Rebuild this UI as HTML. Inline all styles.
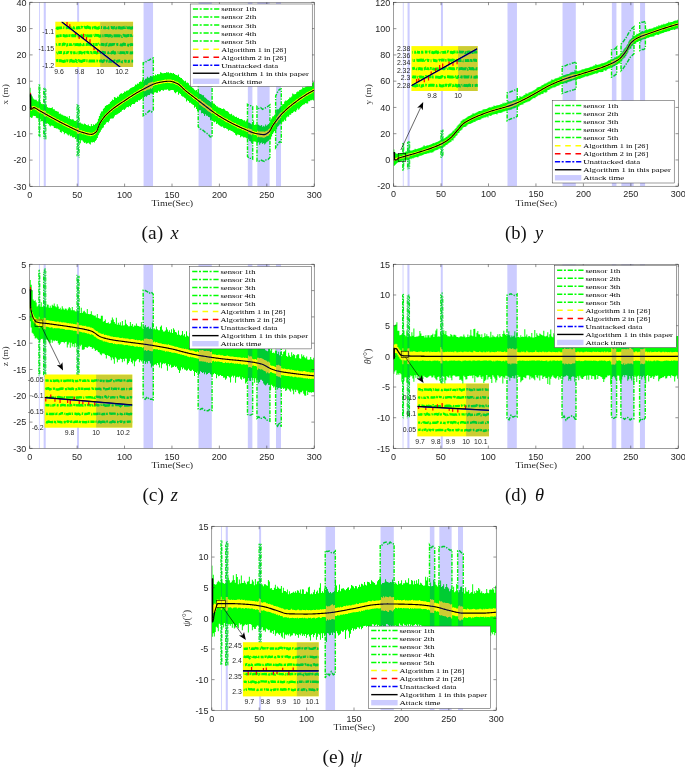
<!DOCTYPE html>
<html lang="en"><head><meta charset="utf-8"><title>Sensor attack estimation figure</title>
<style>
html,body{margin:0;padding:0;background:#fff;}
body{width:685px;height:767px;overflow:hidden;position:relative;}
svg{position:absolute;left:0;top:0;display:block;}
</style></head><body>
<svg width="685" height="767" viewBox="0 0 685 767">
<rect width="685" height="767" fill="#fff"/>
<clipPath id="cla"><rect x="29.8" y="2.3" width="284.4" height="184.1"/></clipPath>
<g clip-path="url(#cla)">
<polygon fill="#00ff00" points="29.8,93.59 30.8,93.59 30.8,95.13 31.8,95.13 31.8,96.39 32.8,96.39 32.8,98.53 33.81,98.53 33.81,99.52 34.81,99.52 34.81,99.72 35.81,99.72 35.81,99.73 36.81,99.73 36.81,101.37 37.81,101.37 37.81,101.37 38.81,101.37 38.81,98.95 39.81,98.95 39.81,101.71 40.82,101.71 40.82,103.65 41.82,103.65 41.82,103.67 42.82,103.67 42.82,104.76 43.82,104.76 43.82,105.12 44.82,105.12 44.82,105.62 45.82,105.62 45.82,104.87 46.82,104.87 46.82,107.03 47.83,107.03 47.83,107.64 48.83,107.64 48.83,107.69 49.83,107.69 49.83,108.06 50.83,108.06 50.83,108 51.83,108 51.83,107.35 52.83,107.35 52.83,109.28 53.83,109.28 53.83,109.26 54.84,109.26 54.84,110.85 55.84,110.85 55.84,110.89 56.84,110.89 56.84,111.58 57.84,111.58 57.84,111.83 58.84,111.83 58.84,113.74 59.84,113.74 59.84,113.45 60.84,113.45 60.84,114.6 61.85,114.6 61.85,114.64 62.85,114.64 62.85,115.49 63.85,115.49 63.85,115.68 64.85,115.68 64.85,116 65.85,116 65.85,116.84 66.85,116.84 66.85,116.86 67.85,116.86 67.85,118.13 68.85,118.13 68.85,115.94 69.86,115.94 69.86,118.99 70.86,118.99 70.86,119.58 71.86,119.58 71.86,119.27 72.86,119.27 72.86,119.59 73.86,119.59 73.86,120.67 74.86,120.67 74.86,120.97 75.86,120.97 75.86,120.58 76.87,120.58 76.87,122.54 77.87,122.54 77.87,122.58 78.87,122.58 78.87,122.77 79.87,122.77 79.87,122.52 80.87,122.52 80.87,123.38 81.87,123.38 81.87,123.87 82.87,123.87 82.87,124.38 83.88,124.38 83.88,123.38 84.88,123.38 84.88,124.1 85.88,124.1 85.88,125.07 86.88,125.07 86.88,125.33 87.88,125.33 87.88,124.44 88.88,124.44 88.88,125.96 89.88,125.96 89.88,126.16 90.89,126.16 90.89,123.93 91.89,123.93 91.89,125.9 92.89,125.9 92.89,124.35 93.89,124.35 93.89,125.07 94.89,125.07 94.89,123.86 95.89,123.86 95.89,123.26 96.89,123.26 96.89,121.81 97.9,121.81 97.9,118.74 98.9,118.74 98.9,116.05 99.9,116.05 99.9,113.59 100.9,113.59 100.9,111.45 101.9,111.45 101.9,111.33 102.9,111.33 102.9,108.79 103.9,108.79 103.9,107.69 104.91,107.69 104.91,106.05 105.91,106.05 105.91,105.22 106.91,105.22 106.91,104.88 107.91,104.88 107.91,104.33 108.91,104.33 108.91,103.77 109.91,103.77 109.91,102.03 110.91,102.03 110.91,100.95 111.92,100.95 111.92,99.52 112.92,99.52 112.92,100.01 113.92,100.01 113.92,97.09 114.92,97.09 114.92,97.54 115.92,97.54 115.92,98.05 116.92,98.05 116.92,96.39 117.92,96.39 117.92,96.71 118.93,96.71 118.93,94.82 119.93,94.82 119.93,93.67 120.93,93.67 120.93,93.23 121.93,93.23 121.93,93.69 122.93,93.69 122.93,92.9 123.93,92.9 123.93,91.39 124.93,91.39 124.93,91.8 125.94,91.8 125.94,90.82 126.94,90.82 126.94,90.57 127.94,90.57 127.94,90.17 128.94,90.17 128.94,89.34 129.94,89.34 129.94,88.18 130.94,88.18 130.94,87.87 131.94,87.87 131.94,87.3 132.95,87.3 132.95,86.88 133.95,86.88 133.95,86.14 134.95,86.14 134.95,84.52 135.95,84.52 135.95,84.68 136.95,84.68 136.95,83.41 137.95,83.41 137.95,83.79 138.95,83.79 138.95,82.04 139.95,82.04 139.95,81.58 140.96,81.58 140.96,81.8 141.96,81.8 141.96,79.77 142.96,79.77 142.96,81.19 143.96,81.19 143.96,80.3 144.96,80.3 144.96,78.84 145.96,78.84 145.96,78.42 146.96,78.42 146.96,76.71 147.97,76.71 147.97,77.84 148.97,77.84 148.97,77.49 149.97,77.49 149.97,75.95 150.97,75.95 150.97,76.34 151.97,76.34 151.97,76.41 152.97,76.41 152.97,75.91 153.97,75.91 153.97,75.67 154.98,75.67 154.98,74.47 155.98,74.47 155.98,75.18 156.98,75.18 156.98,74.08 157.98,74.08 157.98,74.35 158.98,74.35 158.98,74.23 159.98,74.23 159.98,72.31 160.98,72.31 160.98,72.77 161.99,72.77 161.99,73.21 162.99,73.21 162.99,73.24 163.99,73.24 163.99,73.11 164.99,73.11 164.99,73.02 165.99,73.02 165.99,72.18 166.99,72.18 166.99,72.59 167.99,72.59 167.99,72.35 169,72.35 169,73.21 170,73.21 170,72.74 171,72.74 171,72.89 172,72.89 172,73.38 173,73.38 173,73.09 174,73.09 174,74 175,74 175,74.82 176.01,74.82 176.01,75.08 177.01,75.08 177.01,75.46 178.01,75.46 178.01,74.58 179.01,74.58 179.01,77.08 180.01,77.08 180.01,77.78 181.01,77.78 181.01,77.89 182.01,77.89 182.01,79.34 183.02,79.34 183.02,80.25 184.02,80.25 184.02,81.13 185.02,81.13 185.02,80.81 186.02,80.81 186.02,82.83 187.02,82.83 187.02,82.61 188.02,82.61 188.02,83.13 189.02,83.13 189.02,85.16 190.03,85.16 190.03,85.2 191.03,85.2 191.03,87.08 192.03,87.08 192.03,87.76 193.03,87.76 193.03,88.56 194.03,88.56 194.03,89.65 195.03,89.65 195.03,90.45 196.03,90.45 196.03,89.96 197.04,89.96 197.04,91.99 198.04,91.99 198.04,92.2 199.04,92.2 199.04,93.55 200.04,93.55 200.04,93.98 201.04,93.98 201.04,94.6 202.04,94.6 202.04,95.18 203.04,95.18 203.04,95.22 204.05,95.22 204.05,97.21 205.05,97.21 205.05,97.67 206.05,97.67 206.05,98.64 207.05,98.64 207.05,99.68 208.05,99.68 208.05,100.14 209.05,100.14 209.05,101.01 210.05,101.01 210.05,102.12 211.05,102.12 211.05,102.34 212.06,102.34 212.06,102.37 213.06,102.37 213.06,103.52 214.06,103.52 214.06,103.81 215.06,103.81 215.06,105.08 216.06,105.08 216.06,106.27 217.06,106.27 217.06,106.59 218.06,106.59 218.06,107.49 219.07,107.49 219.07,107.85 220.07,107.85 220.07,107.99 221.07,107.99 221.07,108.8 222.07,108.8 222.07,108.96 223.07,108.96 223.07,108.61 224.07,108.61 224.07,109.32 225.07,109.32 225.07,110.45 226.08,110.45 226.08,111.03 227.08,111.03 227.08,111.36 228.08,111.36 228.08,112.16 229.08,112.16 229.08,113.69 230.08,113.69 230.08,114.16 231.08,114.16 231.08,113.83 232.08,113.83 232.08,115.43 233.09,115.43 233.09,115.28 234.09,115.28 234.09,116.28 235.09,116.28 235.09,116.97 236.09,116.97 236.09,116.8 237.09,116.8 237.09,118.02 238.09,118.02 238.09,117.77 239.09,117.77 239.09,118.98 240.1,118.98 240.1,118.96 241.1,118.96 241.1,119.11 242.1,119.11 242.1,119.69 243.1,119.69 243.1,120.39 244.1,120.39 244.1,120.27 245.1,120.27 245.1,121.4 246.1,121.4 246.1,120.59 247.11,120.59 247.11,121.72 248.11,121.72 248.11,122.58 249.11,122.58 249.11,122.83 250.11,122.83 250.11,123.47 251.11,123.47 251.11,124.17 252.11,124.17 252.11,124.57 253.11,124.57 253.11,120.53 254.12,120.53 254.12,125.11 255.12,125.11 255.12,124.58 256.12,124.58 256.12,125.12 257.12,125.12 257.12,124.57 258.12,124.57 258.12,124.7 259.12,124.7 259.12,125.4 260.12,125.4 260.12,125.66 261.13,125.66 261.13,124.99 262.13,124.99 262.13,126.63 263.13,126.63 263.13,125.66 264.13,125.66 264.13,126.38 265.13,126.38 265.13,124.5 266.13,124.5 266.13,125.65 267.13,125.65 267.13,124.7 268.14,124.7 268.14,123.97 269.14,123.97 269.14,123.02 270.14,123.02 270.14,120.15 271.14,120.15 271.14,118.43 272.14,118.43 272.14,116.59 273.14,116.59 273.14,116.2 274.14,116.2 274.14,114.79 275.15,114.79 275.15,113.26 276.15,113.26 276.15,109.69 277.15,109.69 277.15,109.31 278.15,109.31 278.15,109.3 279.15,109.3 279.15,107.84 280.15,107.84 280.15,106.48 281.15,106.48 281.15,105.63 282.15,105.63 282.15,104.27 283.16,104.27 283.16,103.89 284.16,103.89 284.16,101.41 285.16,101.41 285.16,100.41 286.16,100.41 286.16,100.64 287.16,100.64 287.16,99.92 288.16,99.92 288.16,99.05 289.16,99.05 289.16,97.58 290.17,97.58 290.17,97.59 291.17,97.59 291.17,96.59 292.17,96.59 292.17,93.43 293.17,93.43 293.17,94.36 294.17,94.36 294.17,94.3 295.17,94.3 295.17,94.01 296.17,94.01 296.17,92.15 297.18,92.15 297.18,91.4 298.18,91.4 298.18,91.5 299.18,91.5 299.18,90.01 300.18,90.01 300.18,89.84 301.18,89.84 301.18,89.31 302.18,89.31 302.18,87.24 303.18,87.24 303.18,87.73 304.19,87.73 304.19,87.47 305.19,87.47 305.19,86.48 306.19,86.48 306.19,86.3 307.19,86.3 307.19,85.8 308.19,85.8 308.19,83.38 309.19,83.38 309.19,83.58 310.19,83.58 310.19,82.98 311.2,82.98 311.2,83.41 312.2,83.41 312.2,82.74 313.2,82.74 313.2,81.99 314.2,81.99 314.2,100.41 313.2,100.41 313.2,99.82 312.2,99.82 312.2,100.31 311.2,100.31 311.2,100.17 310.19,100.17 310.19,101.25 309.19,101.25 309.19,101.31 308.19,101.31 308.19,103.56 307.19,103.56 307.19,103.48 306.19,103.48 306.19,103 305.19,103 305.19,104.3 304.19,104.3 304.19,104.61 303.18,104.61 303.18,104.94 302.18,104.94 302.18,106.09 301.18,106.09 301.18,107.06 300.18,107.06 300.18,108.59 299.18,108.59 299.18,109.69 298.18,109.69 298.18,108.5 297.18,108.5 297.18,110.17 296.17,110.17 296.17,111.98 295.17,111.98 295.17,111.18 294.17,111.18 294.17,111.73 293.17,111.73 293.17,113.03 292.17,113.03 292.17,113.18 291.17,113.18 291.17,114.63 290.17,114.63 290.17,114.73 289.16,114.73 289.16,116.78 288.16,116.78 288.16,116.52 287.16,116.52 287.16,117.45 286.16,117.45 286.16,120.9 285.16,120.9 285.16,119.64 284.16,119.64 284.16,121.59 283.16,121.59 283.16,121.71 282.15,121.71 282.15,123.68 281.15,123.68 281.15,123.56 280.15,123.56 280.15,124.5 279.15,124.5 279.15,125.64 278.15,125.64 278.15,126.73 277.15,126.73 277.15,129.32 276.15,129.32 276.15,129.54 275.15,129.54 275.15,130.97 274.14,130.97 274.14,132.5 273.14,132.5 273.14,133.98 272.14,133.98 272.14,136.59 271.14,136.59 271.14,139.33 270.14,139.33 270.14,139.6 269.14,139.6 269.14,140.84 268.14,140.84 268.14,141.58 267.13,141.58 267.13,142.24 266.13,142.24 266.13,143.47 265.13,143.47 265.13,144.59 264.13,144.59 264.13,142.99 263.13,142.99 263.13,144.1 262.13,144.1 262.13,142.56 261.13,142.56 261.13,143.18 260.12,143.18 260.12,144.83 259.12,144.83 259.12,142.19 258.12,142.19 258.12,142.94 257.12,142.94 257.12,142.29 256.12,142.29 256.12,141.87 255.12,141.87 255.12,141.43 254.12,141.43 254.12,141.38 253.11,141.38 253.11,140.75 252.11,140.75 252.11,143.35 251.11,143.35 251.11,141.42 250.11,141.42 250.11,140.97 249.11,140.97 249.11,139.27 248.11,139.27 248.11,138.42 247.11,138.42 247.11,138.17 246.1,138.17 246.1,137.62 245.1,137.62 245.1,137.24 244.1,137.24 244.1,137.52 243.1,137.52 243.1,136.47 242.1,136.47 242.1,136.24 241.1,136.24 241.1,137.34 240.1,137.34 240.1,135 239.09,135 239.09,134.8 238.09,134.8 238.09,134.61 237.09,134.61 237.09,135.43 236.09,135.43 236.09,134.87 235.09,134.87 235.09,133.06 234.09,133.06 234.09,132.19 233.09,132.19 233.09,131.52 232.08,131.52 232.08,131.06 231.08,131.06 231.08,130.47 230.08,130.47 230.08,130.11 229.08,130.11 229.08,130.74 228.08,130.74 228.08,129.32 227.08,129.32 227.08,128.83 226.08,128.83 226.08,127.93 225.07,127.93 225.07,128.25 224.07,128.25 224.07,127.66 223.07,127.66 223.07,126.39 222.07,126.39 222.07,126.83 221.07,126.83 221.07,126.27 220.07,126.27 220.07,125.5 219.07,125.5 219.07,124.67 218.06,124.67 218.06,123.41 217.06,123.41 217.06,123.95 216.06,123.95 216.06,121.61 215.06,121.61 215.06,122.21 214.06,122.21 214.06,121.49 213.06,121.49 213.06,120.7 212.06,120.7 212.06,119.64 211.05,119.64 211.05,120.18 210.05,120.18 210.05,117.28 209.05,117.28 209.05,117.1 208.05,117.1 208.05,115.75 207.05,115.75 207.05,115.66 206.05,115.66 206.05,114.37 205.05,114.37 205.05,115.93 204.05,115.93 204.05,113.79 203.04,113.79 203.04,112.94 202.04,112.94 202.04,113.16 201.04,113.16 201.04,110.26 200.04,110.26 200.04,110.23 199.04,110.23 199.04,110.88 198.04,110.88 198.04,111.03 197.04,111.03 197.04,108.94 196.03,108.94 196.03,106.84 195.03,106.84 195.03,107.63 194.03,107.63 194.03,105 193.03,105 193.03,104.61 192.03,104.61 192.03,103.79 191.03,103.79 191.03,102.84 190.03,102.84 190.03,102.66 189.02,102.66 189.02,101.04 188.02,101.04 188.02,100.37 187.02,100.37 187.02,101.48 186.02,101.48 186.02,98.56 185.02,98.56 185.02,97.66 184.02,97.66 184.02,96.78 183.02,96.78 183.02,96.49 182.01,96.49 182.01,95.82 181.01,95.82 181.01,93.93 180.01,93.93 180.01,93.27 179.01,93.27 179.01,94.75 178.01,94.75 178.01,91.87 177.01,91.87 177.01,92.34 176.01,92.34 176.01,93.23 175,93.23 175,92.2 174,92.2 174,90.33 173,90.33 173,90.03 172,90.03 172,90.07 171,90.07 171,90.14 170,90.14 170,90.84 169,90.84 169,90.4 167.99,90.4 167.99,89.32 166.99,89.32 166.99,89.69 165.99,89.69 165.99,89.69 164.99,89.69 164.99,89.63 163.99,89.63 163.99,90.86 162.99,90.86 162.99,90.24 161.99,90.24 161.99,90.03 160.98,90.03 160.98,91.18 159.98,91.18 159.98,91.86 158.98,91.86 158.98,90.65 157.98,90.65 157.98,92.77 156.98,92.77 156.98,92.78 155.98,92.78 155.98,92.2 154.98,92.2 154.98,92.52 153.97,92.52 153.97,92.03 152.97,92.03 152.97,93.88 151.97,93.88 151.97,93.48 150.97,93.48 150.97,93.61 149.97,93.61 149.97,95.1 148.97,95.1 148.97,95.1 147.97,95.1 147.97,95.41 146.96,95.41 146.96,96.76 145.96,96.76 145.96,96.13 144.96,96.13 144.96,97.03 143.96,97.03 143.96,97.91 142.96,97.91 142.96,97.71 141.96,97.71 141.96,98.95 140.96,98.95 140.96,99.87 139.95,99.87 139.95,100.56 138.95,100.56 138.95,100.14 137.95,100.14 137.95,101.99 136.95,101.99 136.95,101.63 135.95,101.63 135.95,102.48 134.95,102.48 134.95,103.99 133.95,103.99 133.95,103.93 132.95,103.93 132.95,104.07 131.94,104.07 131.94,105.16 130.94,105.16 130.94,107 129.94,107 129.94,106.05 128.94,106.05 128.94,107.32 127.94,107.32 127.94,107.08 126.94,107.08 126.94,107.4 125.94,107.4 125.94,108.83 124.93,108.83 124.93,110 123.93,110 123.93,109.51 122.93,109.51 122.93,110.11 121.93,110.11 121.93,111.56 120.93,111.56 120.93,112.08 119.93,112.08 119.93,112.97 118.93,112.97 118.93,113.54 117.92,113.54 117.92,114.16 116.92,114.16 116.92,114.7 115.92,114.7 115.92,115.02 114.92,115.02 114.92,116.38 113.92,116.38 113.92,118.32 112.92,118.32 112.92,118.49 111.92,118.49 111.92,118.53 110.91,118.53 110.91,118.84 109.91,118.84 109.91,120.68 108.91,120.68 108.91,122.6 107.91,122.6 107.91,122.1 106.91,122.1 106.91,122.54 105.91,122.54 105.91,124.29 104.91,124.29 104.91,125.03 103.9,125.03 103.9,127.4 102.9,127.4 102.9,128.13 101.9,128.13 101.9,129.72 100.9,129.72 100.9,131.66 99.9,131.66 99.9,133.31 98.9,133.31 98.9,135.34 97.9,135.34 97.9,138.02 96.89,138.02 96.89,139.7 95.89,139.7 95.89,140.93 94.89,140.93 94.89,142.46 93.89,142.46 93.89,141.88 92.89,141.88 92.89,142.53 91.89,142.53 91.89,142.31 90.89,142.31 90.89,144.49 89.88,144.49 89.88,143.84 88.88,143.84 88.88,142.7 87.88,142.7 87.88,143.18 86.88,143.18 86.88,143.79 85.88,143.79 85.88,142.39 84.88,142.39 84.88,142.88 83.88,142.88 83.88,141.72 82.87,141.72 82.87,140.49 81.87,140.49 81.87,140.33 80.87,140.33 80.87,143.21 79.87,143.21 79.87,140.13 78.87,140.13 78.87,140.2 77.87,140.2 77.87,140.54 76.87,140.54 76.87,138.56 75.86,138.56 75.86,138.88 74.86,138.88 74.86,137.12 73.86,137.12 73.86,137.48 72.86,137.48 72.86,137.2 71.86,137.2 71.86,135.83 70.86,135.83 70.86,136.25 69.86,136.25 69.86,134.62 68.85,134.62 68.85,135.52 67.85,135.52 67.85,134.56 66.85,134.56 66.85,133.55 65.85,133.55 65.85,133.08 64.85,133.08 64.85,134.35 63.85,134.35 63.85,131.91 62.85,131.91 62.85,131.37 61.85,131.37 61.85,132.8 60.84,132.8 60.84,132.11 59.84,132.11 59.84,129.79 58.84,129.79 58.84,129.26 57.84,129.26 57.84,128.57 56.84,128.57 56.84,128.45 55.84,128.45 55.84,128.02 54.84,128.02 54.84,127.95 53.83,127.95 53.83,126.36 52.83,126.36 52.83,125.85 51.83,125.85 51.83,125.45 50.83,125.45 50.83,126.5 49.83,126.5 49.83,125.51 48.83,125.51 48.83,124.1 47.83,124.1 47.83,123.26 46.82,123.26 46.82,123.81 45.82,123.81 45.82,122.86 44.82,122.86 44.82,122.95 43.82,122.95 43.82,122.71 42.82,122.71 42.82,121.04 41.82,121.04 41.82,121.16 40.82,121.16 40.82,119.1 39.81,119.1 39.81,120.06 38.81,120.06 38.81,118.09 37.81,118.09 37.81,118.27 36.81,118.27 36.81,117.71 35.81,117.71 35.81,116.09 34.81,116.09 34.81,115.93 33.81,115.93 33.81,115.69 32.8,115.69 32.8,117.61 31.8,117.61 31.8,117.95 30.8,117.95 30.8,116.95 29.8,116.95"/>
<line x1="38.88" y1="84.41" x2="38.88" y2="136.18" stroke="#00ff00" stroke-width="1.0" stroke-dasharray="4 1.3 1.3 1.3" stroke-dashoffset="5.9"/>
<line x1="39.41" y1="84.75" x2="39.41" y2="136.32" stroke="#00ff00" stroke-width="1.0" stroke-dasharray="4 1.3 1.3 1.3" stroke-dashoffset="2.62"/>
<line x1="39.94" y1="84.65" x2="39.94" y2="137.17" stroke="#00ff00" stroke-width="1.0" stroke-dasharray="4 1.3 1.3 1.3" stroke-dashoffset="5.88"/>
<line x1="43.62" y1="87.68" x2="43.62" y2="138.47" stroke="#00ff00" stroke-width="1.0" stroke-dasharray="4 1.3 1.3 1.3" stroke-dashoffset="4.79"/>
<line x1="44.39" y1="87.05" x2="44.39" y2="139.22" stroke="#00ff00" stroke-width="1.0" stroke-dasharray="4 1.3 1.3 1.3" stroke-dashoffset="3.73"/>
<line x1="45.15" y1="88.22" x2="45.15" y2="138.82" stroke="#00ff00" stroke-width="1.0" stroke-dasharray="4 1.3 1.3 1.3" stroke-dashoffset="2.53"/>
<line x1="45.92" y1="89.18" x2="45.92" y2="139.86" stroke="#00ff00" stroke-width="1.0" stroke-dasharray="4 1.3 1.3 1.3" stroke-dashoffset="1.21"/>
<line x1="76.99" y1="104.17" x2="76.99" y2="156.35" stroke="#00ff00" stroke-width="1.0" stroke-dasharray="4 1.3 1.3 1.3" stroke-dashoffset="5.51"/>
<line x1="77.72" y1="104.81" x2="77.72" y2="155.96" stroke="#00ff00" stroke-width="1.0" stroke-dasharray="4 1.3 1.3 1.3" stroke-dashoffset="1.38"/>
<line x1="78.46" y1="105.32" x2="78.46" y2="156.2" stroke="#00ff00" stroke-width="1.0" stroke-dasharray="4 1.3 1.3 1.3" stroke-dashoffset="5.4"/>
<line x1="79.19" y1="105.27" x2="79.19" y2="157.54" stroke="#00ff00" stroke-width="1.0" stroke-dasharray="4 1.3 1.3 1.3" stroke-dashoffset="3.65"/>
<path d="M143.23,89.26 L143.23,62.77 145.25,62.45 147.27,60.39 149.29,60.13 151.31,58.79 153.32,57.98 L153.32,84.2" fill="none" stroke="#00ff00" stroke-width="1.45" stroke-dasharray="4 1.3 1.3 1.3"/>
<path d="M143.23,89.26 L143.23,115.78 145.25,114.48 147.27,112.88 149.29,110.71 151.31,112.09 153.32,110.37 L153.32,84.2" fill="none" stroke="#00ff00" stroke-width="1.45" stroke-dasharray="4 1.3 1.3 1.3"/>
<path d="M198.21,100.55 L198.21,74.39 200.2,76.3 202.18,77.15 204.16,79.33 206.15,80.42 208.13,81.23 210.12,84.55 212.1,84.79 L212.1,111.18" fill="none" stroke="#00ff00" stroke-width="1.45" stroke-dasharray="4 1.3 1.3 1.3"/>
<path d="M198.21,100.55 L198.21,126.64 200.2,128.92 202.18,129.62 204.16,131.25 206.15,133.17 208.13,133.85 210.12,136.76 212.1,137.17 L212.1,111.18" fill="none" stroke="#00ff00" stroke-width="1.45" stroke-dasharray="4 1.3 1.3 1.3"/>
<path d="M247.51,130.48 L247.51,104.35 249.23,105.54 250.95,105.76 252.67,106.49 L252.67,132.56" fill="none" stroke="#00ff00" stroke-width="1.45" stroke-dasharray="4 1.3 1.3 1.3"/>
<path d="M247.51,130.48 L247.51,156.37 249.23,158.39 250.95,158.37 252.67,159.15 L252.67,132.56" fill="none" stroke="#00ff00" stroke-width="1.45" stroke-dasharray="4 1.3 1.3 1.3"/>
<path d="M256.99,133.74 L256.99,106.61 258.84,108.41 260.69,107.5 262.53,109.25 264.38,108.11 266.23,107.73 268.08,106.22 269.93,104.9 L269.93,130.77" fill="none" stroke="#00ff00" stroke-width="1.45" stroke-dasharray="4 1.3 1.3 1.3"/>
<path d="M256.99,133.74 L256.99,161.16 258.84,161.25 260.69,159.96 262.53,160.76 264.38,161.38 266.23,159.76 268.08,159.44 269.93,157.52 L269.93,130.77" fill="none" stroke="#00ff00" stroke-width="1.45" stroke-dasharray="4 1.3 1.3 1.3"/>
<path d="M275.66,121.46 L275.66,95.88 277.54,92.07 279.42,89.32 281.3,88.84 L281.3,114.56" fill="none" stroke="#00ff00" stroke-width="1.45" stroke-dasharray="4 1.3 1.3 1.3"/>
<path d="M275.66,121.46 L275.66,147.65 277.54,144.78 279.42,141.84 281.3,142.23 L281.3,114.56" fill="none" stroke="#00ff00" stroke-width="1.45" stroke-dasharray="4 1.3 1.3 1.3"/>
<polygon fill="#ffff00" points="29.8,106.82 30.8,106.82 30.8,107.44 31.8,107.44 31.8,106.31 32.8,106.31 32.8,105.92 33.81,105.92 33.81,106.15 34.81,106.15 34.81,106.47 35.81,106.47 35.81,107.03 36.81,107.03 36.81,107.73 37.81,107.73 37.81,108.31 38.81,108.31 38.81,107.79 39.81,107.79 39.81,109.54 40.82,109.54 40.82,110.02 41.82,110.02 41.82,110.4 42.82,110.4 42.82,110.97 43.82,110.97 43.82,110.46 44.82,110.46 44.82,111.11 45.82,111.11 45.82,112.87 46.82,112.87 46.82,113.5 47.83,113.5 47.83,113.86 48.83,113.86 48.83,114.58 49.83,114.58 49.83,115.08 50.83,115.08 50.83,115.79 51.83,115.79 51.83,116.34 52.83,116.34 52.83,116.85 53.83,116.85 53.83,117.26 54.84,117.26 54.84,117.78 55.84,117.78 55.84,118.44 56.84,118.44 56.84,119.02 57.84,119.02 57.84,119.3 58.84,119.3 58.84,120.01 59.84,120.01 59.84,120.65 60.84,120.65 60.84,121.05 61.85,121.05 61.85,121.62 62.85,121.62 62.85,122.03 63.85,122.03 63.85,122.72 64.85,122.72 64.85,123.07 65.85,123.07 65.85,123.19 66.85,123.19 66.85,123.98 67.85,123.98 67.85,124.4 68.85,124.4 68.85,125.14 69.86,125.14 69.86,125.63 70.86,125.63 70.86,125.94 71.86,125.94 71.86,126.66 72.86,126.66 72.86,126.94 73.86,126.94 73.86,127.24 74.86,127.24 74.86,128.09 75.86,128.09 75.86,128.53 76.87,128.53 76.87,127.85 77.87,127.85 77.87,127.93 78.87,127.93 78.87,129.73 79.87,129.73 79.87,130.14 80.87,130.14 80.87,130.25 81.87,130.25 81.87,130.64 82.87,130.64 82.87,130.98 83.88,130.98 83.88,131.21 84.88,131.21 84.88,131.67 85.88,131.67 85.88,131.92 86.88,131.92 86.88,132.24 87.88,132.24 87.88,132.24 88.88,132.24 88.88,132.61 89.88,132.61 89.88,132.69 90.89,132.69 90.89,132.69 91.89,132.69 91.89,132.66 92.89,132.66 92.89,131.96 93.89,131.96 93.89,131.75 94.89,131.75 94.89,130.8 95.89,130.8 95.89,129.84 96.89,129.84 96.89,128.13 97.9,128.13 97.9,125.56 98.9,125.56 98.9,122.65 99.9,122.65 99.9,120.87 100.9,120.87 100.9,119.35 101.9,119.35 101.9,117.61 102.9,117.61 102.9,116.45 103.9,116.45 103.9,115.18 104.91,115.18 104.91,113.87 105.91,113.87 105.91,113.07 106.91,113.07 106.91,111.89 107.91,111.89 107.91,111.09 108.91,111.09 108.91,110.15 109.91,110.15 109.91,109.24 110.91,109.24 110.91,108.45 111.92,108.45 111.92,107.52 112.92,107.52 112.92,106.85 113.92,106.85 113.92,105.96 114.92,105.96 114.92,105.33 115.92,105.33 115.92,104.55 116.92,104.55 116.92,103.85 117.92,103.85 117.92,103.18 118.93,103.18 118.93,102.54 119.93,102.54 119.93,101.7 120.93,101.7 120.93,101.24 121.93,101.24 121.93,100.39 122.93,100.39 122.93,99.7 123.93,99.7 123.93,99.24 124.93,99.24 124.93,98.45 125.94,98.45 125.94,97.83 126.94,97.83 126.94,97.03 127.94,97.03 127.94,96.53 128.94,96.53 128.94,95.79 129.94,95.79 129.94,95.23 130.94,95.23 130.94,94.58 131.94,94.58 131.94,93.9 132.95,93.9 132.95,93.25 133.95,93.25 133.95,92.5 134.95,92.5 134.95,91.98 135.95,91.98 135.95,91.44 136.95,91.44 136.95,90.83 137.95,90.83 137.95,90.32 138.95,90.32 138.95,89.29 139.95,89.29 139.95,89.01 140.96,89.01 140.96,88.65 141.96,88.65 141.96,88 142.96,88 142.96,87.37 143.96,87.37 143.96,85.92 144.96,85.92 144.96,84.96 145.96,84.96 145.96,84.95 146.96,84.95 146.96,84.43 147.97,84.43 147.97,83.26 148.97,83.26 148.97,82.83 149.97,82.83 149.97,82.42 150.97,82.42 150.97,82.37 151.97,82.37 151.97,81.68 152.97,81.68 152.97,82.56 153.97,82.56 153.97,82.19 154.98,82.19 154.98,81.66 155.98,81.66 155.98,81.55 156.98,81.55 156.98,81.12 157.98,81.12 157.98,81.09 158.98,81.09 158.98,80.83 159.98,80.83 159.98,80.66 160.98,80.66 160.98,80.42 161.99,80.42 161.99,80.31 162.99,80.31 162.99,79.91 163.99,79.91 163.99,79.81 164.99,79.81 164.99,79.59 165.99,79.59 165.99,79.79 166.99,79.79 166.99,79.41 167.99,79.41 167.99,79.49 169,79.49 169,79.44 170,79.44 170,79.54 171,79.54 171,79.82 172,79.82 172,80.18 173,80.18 173,80.04 174,80.04 174,80.78 175,80.78 175,81.16 176.01,81.16 176.01,81.4 177.01,81.4 177.01,81.77 178.01,81.77 178.01,82.53 179.01,82.53 179.01,83.47 180.01,83.47 180.01,84.14 181.01,84.14 181.01,84.81 182.01,84.81 182.01,85.98 183.02,85.98 183.02,86.95 184.02,86.95 184.02,87.76 185.02,87.76 185.02,89.05 186.02,89.05 186.02,89.71 187.02,89.71 187.02,90.42 188.02,90.42 188.02,91.42 189.02,91.42 189.02,92.23 190.03,92.23 190.03,93.08 191.03,93.08 191.03,93.85 192.03,93.85 192.03,94.55 193.03,94.55 193.03,95.23 194.03,95.23 194.03,96.18 195.03,96.18 195.03,96.83 196.03,96.83 196.03,97.37 197.04,97.37 197.04,98.33 198.04,98.33 198.04,99.09 199.04,99.09 199.04,98.79 200.04,98.79 200.04,99.13 201.04,99.13 201.04,100.41 202.04,100.41 202.04,100.89 203.04,100.89 203.04,101.95 204.05,101.95 204.05,102.5 205.05,102.5 205.05,103.41 206.05,103.41 206.05,104.13 207.05,104.13 207.05,104.99 208.05,104.99 208.05,105.76 209.05,105.76 209.05,106.22 210.05,106.22 210.05,107.08 211.05,107.08 211.05,108.02 212.06,108.02 212.06,109.82 213.06,109.82 213.06,110.43 214.06,110.43 214.06,111.24 215.06,111.24 215.06,111.62 216.06,111.62 216.06,112.71 217.06,112.71 217.06,113.38 218.06,113.38 218.06,114.1 219.07,114.1 219.07,114.58 220.07,114.58 220.07,115.3 221.07,115.3 221.07,115.83 222.07,115.83 222.07,116.53 223.07,116.53 223.07,117.09 224.07,117.09 224.07,117.68 225.07,117.68 225.07,118.29 226.08,118.29 226.08,118.57 227.08,118.57 227.08,119.02 228.08,119.02 228.08,119.92 229.08,119.92 229.08,120.22 230.08,120.22 230.08,120.82 231.08,120.82 231.08,121.55 232.08,121.55 232.08,122.02 233.09,122.02 233.09,122.44 234.09,122.44 234.09,122.95 235.09,122.95 235.09,123.06 236.09,123.06 236.09,124.06 237.09,124.06 237.09,124.47 238.09,124.47 238.09,124.8 239.09,124.8 239.09,125.35 240.1,125.35 240.1,125.89 241.1,125.89 241.1,126.27 242.1,126.27 242.1,126.76 243.1,126.76 243.1,127.21 244.1,127.21 244.1,127.6 245.1,127.6 245.1,127.95 246.1,127.95 246.1,128.24 247.11,128.24 247.11,128.85 248.11,128.85 248.11,128.31 249.11,128.31 249.11,128.72 250.11,128.72 250.11,129.01 251.11,129.01 251.11,129.38 252.11,129.38 252.11,130.81 253.11,130.81 253.11,131.06 254.12,131.06 254.12,131.52 255.12,131.52 255.12,131.86 256.12,131.86 256.12,131.96 257.12,131.96 257.12,130.85 258.12,130.85 258.12,131.38 259.12,131.38 259.12,131.39 260.12,131.39 260.12,131.53 261.13,131.53 261.13,131.54 262.13,131.54 262.13,131.52 263.13,131.52 263.13,131.44 264.13,131.44 264.13,131.8 265.13,131.8 265.13,131.13 266.13,131.13 266.13,130.73 267.13,130.73 267.13,130.38 268.14,130.38 268.14,129.27 269.14,129.27 269.14,128.57 270.14,128.57 270.14,127.83 271.14,127.83 271.14,126.14 272.14,126.14 272.14,124.24 273.14,124.24 273.14,122.57 274.14,122.57 274.14,121.3 275.15,121.3 275.15,119.89 276.15,119.89 276.15,117.45 277.15,117.45 277.15,116.07 278.15,116.07 278.15,114.76 279.15,114.76 279.15,113.57 280.15,113.57 280.15,112.62 281.15,112.62 281.15,112.54 282.15,112.54 282.15,111.63 283.16,111.63 283.16,110.54 284.16,110.54 284.16,109.43 285.16,109.43 285.16,108.67 286.16,108.67 286.16,107.74 287.16,107.74 287.16,106.55 288.16,106.55 288.16,105.47 289.16,105.47 289.16,104.94 290.17,104.94 290.17,103.81 291.17,103.81 291.17,103.47 292.17,103.47 292.17,102.6 293.17,102.6 293.17,101.78 294.17,101.78 294.17,101.08 295.17,101.08 295.17,100.24 296.17,100.24 296.17,99.32 297.18,99.32 297.18,98.85 298.18,98.85 298.18,98.15 299.18,98.15 299.18,97.28 300.18,97.28 300.18,96.69 301.18,96.69 301.18,96.01 302.18,96.01 302.18,95.33 303.18,95.33 303.18,94.7 304.19,94.7 304.19,94.04 305.19,94.04 305.19,93.3 306.19,93.3 306.19,92.58 307.19,92.58 307.19,92.03 308.19,92.03 308.19,91.41 309.19,91.41 309.19,90.97 310.19,90.97 310.19,90.43 311.2,90.43 311.2,89.9 312.2,89.9 312.2,89.31 313.2,89.31 313.2,88.85 314.2,88.85 314.2,92.09 313.2,92.09 313.2,92.47 312.2,92.47 312.2,93.27 311.2,93.27 311.2,93.81 310.19,93.81 310.19,94.21 309.19,94.21 309.19,94.87 308.19,94.87 308.19,95.46 307.19,95.46 307.19,96.07 306.19,96.07 306.19,96.53 305.19,96.53 305.19,97.21 304.19,97.21 304.19,97.89 303.18,97.89 303.18,98.71 302.18,98.71 302.18,99.45 301.18,99.45 301.18,99.92 300.18,99.92 300.18,100.73 299.18,100.73 299.18,101.49 298.18,101.49 298.18,102.13 297.18,102.13 297.18,102.74 296.17,102.74 296.17,103.5 295.17,103.5 295.17,104.52 294.17,104.52 294.17,104.98 293.17,104.98 293.17,105.82 292.17,105.82 292.17,106.57 291.17,106.57 291.17,107.45 290.17,107.45 290.17,108.22 289.16,108.22 289.16,109.37 288.16,109.37 288.16,110.03 287.16,110.03 287.16,111.06 286.16,111.06 286.16,111.89 285.16,111.89 285.16,112.83 284.16,112.83 284.16,113.81 283.16,113.81 283.16,114.92 282.15,114.92 282.15,115.79 281.15,115.79 281.15,118.06 280.15,118.06 280.15,119.42 279.15,119.42 279.15,120.35 278.15,120.35 278.15,121.79 277.15,121.79 277.15,123.14 276.15,123.14 276.15,123.08 275.15,123.08 275.15,124.48 274.14,124.48 274.14,126.24 273.14,126.24 273.14,127.83 272.14,127.83 272.14,129.34 271.14,129.34 271.14,131.17 270.14,131.17 270.14,133.98 269.14,133.98 269.14,135.58 268.14,135.58 268.14,136.01 267.13,136.01 267.13,136.3 266.13,136.3 266.13,136.97 265.13,136.97 265.13,137.45 264.13,137.45 264.13,137.63 263.13,137.63 263.13,137.52 262.13,137.52 262.13,137.19 261.13,137.19 261.13,137.35 260.12,137.35 260.12,137.16 259.12,137.16 259.12,136.67 258.12,136.67 258.12,137.13 257.12,137.13 257.12,135.4 256.12,135.4 256.12,135.05 255.12,135.05 255.12,134.96 254.12,134.96 254.12,134.52 253.11,134.52 253.11,134.25 252.11,134.25 252.11,135.21 251.11,135.21 251.11,134.4 250.11,134.4 250.11,134.35 249.11,134.35 249.11,133.75 248.11,133.75 248.11,132.05 247.11,132.05 247.11,131.72 246.1,131.72 246.1,131.17 245.1,131.17 245.1,130.8 244.1,130.8 244.1,130.34 243.1,130.34 243.1,130.26 242.1,130.26 242.1,129.47 241.1,129.47 241.1,129.01 240.1,129.01 240.1,128.72 239.09,128.72 239.09,128.22 238.09,128.22 238.09,128.17 237.09,128.17 237.09,127.36 236.09,127.36 236.09,126.74 235.09,126.74 235.09,126.18 234.09,126.18 234.09,125.65 233.09,125.65 233.09,125.23 232.08,125.23 232.08,124.69 231.08,124.69 231.08,124.23 230.08,124.23 230.08,123.8 229.08,123.8 229.08,123.07 228.08,123.07 228.08,122.59 227.08,122.59 227.08,122.13 226.08,122.13 226.08,121.7 225.07,121.7 225.07,120.98 224.07,120.98 224.07,120.32 223.07,120.32 223.07,119.76 222.07,119.76 222.07,119.17 221.07,119.17 221.07,118.46 220.07,118.46 220.07,117.85 219.07,117.85 219.07,117.7 218.06,117.7 218.06,116.61 217.06,116.61 217.06,115.93 216.06,115.93 216.06,115.46 215.06,115.46 215.06,114.5 214.06,114.5 214.06,113.86 213.06,113.86 213.06,113.14 212.06,113.14 212.06,113.51 211.05,113.51 211.05,112.64 210.05,112.64 210.05,112.11 209.05,112.11 209.05,111.56 208.05,111.56 208.05,110.77 207.05,110.77 207.05,109.67 206.05,109.67 206.05,108.84 205.05,108.84 205.05,108.09 204.05,108.09 204.05,107.52 203.04,107.52 203.04,106.65 202.04,106.65 202.04,106.04 201.04,106.04 201.04,105.13 200.04,105.13 200.04,104.52 199.04,104.52 199.04,102.4 198.04,102.4 198.04,101.68 197.04,101.68 197.04,100.92 196.03,100.92 196.03,100.1 195.03,100.1 195.03,99.56 194.03,99.56 194.03,98.93 193.03,98.93 193.03,97.92 192.03,97.92 192.03,96.96 191.03,96.96 191.03,96.29 190.03,96.29 190.03,95.53 189.02,95.53 189.02,94.83 188.02,94.83 188.02,93.81 187.02,93.81 187.02,93.12 186.02,93.12 186.02,92.3 185.02,92.3 185.02,91.31 184.02,91.31 184.02,90.39 183.02,90.39 183.02,89.32 182.01,89.32 182.01,88.59 181.01,88.59 181.01,87.51 180.01,87.51 180.01,86.73 179.01,86.73 179.01,86.01 178.01,86.01 178.01,85.24 177.01,85.24 177.01,84.74 176.01,84.74 176.01,84.39 175,84.39 175,84.02 174,84.02 174,83.6 173,83.6 173,83.36 172,83.36 172,83.23 171,83.23 171,83.31 170,83.31 170,83.01 169,83.01 169,83.02 167.99,83.02 167.99,82.81 166.99,82.81 166.99,82.95 165.99,82.95 165.99,83.03 164.99,83.03 164.99,83.13 163.99,83.13 163.99,83.23 162.99,83.23 162.99,83.44 161.99,83.44 161.99,83.71 160.98,83.71 160.98,84 159.98,84 159.98,84.18 158.98,84.18 158.98,84.31 157.98,84.31 157.98,84.66 156.98,84.66 156.98,84.93 155.98,84.93 155.98,85.01 154.98,85.01 154.98,85.57 153.97,85.57 153.97,85.95 152.97,85.95 152.97,87.69 151.97,87.69 151.97,88.63 150.97,88.63 150.97,88.24 149.97,88.24 149.97,89.16 148.97,89.16 148.97,89.47 147.97,89.47 147.97,89.67 146.96,89.67 146.96,90.24 145.96,90.24 145.96,90.89 144.96,90.89 144.96,91.34 143.96,91.34 143.96,90.84 142.96,90.84 142.96,91.32 141.96,91.32 141.96,91.81 140.96,91.81 140.96,92.34 139.95,92.34 139.95,92.84 138.95,92.84 138.95,93.48 137.95,93.48 137.95,94.02 136.95,94.02 136.95,94.62 135.95,94.62 135.95,95.2 134.95,95.2 134.95,95.84 133.95,95.84 133.95,96.39 132.95,96.39 132.95,97.07 131.94,97.07 131.94,98.1 130.94,98.1 130.94,98.3 129.94,98.3 129.94,99.02 128.94,99.02 128.94,99.87 127.94,99.87 127.94,100.41 126.94,100.41 126.94,100.98 125.94,100.98 125.94,101.87 124.93,101.87 124.93,102.36 123.93,102.36 123.93,103.03 122.93,103.03 122.93,103.74 121.93,103.74 121.93,104.45 120.93,104.45 120.93,105.31 119.93,105.31 119.93,105.71 118.93,105.71 118.93,106.39 117.92,106.39 117.92,107.49 116.92,107.49 116.92,108.08 115.92,108.08 115.92,108.54 114.92,108.54 114.92,109.24 113.92,109.24 113.92,110.01 112.92,110.01 112.92,110.82 111.92,110.82 111.92,111.95 110.91,111.95 110.91,112.44 109.91,112.44 109.91,113.36 108.91,113.36 108.91,114.21 107.91,114.21 107.91,115.19 106.91,115.19 106.91,116.21 105.91,116.21 105.91,117.33 104.91,117.33 104.91,118.38 103.9,118.38 103.9,119.61 102.9,119.61 102.9,120.96 101.9,120.96 101.9,122.45 100.9,122.45 100.9,124.07 99.9,124.07 99.9,126.17 98.9,126.17 98.9,128.9 97.9,128.9 97.9,131.42 96.89,131.42 96.89,133.34 95.89,133.34 95.89,134.2 94.89,134.2 94.89,134.93 93.89,134.93 93.89,135.62 92.89,135.62 92.89,135.87 91.89,135.87 91.89,136.01 90.89,136.01 90.89,136.13 89.88,136.13 89.88,135.74 88.88,135.74 88.88,135.74 87.88,135.74 87.88,135.4 86.88,135.4 86.88,135.21 85.88,135.21 85.88,134.79 84.88,134.79 84.88,134.58 83.88,134.58 83.88,134.24 82.87,134.24 82.87,134.17 81.87,134.17 81.87,133.59 80.87,133.59 80.87,133.29 79.87,133.29 79.87,133.25 78.87,133.25 78.87,134.04 77.87,134.04 77.87,133.49 76.87,133.49 76.87,131.67 75.86,131.67 75.86,131.23 74.86,131.23 74.86,130.76 73.86,130.76 73.86,130.45 72.86,130.45 72.86,129.83 71.86,129.83 71.86,129.4 70.86,129.4 70.86,128.8 69.86,128.8 69.86,128.37 68.85,128.37 68.85,127.92 67.85,127.92 67.85,127.54 66.85,127.54 66.85,126.81 65.85,126.81 65.85,126.41 64.85,126.41 64.85,125.88 63.85,125.88 63.85,125.53 62.85,125.53 62.85,124.79 61.85,124.79 61.85,124.24 60.84,124.24 60.84,123.89 59.84,123.89 59.84,123.36 58.84,123.36 58.84,122.74 57.84,122.74 57.84,122.44 56.84,122.44 56.84,121.87 55.84,121.87 55.84,121.24 54.84,121.24 54.84,120.52 53.83,120.52 53.83,120.12 52.83,120.12 52.83,119.46 51.83,119.46 51.83,118.89 50.83,118.89 50.83,118.4 49.83,118.4 49.83,117.83 48.83,117.83 48.83,117.32 47.83,117.32 47.83,116.8 46.82,116.8 46.82,116.09 45.82,116.09 45.82,116.83 44.82,116.83 44.82,116.32 43.82,116.32 43.82,114.57 42.82,114.57 42.82,113.77 41.82,113.77 41.82,113.41 40.82,113.41 40.82,112.62 39.81,112.62 39.81,113.36 38.81,113.36 38.81,111.74 37.81,111.74 37.81,111.35 36.81,111.35 36.81,110.21 35.81,110.21 35.81,109.77 34.81,109.77 34.81,109.26 33.81,109.26 33.81,109.21 32.8,109.21 32.8,109.79 31.8,109.79 31.8,110.89 30.8,110.89 30.8,109.98 29.8,109.98"/>
<line x1="30.08" y1="87.78" x2="30.08" y2="96.98" stroke="#00ff00" stroke-width="1"/>
<line x1="30.56" y1="93.82" x2="30.56" y2="109.87" stroke="#000" stroke-width="1.5"/>
<line x1="30.37" y1="92.77" x2="30.37" y2="94.35" stroke="#ff0000" stroke-width="1.2"/>
<polyline fill="none" stroke="#000" stroke-width="1.15" stroke-linejoin="round" points="29.8,94.35 30.37,106.19 30.51,107.01 31.22,109.08 31.23,109.08 31.94,109.03 32.65,108.73 33.36,107.91 33.59,107.5 34.08,107.63 34.79,107.87 35.5,108.21 36.22,108.62 36.93,109.07 37.64,109.53 38.35,109.99 39.07,110.41 39.78,110.79 40.49,111.18 41.2,111.57 41.92,111.97 42.63,112.38 43.34,112.8 44.06,113.21 44.77,113.63 45.48,114.05 46.19,114.46 46.91,114.87 47.62,115.28 48.33,115.68 49.05,116.07 49.76,116.46 50.47,116.86 51.18,117.25 51.9,117.64 52.61,118.03 53.32,118.42 54.03,118.81 54.75,119.2 55.46,119.58 56.17,119.97 56.89,120.35 57.6,120.73 58.31,121.12 59.02,121.49 59.74,121.87 60.45,122.25 61.16,122.62 61.88,122.99 62.59,123.36 63.3,123.72 64.01,124.08 64.73,124.44 65.44,124.8 66.15,125.15 66.86,125.5 67.58,125.84 68.29,126.19 69,126.53 69.72,126.89 70.43,127.24 71.14,127.6 71.85,127.95 72.57,128.31 73.28,128.66 73.99,129 74.71,129.35 75.42,129.68 76.13,130.01 76.84,130.33 77.56,130.63 78.27,130.93 78.98,131.21 79.69,131.48 80.41,131.74 81.12,131.97 81.83,132.19 82.55,132.4 83.26,132.62 83.97,132.83 84.68,133.05 85.4,133.26 86.11,133.46 86.82,133.65 87.54,133.83 88.25,133.98 88.96,134.11 89.67,134.21 90.39,134.29 91.1,134.32 91.81,134.31 92.52,134.17 93.24,133.91 93.95,133.55 94.66,133.11 95.38,132.59 96.09,132.02 96.8,131.08 97.51,129.5 98.23,127.57 98.94,125.59 99.65,123.86 100.37,122.57 101.08,121.39 101.79,120.28 102.5,119.24 103.22,118.26 103.93,117.35 104.64,116.49 105.35,115.69 106.07,114.95 106.78,114.22 107.49,113.52 108.21,112.85 108.92,112.19 109.63,111.55 110.34,110.93 111.06,110.33 111.77,109.74 112.48,109.17 113.2,108.61 113.91,108.06 114.62,107.53 115.33,107 116.05,106.49 116.76,105.98 117.47,105.48 118.18,104.99 118.9,104.51 119.61,104.02 120.32,103.54 121.04,103.06 121.75,102.59 122.46,102.11 123.17,101.63 123.89,101.15 124.6,100.66 125.31,100.18 126.03,99.69 126.74,99.21 127.45,98.73 128.16,98.26 128.88,97.79 129.59,97.32 130.3,96.86 131.02,96.4 131.73,95.94 132.44,95.49 133.15,95.04 133.87,94.6 134.58,94.16 135.29,93.72 136,93.29 136.72,92.87 137.43,92.45 138.14,92.04 138.86,91.63 139.57,91.23 140.28,90.83 140.99,90.44 141.71,90.06 142.42,89.68 143.13,89.31 143.85,88.94 144.56,88.57 145.27,88.2 145.98,87.82 146.7,87.44 147.41,87.07 148.12,86.69 148.83,86.32 149.55,85.95 150.26,85.6 150.97,85.25 151.69,84.91 152.4,84.59 153.11,84.28 153.82,83.99 154.54,83.72 155.25,83.47 155.96,83.24 156.68,83.04 157.39,82.86 158.1,82.71 158.81,82.56 159.53,82.42 160.24,82.28 160.95,82.14 161.66,82 162.38,81.87 163.09,81.75 163.8,81.64 164.52,81.54 165.23,81.45 165.94,81.37 166.65,81.31 167.37,81.26 168.08,81.22 168.79,81.2 169.51,81.21 170.22,81.26 170.93,81.36 171.64,81.51 172.36,81.69 173.07,81.9 173.78,82.14 174.49,82.41 175.21,82.68 175.92,82.97 176.63,83.26 177.35,83.58 178.06,83.99 178.77,84.47 179.48,85.02 180.2,85.61 180.91,86.25 181.62,86.91 182.34,87.6 183.05,88.29 183.76,88.98 184.47,89.66 185.19,90.31 185.9,90.93 186.61,91.51 187.32,92.08 188.04,92.65 188.75,93.22 189.46,93.78 190.18,94.34 190.89,94.9 191.6,95.46 192.31,96.02 193.03,96.57 193.74,97.12 194.45,97.67 195.17,98.22 195.88,98.77 196.59,99.31 197.3,99.86 198.02,100.4 198.73,100.94 199.44,101.48 200.15,102.02 200.87,102.56 201.58,103.11 202.29,103.65 203.01,104.2 203.72,104.75 204.43,105.31 205.14,105.86 205.86,106.42 206.57,106.97 207.28,107.52 208,108.07 208.71,108.62 209.42,109.17 210.13,109.71 210.85,110.25 211.56,110.78 212.27,111.31 212.98,111.83 213.7,112.35 214.41,112.86 215.12,113.36 215.84,113.86 216.55,114.34 217.26,114.82 217.97,115.28 218.69,115.74 219.4,116.18 220.11,116.61 220.83,117.05 221.54,117.47 222.25,117.9 222.96,118.32 223.68,118.74 224.39,119.15 225.1,119.56 225.82,119.96 226.53,120.36 227.24,120.76 227.95,121.15 228.67,121.54 229.38,121.92 230.09,122.3 230.8,122.68 231.52,123.05 232.23,123.42 232.94,123.79 233.66,124.15 234.37,124.5 235.08,124.86 235.79,125.2 236.51,125.55 237.22,125.89 237.93,126.23 238.65,126.56 239.36,126.89 240.07,127.21 240.78,127.53 241.5,127.85 242.21,128.16 242.92,128.46 243.63,128.77 244.35,129.08 245.06,129.39 245.77,129.71 246.49,130.03 247.2,130.34 247.91,130.66 248.62,130.96 249.34,131.27 250.05,131.56 250.76,131.85 251.48,132.12 252.19,132.39 252.9,132.64 253.61,132.88 254.33,133.1 255.04,133.3 255.75,133.48 256.46,133.64 257.18,133.78 257.89,133.9 258.6,134.02 259.32,134.14 260.03,134.25 260.74,134.35 261.45,134.44 262.17,134.51 262.88,134.56 263.59,134.59 264.31,134.57 265.02,134.43 265.73,134.16 266.44,133.79 267.16,133.34 267.87,132.84 268.58,132.31 269.29,131.63 270.01,130.65 270.72,129.44 271.43,128.12 272.15,126.77 272.86,125.5 273.57,124.4 274.28,123.38 275,122.38 275.71,121.4 276.42,120.44 277.14,119.5 277.85,118.58 278.56,117.69 279.27,116.83 279.99,116.01 280.7,115.21 281.41,114.45 282.12,113.7 282.84,112.97 283.55,112.26 284.26,111.55 284.98,110.87 285.69,110.19 286.4,109.53 287.11,108.88 287.83,108.25 288.54,107.62 289.25,107.01 289.97,106.41 290.68,105.82 291.39,105.23 292.1,104.66 292.82,104.1 293.53,103.54 294.24,102.99 294.95,102.45 295.67,101.92 296.38,101.39 297.09,100.87 297.81,100.35 298.52,99.83 299.23,99.32 299.94,98.82 300.66,98.32 301.37,97.83 302.08,97.34 302.8,96.86 303.51,96.38 304.22,95.92 304.93,95.45 305.65,95 306.36,94.55 307.07,94.11 307.78,93.68 308.5,93.25 309.21,92.83 309.92,92.42 310.64,92.02 311.35,91.63 312.06,91.24 312.77,90.87 313.49,90.5 314.2,90.14"/>
<rect x="39" y="2.3" width="0.85" height="184.1" fill="rgba(0,0,255,0.2)"/>
<rect x="43.74" y="2.3" width="2.09" height="184.1" fill="rgba(0,0,255,0.2)"/>
<rect x="77.11" y="2.3" width="1.99" height="184.1" fill="rgba(0,0,255,0.2)"/>
<rect x="143.56" y="2.3" width="9.48" height="184.1" fill="rgba(0,0,255,0.2)"/>
<rect x="198.54" y="2.3" width="13.27" height="184.1" fill="rgba(0,0,255,0.2)"/>
<rect x="247.84" y="2.3" width="4.55" height="184.1" fill="rgba(0,0,255,0.2)"/>
<rect x="257.32" y="2.3" width="12.32" height="184.1" fill="rgba(0,0,255,0.2)"/>
<rect x="276" y="2.3" width="5.02" height="184.1" fill="rgba(0,0,255,0.2)"/>
</g>
<rect x="29.8" y="2.3" width="284.4" height="184.1" fill="none" stroke="#262626" stroke-width="0.45"/>
<path d="M29.8,186.4 v-2.8 M29.8,2.3 v2.8 M77.2,186.4 v-2.8 M77.2,2.3 v2.8 M124.6,186.4 v-2.8 M124.6,2.3 v2.8 M172,186.4 v-2.8 M172,2.3 v2.8 M219.4,186.4 v-2.8 M219.4,2.3 v2.8 M266.8,186.4 v-2.8 M266.8,2.3 v2.8 M314.2,186.4 v-2.8 M314.2,2.3 v2.8 M29.8,186.4 h2.8 M314.2,186.4 h-2.8 M29.8,160.1 h2.8 M314.2,160.1 h-2.8 M29.8,133.8 h2.8 M314.2,133.8 h-2.8 M29.8,107.5 h2.8 M314.2,107.5 h-2.8 M29.8,81.2 h2.8 M314.2,81.2 h-2.8 M29.8,54.9 h2.8 M314.2,54.9 h-2.8 M29.8,28.6 h2.8 M314.2,28.6 h-2.8 M29.8,2.3 h2.8 M314.2,2.3 h-2.8" stroke="#262626" stroke-width="0.5" fill="none"/>
<g font-family='"Liberation Sans", sans-serif' font-size="9" fill="#262626">
<text x="29.8" y="197.6" text-anchor="middle">0</text>
<text x="77.2" y="197.6" text-anchor="middle">50</text>
<text x="124.6" y="197.6" text-anchor="middle">100</text>
<text x="172" y="197.6" text-anchor="middle">150</text>
<text x="219.4" y="197.6" text-anchor="middle">200</text>
<text x="266.8" y="197.6" text-anchor="middle">250</text>
<text x="314.2" y="197.6" text-anchor="middle">300</text>
<text x="26.4" y="189.6" text-anchor="end">-30</text>
<text x="26.4" y="163.3" text-anchor="end">-20</text>
<text x="26.4" y="137" text-anchor="end">-10</text>
<text x="26.4" y="110.7" text-anchor="end">0</text>
<text x="26.4" y="84.4" text-anchor="end">10</text>
<text x="26.4" y="58.1" text-anchor="end">20</text>
<text x="26.4" y="31.8" text-anchor="end">30</text>
<text x="26.4" y="5.5" text-anchor="end">40</text>
</g>
<text x="172.4" y="206" text-anchor="middle" font-family='"Liberation Serif", serif' font-size="8.8" textLength="41.6" lengthAdjust="spacingAndGlyphs" fill="#262626">Time(Sec)</text>
<text transform="translate(7.7,94.35) rotate(-90)" text-anchor="middle" font-family='"Liberation Serif", serif' font-size="9.2" fill="#3a3a3a">x (m)</text>
<rect x="0" y="0" width="0" height="0" fill="none" stroke="#000" stroke-width="0.6"/>
<rect x="55.3" y="21.7" width="77.8" height="45.3" fill="#ffff00"/>
<clipPath id="cia"><rect x="55.3" y="21.7" width="77.8" height="45.3"/></clipPath>
<g clip-path="url(#cia)">
<polyline fill="none" points="56.1,27.51 57.6,28.44 59.1,27.89 60.6,27.87 62.1,27.57 63.6,27.66 65.1,27.94 66.6,27.89 68.1,27.45 69.6,28.08 71.1,27.79 72.6,27.41 74.1,28 75.6,27.65 77.1,27.94 78.6,27.53 80.1,27.81 81.6,27.21 83.1,27.81 84.6,27.24 86.1,27.75 87.6,26.93 89.1,27.68 90.6,27.92 92.1,27.85 93.6,28.06 95.1,27.37 96.6,28.17 98.1,28.19 99.6,27.34 101.1,27.46 102.6,27.53 104.1,27.69 105.6,27.76 107.1,26.95 108.6,27.88 110.1,27.62 111.6,27.39 113.1,27.99 114.6,27.59 116.1,28.04 117.6,27.86 119.1,27.6 120.6,28.05 122.1,27.94 123.6,27.55 125.1,27.21 126.6,27.53 128.1,27.89 129.6,27.63 131.1,28.23 132.6,27.78 134.1,27.76" stroke="#00ff00" stroke-width="2.9" stroke-dasharray="7.26 1.13 1.2 1.34 6.17 1.06 2.42 1.02 4.45 0.86 1.74 1.36 7.55 0.84 1.63 0.45 6.33 1.28 1.14 1.1 3.34 1.32 2.04 1.43 4.2 0.59 1.77 0.46 7.43 0.62 1.03 0.56 6.72 0.45 1.52 0.6 7.18 0.46 1.13 1.25 5.59 0.53 2.48 0.81 5.02 1.22 1.64 1.31" stroke-dashoffset="0.89"/>
<polyline fill="none" points="56.1,36.08 57.6,36.12 59.1,35.7 60.6,35.63 62.1,35.62 63.6,35.56 65.1,36.09 66.6,35.77 68.1,35.6 69.6,35.63 71.1,35.86 72.6,35.58 74.1,35.79 75.6,35.69 77.1,36.11 78.6,36.05 80.1,35.27 81.6,35.65 83.1,35.92 84.6,35.56 86.1,35.95 87.6,35.8 89.1,35.88 90.6,35.68 92.1,35.79 93.6,35.86 95.1,35.26 96.6,35.42 98.1,35.39 99.6,36.21 101.1,35.79 102.6,35.81 104.1,35.75 105.6,35.54 107.1,35.48 108.6,35.96 110.1,35.59 111.6,36.18 113.1,35.76 114.6,35.73 116.1,35.64 117.6,35.68 119.1,35.71 120.6,36.16 122.1,36.41 123.6,35.35 125.1,35.78 126.6,35.92 128.1,35.43 129.6,35.51 131.1,35.56 132.6,34.98 134.1,35.9" stroke="#00ff00" stroke-width="2.9" stroke-dasharray="5.41 0.42 2.35 0.94 5.36 0.48 2.14 0.69 5.32 1.19 2.15 0.82 2.86 1.48 1.23 0.45 6.22 1.36 0.95 0.45 6.56 1.03 1.24 0.69 7.1 0.42 1.21 0.8 7.15 0.75 0.89 1.22 6.63 0.54 2.04 1.09 4.71 1.04 1.65 1.27 8.21 0.78 0.95 0.8 6.1 0.68 1.06 0.63" stroke-dashoffset="2.54"/>
<polyline fill="none" points="56.1,44.83 57.6,44.25 59.1,44.4 60.6,44.53 62.1,44.74 63.6,44.01 65.1,44.49 66.6,45.07 68.1,44.48 69.6,44.58 71.1,44.51 72.6,44.15 74.1,44.8 75.6,44.59 77.1,44.56 78.6,44.73 80.1,44.75 81.6,43.94 83.1,44.66 84.6,44.34 86.1,44.56 87.6,44.3 89.1,44.25 90.6,44.8 92.1,44.51 93.6,44.43 95.1,44.43 96.6,44.54 98.1,44.51 99.6,43.8 101.1,44.25 102.6,44.44 104.1,44.74 105.6,44.93 107.1,44.24 108.6,45.1 110.1,44.55 111.6,44.67 113.1,44.36 114.6,44.34 116.1,44.95 117.6,44.46 119.1,44.49 120.6,44.87 122.1,45.04 123.6,44.07 125.1,44.47 126.6,44.52 128.1,45.07 129.6,45.27 131.1,44.51 132.6,44.64 134.1,44.79" stroke="#00ff00" stroke-width="2.9" stroke-dasharray="7.81 1.38 2.32 1.07 4.09 0.9 1.93 0.87 2.85 0.98 0.95 0.66 7.4 1.08 2.15 1.15 6.45 0.67 2 0.54 2.61 0.77 1.07 1.16 4.21 0.44 2.12 1.43 6.77 1.45 2.13 1.42 6.54 1.26 2.15 0.53 4.42 1.08 1.35 1.36 2.83 0.54 1.36 0.78 7.5 0.42 2.21 1.47" stroke-dashoffset="6.8"/>
<polyline fill="none" points="56.1,53.38 57.6,52.87 59.1,52.58 60.6,52.46 62.1,52.56 63.6,53.05 65.1,52.41 66.6,52.66 68.1,52.4 69.6,53.02 71.1,52.6 72.6,52.91 74.1,52.82 75.6,52.47 77.1,52.86 78.6,52.93 80.1,52.3 81.6,52.86 83.1,53.72 84.6,52.56 86.1,52.84 87.6,52.24 89.1,52.79 90.6,52.47 92.1,52.88 93.6,52.63 95.1,52.29 96.6,52.98 98.1,52.58 99.6,52.34 101.1,52.67 102.6,52.35 104.1,52.77 105.6,52.63 107.1,52.53 108.6,52.85 110.1,52.26 111.6,52.94 113.1,52.04 114.6,53.13 116.1,52.7 117.6,52.57 119.1,52.42 120.6,52.81 122.1,52.6 123.6,52.59 125.1,52.96 126.6,52.52 128.1,52.58 129.6,52.78 131.1,52.97 132.6,52.6 134.1,52.7" stroke="#00ff00" stroke-width="2.9" stroke-dasharray="5.59 0.81 0.88 0.48 4.65 1.05 1.1 0.6 3.89 1.22 2.1 0.94 2.83 1.43 2.28 0.73 2.55 0.94 1.09 0.82 4.9 0.74 2.35 0.83 3.17 1.03 2.31 0.65 5.55 0.82 1.95 0.74 4.03 1.46 2.2 1.17 6.44 1.43 0.9 0.88 6.24 0.54 2.49 1.15 7.05 1.46 1.78 1.4" stroke-dashoffset="13.01"/>
<polyline fill="none" points="56.1,60.98 57.6,60.57 59.1,60.74 60.6,60.65 62.1,61.04 63.6,61.39 65.1,61.01 66.6,60.77 68.1,60.87 69.6,61.16 71.1,60.38 72.6,61.3 74.1,61.25 75.6,60.37 77.1,61.48 78.6,60.62 80.1,61.05 81.6,61.48 83.1,60.62 84.6,60.55 86.1,60.77 87.6,60.78 89.1,61.07 90.6,60.95 92.1,60.96 93.6,60.97 95.1,61.06 96.6,60.85 98.1,61.21 99.6,61.11 101.1,60.8 102.6,61.67 104.1,60.72 105.6,61.34 107.1,60.88 108.6,61.22 110.1,61.27 111.6,61.38 113.1,61.55 114.6,60.86 116.1,61.99 117.6,61.24 119.1,60.87 120.6,60.7 122.1,61.84 123.6,61.62 125.1,61.11 126.6,61.35 128.1,61.52 129.6,61.15 131.1,60.99 132.6,61.11 134.1,61.38" stroke="#00ff00" stroke-width="2.9" stroke-dasharray="2.77 1.45 1.62 0.68 2.69 1.33 2.22 0.55 7.13 0.5 1.98 0.99 6.35 0.55 2.15 1.27 7.55 0.84 1.24 1 6.69 1.24 1.56 1.07 6.38 1.05 2.02 0.74 3.91 0.72 2.15 1.47 4.41 1.12 1.79 1.37 2.59 1.08 2.28 1.46 5 0.93 2.23 1.43 3.92 1.38 1 0.46" stroke-dashoffset="10.5"/>
<line x1="67.02" y1="25.81" x2="67.02" y2="21.89" stroke="#ff0000" stroke-width="1.2"/>
<line x1="69.79" y1="27.96" x2="69.79" y2="24.37" stroke="#ff0000" stroke-width="1.2"/>
<line x1="75.49" y1="32.36" x2="75.49" y2="35" stroke="#ff0000" stroke-width="1.2"/>
<line x1="79.17" y1="35.2" x2="79.17" y2="38.9" stroke="#ff0000" stroke-width="1.2"/>
<line x1="83.48" y1="38.54" x2="83.48" y2="33.83" stroke="#ff0000" stroke-width="1.2"/>
<line x1="86.5" y1="40.87" x2="86.5" y2="36.9" stroke="#ff0000" stroke-width="1.2"/>
<line x1="89.99" y1="43.57" x2="89.99" y2="39.13" stroke="#ff0000" stroke-width="1.2"/>
<line x1="94.08" y1="46.73" x2="94.08" y2="50.15" stroke="#ff0000" stroke-width="1.2"/>
<line x1="97.64" y1="49.49" x2="97.64" y2="52.48" stroke="#ff0000" stroke-width="1.2"/>
<line x1="61.7" y1="21.95" x2="120.3" y2="67.25" stroke="#0000d0" stroke-width="1.35"/>
<line x1="61.7" y1="21.7" x2="120.3" y2="67" stroke="#000" stroke-width="1.0"/>
<rect x="100.2" y="21.7" width="32.9" height="45.3" fill="rgba(0,0,255,0.2)"/>
</g>
<g font-family='"Liberation Sans", sans-serif' font-size="6.9" fill="#262626">
<text x="59" y="74.3" text-anchor="middle">9.6</text>
<text x="79.5" y="74.3" text-anchor="middle">9.8</text>
<text x="100.2" y="74.3" text-anchor="middle">10</text>
<text x="121.9" y="74.3" text-anchor="middle">10.2</text>
<text x="54.2" y="34.1" text-anchor="end">-1.1</text>
<text x="54.2" y="51.4" text-anchor="end">-1.15</text>
<text x="54.2" y="68.3" text-anchor="end">-1.2</text>
</g>
<rect x="190.2" y="4" width="122" height="82.5" fill="#fff" stroke="#262626" stroke-width="0.45"/>
<g font-family='"Liberation Serif", serif' font-size="7.1" fill="#000">
<line x1="192.9" y1="9" x2="219.3" y2="9" stroke="#00ff00" stroke-width="1.5" stroke-dasharray="5.2 1.6 2.0 1.8"/>
<text x="221.2" y="11.45" textLength="35" lengthAdjust="spacingAndGlyphs">sensor 1th</text>
<line x1="192.9" y1="17.03" x2="219.3" y2="17.03" stroke="#00ff00" stroke-width="1.5" stroke-dasharray="5.2 1.6 2.0 1.8"/>
<text x="221.2" y="19.48" textLength="35" lengthAdjust="spacingAndGlyphs">sensor 2th</text>
<line x1="192.9" y1="25.06" x2="219.3" y2="25.06" stroke="#00ff00" stroke-width="1.5" stroke-dasharray="5.2 1.6 2.0 1.8"/>
<text x="221.2" y="27.51" textLength="35" lengthAdjust="spacingAndGlyphs">sensor 3th</text>
<line x1="192.9" y1="33.09" x2="219.3" y2="33.09" stroke="#00ff00" stroke-width="1.5" stroke-dasharray="5.2 1.6 2.0 1.8"/>
<text x="221.2" y="35.54" textLength="35" lengthAdjust="spacingAndGlyphs">sensor 4th</text>
<line x1="192.9" y1="41.12" x2="219.3" y2="41.12" stroke="#00ff00" stroke-width="1.5" stroke-dasharray="5.2 1.6 2.0 1.8"/>
<text x="221.2" y="43.57" textLength="35" lengthAdjust="spacingAndGlyphs">sensor 5th</text>
<line x1="192.9" y1="49.15" x2="219.3" y2="49.15" stroke="#ffff00" stroke-width="1.5" stroke-dasharray="5.6 4.7"/>
<text x="221.2" y="51.6" textLength="65" lengthAdjust="spacingAndGlyphs">Algorithm 1 in [26]</text>
<line x1="192.9" y1="57.18" x2="219.3" y2="57.18" stroke="#ff0000" stroke-width="1.5" stroke-dasharray="5.6 4.7"/>
<text x="221.2" y="59.63" textLength="65" lengthAdjust="spacingAndGlyphs">Algorithm 2 in [26]</text>
<line x1="192.9" y1="65.21" x2="219.3" y2="65.21" stroke="#0000ff" stroke-width="1.5" stroke-dasharray="5.2 1.6 2.0 1.8"/>
<text x="221.2" y="67.66" textLength="57" lengthAdjust="spacingAndGlyphs">Unattacked data</text>
<line x1="192.9" y1="73.24" x2="219.3" y2="73.24" stroke="#000" stroke-width="1.4"/>
<text x="221.2" y="75.69" textLength="87.6" lengthAdjust="spacingAndGlyphs">Algorithm 1 in this paper</text>
<rect x="192.9" y="78.57" width="26.4" height="5.4" fill="#ccccff"/>
<text x="221.2" y="83.72" textLength="41" lengthAdjust="spacingAndGlyphs">Attack time</text>
</g>
<text x="141.6" y="239.2" font-family='"Liberation Serif", serif' font-size="18.4" textLength="21.6" lengthAdjust="spacingAndGlyphs" fill="#111">(a)</text>
<text x="170.6" y="239.2" font-family='"Liberation Serif", serif' font-size="18.4" font-style="italic" fill="#111">x</text>
<clipPath id="clb"><rect x="393.6" y="2.4" width="284.7" height="183.8"/></clipPath>
<g clip-path="url(#clb)">
<polygon fill="#00ff00" points="393.6,152.59 394.6,152.59 394.6,152.79 395.6,152.79 395.6,153.6 396.6,153.6 396.6,153.74 397.6,153.74 397.6,153.85 398.59,153.85 398.59,153.71 399.59,153.71 399.59,153.19 400.59,153.19 400.59,153.04 401.59,153.04 401.59,153.29 402.59,153.29 402.59,152.59 403.59,152.59 403.59,152.75 404.59,152.75 404.59,152.26 405.59,152.26 405.59,151.34 406.59,151.34 406.59,151.86 407.59,151.86 407.59,151.25 408.58,151.25 408.58,150.27 409.58,150.27 409.58,150.71 410.58,150.71 410.58,150.41 411.58,150.41 411.58,150.53 412.58,150.53 412.58,149.99 413.58,149.99 413.58,149.68 414.58,149.68 414.58,148.85 415.58,148.85 415.58,149.15 416.58,149.15 416.58,149.01 417.57,149.01 417.57,148.47 418.57,148.47 418.57,148.15 419.57,148.15 419.57,147.98 420.57,147.98 420.57,147.46 421.57,147.46 421.57,147.13 422.57,147.13 422.57,146.44 423.57,146.44 423.57,145.35 424.57,145.35 424.57,146.23 425.57,146.23 425.57,145.94 426.57,145.94 426.57,145.25 427.56,145.25 427.56,145.46 428.56,145.46 428.56,145.07 429.56,145.07 429.56,144.75 430.56,144.75 430.56,144.24 431.56,144.24 431.56,144.07 432.56,144.07 432.56,142.92 433.56,142.92 433.56,143.17 434.56,143.17 434.56,142.7 435.56,142.7 435.56,142.13 436.55,142.13 436.55,142.08 437.55,142.08 437.55,141.44 438.55,141.44 438.55,140.98 439.55,140.98 439.55,140.22 440.55,140.22 440.55,139.45 441.55,139.45 441.55,139.66 442.55,139.66 442.55,139.03 443.55,139.03 443.55,138.54 444.55,138.54 444.55,137.91 445.55,137.91 445.55,137.03 446.54,137.03 446.54,136.55 447.54,136.55 447.54,135.53 448.54,135.53 448.54,134.61 449.54,134.61 449.54,133.75 450.54,133.75 450.54,133.19 451.54,133.19 451.54,132.27 452.54,132.27 452.54,130.69 453.54,130.69 453.54,130.49 454.54,130.49 454.54,129.1 455.53,129.1 455.53,127.93 456.53,127.93 456.53,126.6 457.53,126.6 457.53,125.16 458.53,125.16 458.53,124.29 459.53,124.29 459.53,123.29 460.53,123.29 460.53,121.22 461.53,121.22 461.53,120.46 462.53,120.46 462.53,119.39 463.53,119.39 463.53,119.32 464.53,119.32 464.53,118.67 465.52,118.67 465.52,118.09 466.52,118.09 466.52,117.21 467.52,117.21 467.52,116.4 468.52,116.4 468.52,116.11 469.52,116.11 469.52,115.63 470.52,115.63 470.52,114.91 471.52,114.91 471.52,114.38 472.52,114.38 472.52,113.21 473.52,113.21 473.52,113.67 474.51,113.67 474.51,113.2 475.51,113.2 475.51,112.82 476.51,112.82 476.51,112.3 477.51,112.3 477.51,111.87 478.51,111.87 478.51,111.04 479.51,111.04 479.51,111.1 480.51,111.1 480.51,110.83 481.51,110.83 481.51,110.38 482.51,110.38 482.51,109.59 483.51,109.59 483.51,109.37 484.5,109.37 484.5,109.34 485.5,109.34 485.5,109.07 486.5,109.07 486.5,108.69 487.5,108.69 487.5,107.89 488.5,107.89 488.5,107.46 489.5,107.46 489.5,107.32 490.5,107.32 490.5,107.41 491.5,107.41 491.5,106.78 492.5,106.78 492.5,106.69 493.49,106.69 493.49,105.54 494.49,105.54 494.49,105.94 495.49,105.94 495.49,105.86 496.49,105.86 496.49,105.34 497.49,105.34 497.49,105.24 498.49,105.24 498.49,105.04 499.49,105.04 499.49,104.81 500.49,104.81 500.49,104.1 501.49,104.1 501.49,104.27 502.49,104.27 502.49,102.77 503.48,102.77 503.48,103.48 504.48,103.48 504.48,102.5 505.48,102.5 505.48,102.98 506.48,102.98 506.48,102.6 507.48,102.6 507.48,100.77 508.48,100.77 508.48,101.59 509.48,101.59 509.48,101.57 510.48,101.57 510.48,100.92 511.48,100.92 511.48,101.13 512.47,101.13 512.47,100.31 513.47,100.31 513.47,99.98 514.47,99.98 514.47,99.63 515.47,99.63 515.47,99.16 516.47,99.16 516.47,98.44 517.47,98.44 517.47,98.45 518.47,98.45 518.47,98.12 519.47,98.12 519.47,95.98 520.47,95.98 520.47,96.96 521.47,96.96 521.47,96.51 522.46,96.51 522.46,96.21 523.46,96.21 523.46,95.01 524.46,95.01 524.46,94.86 525.46,94.86 525.46,93.29 526.46,93.29 526.46,93.69 527.46,93.69 527.46,93.44 528.46,93.44 528.46,92.61 529.46,92.61 529.46,92.37 530.46,92.37 530.46,91.77 531.45,91.77 531.45,91.39 532.45,91.39 532.45,90.76 533.45,90.76 533.45,90.23 534.45,90.23 534.45,89.63 535.45,89.63 535.45,88.94 536.45,88.94 536.45,87.67 537.45,87.67 537.45,87.17 538.45,87.17 538.45,86.97 539.45,86.97 539.45,86.83 540.45,86.83 540.45,86.34 541.44,86.34 541.44,85.29 542.44,85.29 542.44,85.09 543.44,85.09 543.44,84.19 544.44,84.19 544.44,83.45 545.44,83.45 545.44,83.45 546.44,83.45 546.44,82.64 547.44,82.64 547.44,82.3 548.44,82.3 548.44,81.46 549.44,81.46 549.44,81.4 550.43,81.4 550.43,80.44 551.43,80.44 551.43,79.31 552.43,79.31 552.43,80.07 553.43,80.07 553.43,79.48 554.43,79.48 554.43,78.81 555.43,78.81 555.43,78.33 556.43,78.33 556.43,78.32 557.43,78.32 557.43,77.81 558.43,77.81 558.43,77.41 559.43,77.41 559.43,76.5 560.42,76.5 560.42,76.63 561.42,76.63 561.42,76.22 562.42,76.22 562.42,75.58 563.42,75.58 563.42,75.34 564.42,75.34 564.42,74.91 565.42,74.91 565.42,74.44 566.42,74.44 566.42,74.23 567.42,74.23 567.42,73.9 568.42,73.9 568.42,73.92 569.41,73.92 569.41,73.31 570.41,73.31 570.41,72.25 571.41,72.25 571.41,72.26 572.41,72.26 572.41,71.78 573.41,71.78 573.41,71.92 574.41,71.92 574.41,70.06 575.41,70.06 575.41,71.18 576.41,71.18 576.41,70.85 577.41,70.85 577.41,71.22 578.41,71.22 578.41,70.76 579.4,70.76 579.4,70.52 580.4,70.52 580.4,70.3 581.4,70.3 581.4,69.46 582.4,69.46 582.4,69.35 583.4,69.35 583.4,69.35 584.4,69.35 584.4,68.68 585.4,68.68 585.4,68.28 586.4,68.28 586.4,68.36 587.4,68.36 587.4,68.03 588.39,68.03 588.39,67.74 589.39,67.74 589.39,67.25 590.39,67.25 590.39,66.73 591.39,66.73 591.39,66.87 592.39,66.87 592.39,66.36 593.39,66.36 593.39,65.58 594.39,65.58 594.39,65.45 595.39,65.45 595.39,63.91 596.39,63.91 596.39,64.88 597.39,64.88 597.39,64.87 598.38,64.87 598.38,64.57 599.38,64.57 599.38,64.17 600.38,64.17 600.38,63.79 601.38,63.79 601.38,63.36 602.38,63.36 602.38,63.21 603.38,63.21 603.38,62.92 604.38,62.92 604.38,62.53 605.38,62.53 605.38,62.18 606.38,62.18 606.38,61.64 607.37,61.64 607.37,61.08 608.37,61.08 608.37,60.35 609.37,60.35 609.37,60.27 610.37,60.27 610.37,59.16 611.37,59.16 611.37,59.44 612.37,59.44 612.37,59.11 613.37,59.11 613.37,58.42 614.37,58.42 614.37,57.27 615.37,57.27 615.37,57.43 616.37,57.43 616.37,56.91 617.36,56.91 617.36,55.86 618.36,55.86 618.36,55.43 619.36,55.43 619.36,54.54 620.36,54.54 620.36,53.15 621.36,53.15 621.36,52.66 622.36,52.66 622.36,51.35 623.36,51.35 623.36,49.45 624.36,49.45 624.36,48.37 625.36,48.37 625.36,47.2 626.35,47.2 626.35,45.62 627.35,45.62 627.35,44.03 628.35,44.03 628.35,41.44 629.35,41.44 629.35,39.84 630.35,39.84 630.35,39.2 631.35,39.2 631.35,37.96 632.35,37.96 632.35,35.27 633.35,35.27 633.35,36.33 634.35,36.33 634.35,35.75 635.35,35.75 635.35,34.91 636.34,34.91 636.34,33.78 637.34,33.78 637.34,33.97 638.34,33.97 638.34,33.25 639.34,33.25 639.34,32.78 640.34,32.78 640.34,32.09 641.34,32.09 641.34,31.26 642.34,31.26 642.34,31.07 643.34,31.07 643.34,31.49 644.34,31.49 644.34,30.81 645.33,30.81 645.33,30.12 646.33,30.12 646.33,28.87 647.33,28.87 647.33,30.07 648.33,30.07 648.33,28.95 649.33,28.95 649.33,28.83 650.33,28.83 650.33,28.84 651.33,28.84 651.33,28.41 652.33,28.41 652.33,28.35 653.33,28.35 653.33,27.49 654.33,27.49 654.33,27.22 655.32,27.22 655.32,27.28 656.32,27.28 656.32,26.37 657.32,26.37 657.32,26.51 658.32,26.51 658.32,25.25 659.32,25.25 659.32,25.66 660.32,25.66 660.32,25.2 661.32,25.2 661.32,24.54 662.32,24.54 662.32,24.65 663.32,24.65 663.32,23.69 664.31,23.69 664.31,24.27 665.31,24.27 665.31,23.64 666.31,23.64 666.31,23.17 667.31,23.17 667.31,22.98 668.31,22.98 668.31,21.87 669.31,21.87 669.31,22.56 670.31,22.56 670.31,22.08 671.31,22.08 671.31,22.03 672.31,22.03 672.31,21.84 673.31,21.84 673.31,20.96 674.3,20.96 674.3,20.83 675.3,20.83 675.3,20.62 676.3,20.62 676.3,20.43 677.3,20.43 677.3,19.64 678.3,19.64 678.3,27.95 677.3,27.95 677.3,28.27 676.3,28.27 676.3,28.66 675.3,28.66 675.3,29.99 674.3,29.99 674.3,29.38 673.31,29.38 673.31,29.74 672.31,29.74 672.31,29.88 671.31,29.88 671.31,30 670.31,30 670.31,31 669.31,31 669.31,31.28 668.31,31.28 668.31,31.21 667.31,31.21 667.31,31.78 666.31,31.78 666.31,31.92 665.31,31.92 665.31,32.06 664.31,32.06 664.31,32.71 663.32,32.71 663.32,32.96 662.32,32.96 662.32,33.29 661.32,33.29 661.32,33.72 660.32,33.72 660.32,33.65 659.32,33.65 659.32,34.87 658.32,34.87 658.32,35 657.32,35 657.32,34.55 656.32,34.55 656.32,35 655.32,35 655.32,35.39 654.33,35.39 654.33,36.62 653.33,36.62 653.33,36.54 652.33,36.54 652.33,36.69 651.33,36.69 651.33,36.67 650.33,36.67 650.33,37.07 649.33,37.07 649.33,37.77 648.33,37.77 648.33,37.79 647.33,37.79 647.33,38.35 646.33,38.35 646.33,38.49 645.33,38.49 645.33,38.91 644.34,38.91 644.34,39.13 643.34,39.13 643.34,39.56 642.34,39.56 642.34,39.95 641.34,39.95 641.34,41.86 640.34,41.86 640.34,40.85 639.34,40.85 639.34,41.29 638.34,41.29 638.34,42.08 637.34,42.08 637.34,42.12 636.34,42.12 636.34,43.56 635.35,43.56 635.35,44.05 634.35,44.05 634.35,44.21 633.35,44.21 633.35,45.51 632.35,45.51 632.35,46.34 631.35,46.34 631.35,48.64 630.35,48.64 630.35,48.59 629.35,48.59 629.35,49.92 628.35,49.92 628.35,52.49 627.35,52.49 627.35,54.2 626.35,54.2 626.35,55.98 625.36,55.98 625.36,57.53 624.36,57.53 624.36,58.29 623.36,58.29 623.36,59.16 622.36,59.16 622.36,60.73 621.36,60.73 621.36,61.49 620.36,61.49 620.36,63.21 619.36,63.21 619.36,63.6 618.36,63.6 618.36,63.91 617.36,63.91 617.36,64.7 616.37,64.7 616.37,65.02 615.37,65.02 615.37,65.99 614.37,65.99 614.37,66.19 613.37,66.19 613.37,66.92 612.37,66.92 612.37,67.85 611.37,67.85 611.37,67.7 610.37,67.7 610.37,68.38 609.37,68.38 609.37,68.56 608.37,68.56 608.37,69.07 607.37,69.07 607.37,69.72 606.38,69.72 606.38,70.9 605.38,70.9 605.38,70.29 604.38,70.29 604.38,70.62 603.38,70.62 603.38,72.09 602.38,72.09 602.38,71.98 601.38,71.98 601.38,72.23 600.38,72.23 600.38,71.98 599.38,71.98 599.38,72.32 598.38,72.32 598.38,72.99 597.39,72.99 597.39,73.76 596.39,73.76 596.39,73.37 595.39,73.37 595.39,73.69 594.39,73.69 594.39,73.94 593.39,73.94 593.39,74.58 592.39,74.58 592.39,74.75 591.39,74.75 591.39,75.28 590.39,75.28 590.39,75.18 589.39,75.18 589.39,75.81 588.39,75.81 588.39,76.25 587.4,76.25 587.4,76.42 586.4,76.42 586.4,76.35 585.4,76.35 585.4,76.72 584.4,76.72 584.4,77.17 583.4,77.17 583.4,77.6 582.4,77.6 582.4,78.1 581.4,78.1 581.4,78.15 580.4,78.15 580.4,78.92 579.4,78.92 579.4,78.67 578.41,78.67 578.41,78.92 577.41,78.92 577.41,79.77 576.41,79.77 576.41,81.09 575.41,81.09 575.41,79.65 574.41,79.65 574.41,80.34 573.41,80.34 573.41,80.27 572.41,80.27 572.41,80.72 571.41,80.72 571.41,81.18 570.41,81.18 570.41,81.6 569.41,81.6 569.41,81.65 568.42,81.65 568.42,82.01 567.42,82.01 567.42,83.37 566.42,83.37 566.42,83.32 565.42,83.32 565.42,82.78 564.42,82.78 564.42,83.64 563.42,83.64 563.42,83.55 562.42,83.55 562.42,84.03 561.42,84.03 561.42,84.26 560.42,84.26 560.42,84.69 559.43,84.69 559.43,85.57 558.43,85.57 558.43,85.85 557.43,85.85 557.43,86.09 556.43,86.09 556.43,86.67 555.43,86.67 555.43,87.14 554.43,87.14 554.43,87.51 553.43,87.51 553.43,87.58 552.43,87.58 552.43,88.25 551.43,88.25 551.43,88.61 550.43,88.61 550.43,89.17 549.44,89.17 549.44,90.11 548.44,90.11 548.44,90 547.44,90 547.44,91.76 546.44,91.76 546.44,92.86 545.44,92.86 545.44,92.24 544.44,92.24 544.44,92.43 543.44,92.43 543.44,93.98 542.44,93.98 542.44,93.64 541.44,93.64 541.44,94.22 540.45,94.22 540.45,95.23 539.45,95.23 539.45,95.03 538.45,95.03 538.45,95.68 537.45,95.68 537.45,96.51 536.45,96.51 536.45,96.98 535.45,96.98 535.45,98.15 534.45,98.15 534.45,97.95 533.45,97.95 533.45,98.54 532.45,98.54 532.45,99.31 531.45,99.31 531.45,100.12 530.46,100.12 530.46,101.05 529.46,101.05 529.46,101.61 528.46,101.61 528.46,101.51 527.46,101.51 527.46,102.33 526.46,102.33 526.46,102.37 525.46,102.37 525.46,102.99 524.46,102.99 524.46,103.26 523.46,103.26 523.46,104.49 522.46,104.49 522.46,104.58 521.47,104.58 521.47,105.09 520.47,105.09 520.47,105.28 519.47,105.28 519.47,106.59 518.47,106.59 518.47,106.77 517.47,106.77 517.47,106.87 516.47,106.87 516.47,107.43 515.47,107.43 515.47,108.08 514.47,108.08 514.47,108.53 513.47,108.53 513.47,108.62 512.47,108.62 512.47,109.14 511.48,109.14 511.48,109.8 510.48,109.8 510.48,109.73 509.48,109.73 509.48,110.18 508.48,110.18 508.48,110.11 507.48,110.11 507.48,111.38 506.48,111.38 506.48,110.63 505.48,110.63 505.48,111.36 504.48,111.36 504.48,111.49 503.48,111.49 503.48,111.85 502.49,111.85 502.49,112.43 501.49,112.43 501.49,112.79 500.49,112.79 500.49,112.96 499.49,112.96 499.49,112.75 498.49,112.75 498.49,113.23 497.49,113.23 497.49,114.39 496.49,114.39 496.49,113.97 495.49,113.97 495.49,113.91 494.49,113.91 494.49,114.4 493.49,114.4 493.49,114.51 492.5,114.51 492.5,114.88 491.5,114.88 491.5,116.07 490.5,116.07 490.5,115.77 489.5,115.77 489.5,115.61 488.5,115.61 488.5,117.41 487.5,117.41 487.5,116.57 486.5,116.57 486.5,117.21 485.5,117.21 485.5,117.4 484.5,117.4 484.5,117.49 483.51,117.49 483.51,118.26 482.51,118.26 482.51,118.15 481.51,118.15 481.51,119.24 480.51,119.24 480.51,119.78 479.51,119.78 479.51,120.1 478.51,120.1 478.51,120.06 477.51,120.06 477.51,120.71 476.51,120.71 476.51,120.65 475.51,120.65 475.51,121.98 474.51,121.98 474.51,121.69 473.52,121.69 473.52,122.46 472.52,122.46 472.52,122.95 471.52,122.95 471.52,123.52 470.52,123.52 470.52,123.96 469.52,123.96 469.52,124.09 468.52,124.09 468.52,124.62 467.52,124.62 467.52,125.5 466.52,125.5 466.52,126.47 465.52,126.47 465.52,127.03 464.53,127.03 464.53,126.99 463.53,126.99 463.53,127.83 462.53,127.83 462.53,129.48 461.53,129.48 461.53,130.27 460.53,130.27 460.53,131.08 459.53,131.08 459.53,132.87 458.53,132.87 458.53,133.35 457.53,133.35 457.53,135.22 456.53,135.22 456.53,135.99 455.53,135.99 455.53,137.46 454.54,137.46 454.54,138.36 453.54,138.36 453.54,140.55 452.54,140.55 452.54,140.33 451.54,140.33 451.54,141.83 450.54,141.83 450.54,142.29 449.54,142.29 449.54,142.93 448.54,142.93 448.54,143.7 447.54,143.7 447.54,144.69 446.54,144.69 446.54,144.99 445.55,144.99 445.55,146.2 444.55,146.2 444.55,146.87 443.55,146.87 443.55,146.82 442.55,146.82 442.55,147.5 441.55,147.5 441.55,148.45 440.55,148.45 440.55,148.46 439.55,148.46 439.55,148.85 438.55,148.85 438.55,149.51 437.55,149.51 437.55,149.89 436.55,149.89 436.55,150.17 435.56,150.17 435.56,150.57 434.56,150.57 434.56,151.29 433.56,151.29 433.56,152.31 432.56,152.31 432.56,152.59 431.56,152.59 431.56,152.81 430.56,152.81 430.56,152.47 429.56,152.47 429.56,153.35 428.56,153.35 428.56,153.18 427.56,153.18 427.56,153.56 426.57,153.56 426.57,154.03 425.57,154.03 425.57,154.05 424.57,154.05 424.57,154.37 423.57,154.37 423.57,155.12 422.57,155.12 422.57,155.25 421.57,155.25 421.57,155.67 420.57,155.67 420.57,155.8 419.57,155.8 419.57,156.13 418.57,156.13 418.57,157.28 417.57,157.28 417.57,157.24 416.58,157.24 416.58,156.97 415.58,156.97 415.58,157.48 414.58,157.48 414.58,157.7 413.58,157.7 413.58,158.43 412.58,158.43 412.58,158.22 411.58,158.22 411.58,159.18 410.58,159.18 410.58,158.62 409.58,158.62 409.58,159.66 408.58,159.66 408.58,159.92 407.59,159.92 407.59,160.4 406.59,160.4 406.59,159.76 405.59,159.76 405.59,160.01 404.59,160.01 404.59,160.97 403.59,160.97 403.59,160.58 402.59,160.58 402.59,160.83 401.59,160.83 401.59,161.3 400.59,161.3 400.59,161.61 399.59,161.61 399.59,162.19 398.59,162.19 398.59,162.2 397.6,162.2 397.6,162.89 396.6,162.89 396.6,163.93 395.6,163.93 395.6,164.98 394.6,164.98 394.6,165.99 393.6,165.99"/>
<line x1="402.69" y1="143.16" x2="402.69" y2="170.91" stroke="#00ff00" stroke-width="1.0" stroke-dasharray="4 1.3 1.3 1.3" stroke-dashoffset="2.72"/>
<line x1="403.22" y1="142.92" x2="403.22" y2="170.64" stroke="#00ff00" stroke-width="1.0" stroke-dasharray="4 1.3 1.3 1.3" stroke-dashoffset="2.92"/>
<line x1="403.75" y1="142.7" x2="403.75" y2="170.47" stroke="#00ff00" stroke-width="1.0" stroke-dasharray="4 1.3 1.3 1.3" stroke-dashoffset="3.96"/>
<line x1="407.44" y1="142.07" x2="407.44" y2="169.2" stroke="#00ff00" stroke-width="1.0" stroke-dasharray="4 1.3 1.3 1.3" stroke-dashoffset="2.34"/>
<line x1="408.2" y1="141.5" x2="408.2" y2="169.16" stroke="#00ff00" stroke-width="1.0" stroke-dasharray="4 1.3 1.3 1.3" stroke-dashoffset="1.75"/>
<line x1="408.97" y1="140.99" x2="408.97" y2="168.9" stroke="#00ff00" stroke-width="1.0" stroke-dasharray="4 1.3 1.3 1.3" stroke-dashoffset="2.47"/>
<line x1="409.73" y1="141.25" x2="409.73" y2="168.58" stroke="#00ff00" stroke-width="1.0" stroke-dasharray="4 1.3 1.3 1.3" stroke-dashoffset="4.67"/>
<line x1="440.84" y1="130.52" x2="440.84" y2="157.69" stroke="#00ff00" stroke-width="1.0" stroke-dasharray="4 1.3 1.3 1.3" stroke-dashoffset="3.05"/>
<line x1="441.58" y1="130.19" x2="441.58" y2="157.74" stroke="#00ff00" stroke-width="1.0" stroke-dasharray="4 1.3 1.3 1.3" stroke-dashoffset="4.7"/>
<line x1="442.31" y1="129.86" x2="442.31" y2="156.88" stroke="#00ff00" stroke-width="1.0" stroke-dasharray="4 1.3 1.3 1.3" stroke-dashoffset="0.97"/>
<line x1="443.04" y1="129.53" x2="443.04" y2="156.54" stroke="#00ff00" stroke-width="1.0" stroke-dasharray="4 1.3 1.3 1.3" stroke-dashoffset="1.64"/>
<path d="M507.15,106.52 L507.15,92.92 509.17,92.45 511.19,91.54 513.21,90.79 515.23,89.87 517.25,88.97 L517.25,102.72" fill="none" stroke="#00ff00" stroke-width="1.45" stroke-dasharray="4 1.3 1.3 1.3"/>
<path d="M507.15,106.52 L507.15,120.72 509.17,119.53 511.19,118.71 513.21,118.01 515.23,117.51 517.25,116.35 L517.25,102.72" fill="none" stroke="#00ff00" stroke-width="1.45" stroke-dasharray="4 1.3 1.3 1.3"/>
<path d="M562.19,80.02 L562.19,66.56 564.18,66.32 566.16,65.32 568.15,64.24 570.13,64 572.12,63.24 574.11,62.6 576.09,61.88 L576.09,75.51" fill="none" stroke="#00ff00" stroke-width="1.45" stroke-dasharray="4 1.3 1.3 1.3"/>
<path d="M562.19,80.02 L562.19,93.37 564.18,92.55 566.16,92.1 568.15,91.42 570.13,90.88 572.12,90.18 574.11,89.67 576.09,88.85 L576.09,75.51" fill="none" stroke="#00ff00" stroke-width="1.45" stroke-dasharray="4 1.3 1.3 1.3"/>
<path d="M611.54,63.51 L611.54,49.81 613.26,49.53 614.99,48.86 616.71,47.13 L616.71,60.76" fill="none" stroke="#00ff00" stroke-width="1.45" stroke-dasharray="4 1.3 1.3 1.3"/>
<path d="M611.54,63.51 L611.54,77.18 613.26,76.62 614.99,75.05 616.71,73.89 L616.71,60.76" fill="none" stroke="#00ff00" stroke-width="1.45" stroke-dasharray="4 1.3 1.3 1.3"/>
<path d="M621.03,57.44 L621.03,44.23 622.88,42.06 624.73,39.55 626.58,36.97 628.43,33.47 630.28,30.6 632.13,28.28 633.98,26.79 L633.98,40.19" fill="none" stroke="#00ff00" stroke-width="1.45" stroke-dasharray="4 1.3 1.3 1.3"/>
<path d="M621.03,57.44 L621.03,70.7 622.88,68.89 624.73,66.19 626.58,63.41 628.43,60.35 630.28,57.18 632.13,55.45 633.98,53.73 L633.98,40.19" fill="none" stroke="#00ff00" stroke-width="1.45" stroke-dasharray="4 1.3 1.3 1.3"/>
<path d="M639.72,36.93 L639.72,22.82 641.61,22.28 643.49,21.93 645.37,21.38 L645.37,34.79" fill="none" stroke="#00ff00" stroke-width="1.45" stroke-dasharray="4 1.3 1.3 1.3"/>
<path d="M639.72,36.93 L639.72,50.51 641.61,49.4 643.49,49.52 645.37,48.26 L645.37,34.79" fill="none" stroke="#00ff00" stroke-width="1.45" stroke-dasharray="4 1.3 1.3 1.3"/>
<polygon fill="#ffff00" points="393.6,158.45 394.6,158.45 394.6,158.09 395.6,158.09 395.6,157.7 396.6,157.7 396.6,157.43 397.6,157.43 397.6,157.15 398.59,157.15 398.59,156.87 399.59,156.87 399.59,156.35 400.59,156.35 400.59,156.25 401.59,156.25 401.59,155.88 402.59,155.88 402.59,154.81 403.59,154.81 403.59,155.22 404.59,155.22 404.59,155.09 405.59,155.09 405.59,154.7 406.59,154.7 406.59,154.51 407.59,154.51 407.59,153.47 408.58,153.47 408.58,153.05 409.58,153.05 409.58,153.53 410.58,153.53 410.58,153.37 411.58,153.37 411.58,152.94 412.58,152.94 412.58,152.87 413.58,152.87 413.58,152.51 414.58,152.51 414.58,152.11 415.58,152.11 415.58,151.99 416.58,151.99 416.58,151.55 417.57,151.55 417.57,151.36 418.57,151.36 418.57,150.89 419.57,150.89 419.57,150.69 420.57,150.69 420.57,150.38 421.57,150.38 421.57,149.97 422.57,149.97 422.57,149.61 423.57,149.61 423.57,149.45 424.57,149.45 424.57,149.05 425.57,149.05 425.57,148.67 426.57,148.67 426.57,148.38 427.56,148.38 427.56,147.93 428.56,147.93 428.56,147.53 429.56,147.53 429.56,147.17 430.56,147.17 430.56,147.08 431.56,147.08 431.56,146.52 432.56,146.52 432.56,146.2 433.56,146.2 433.56,145.86 434.56,145.86 434.56,145.5 435.56,145.5 435.56,145.14 436.55,145.14 436.55,144.64 437.55,144.64 437.55,144.12 438.55,144.12 438.55,143.73 439.55,143.73 439.55,143.34 440.55,143.34 440.55,142.1 441.55,142.1 441.55,141.33 442.55,141.33 442.55,141.9 443.55,141.9 443.55,141.3 444.55,141.3 444.55,140.6 445.55,140.6 445.55,140.03 446.54,140.03 446.54,139.31 447.54,139.31 447.54,138.49 448.54,138.49 448.54,137.89 449.54,137.89 449.54,137.09 450.54,137.09 450.54,136.12 451.54,136.12 451.54,135.35 452.54,135.35 452.54,134.22 453.54,134.22 453.54,133.12 454.54,133.12 454.54,131.75 455.53,131.75 455.53,130.67 456.53,130.67 456.53,129.6 457.53,129.6 457.53,128.21 458.53,128.21 458.53,127.28 459.53,127.28 459.53,125.92 460.53,125.92 460.53,124.84 461.53,124.84 461.53,123.58 462.53,123.58 462.53,122.74 463.53,122.74 463.53,122.05 464.53,122.05 464.53,121.27 465.52,121.27 465.52,120.5 466.52,120.5 466.52,120.14 467.52,120.14 467.52,119.31 468.52,119.31 468.52,119 469.52,119 469.52,118.29 470.52,118.29 470.52,118.01 471.52,118.01 471.52,117.34 472.52,117.34 472.52,117.02 473.52,117.02 473.52,116.37 474.51,116.37 474.51,116.12 475.51,116.12 475.51,115.45 476.51,115.45 476.51,114.98 477.51,114.98 477.51,114.55 478.51,114.55 478.51,114.18 479.51,114.18 479.51,114.05 480.51,114.05 480.51,113.5 481.51,113.5 481.51,113.23 482.51,113.23 482.51,112.87 483.51,112.87 483.51,112.49 484.5,112.49 484.5,112.07 485.5,112.07 485.5,111.66 486.5,111.66 486.5,111.4 487.5,111.4 487.5,110.91 488.5,110.91 488.5,110.5 489.5,110.5 489.5,110.25 490.5,110.25 490.5,109.88 491.5,109.88 491.5,109.68 492.5,109.68 492.5,109.32 493.49,109.32 493.49,109.09 494.49,109.09 494.49,108.77 495.49,108.77 495.49,108.4 496.49,108.4 496.49,108.19 497.49,108.19 497.49,107.85 498.49,107.85 498.49,107.66 499.49,107.66 499.49,107.43 500.49,107.43 500.49,107.13 501.49,107.13 501.49,106.9 502.49,106.9 502.49,106.56 503.48,106.56 503.48,106.04 504.48,106.04 504.48,105.98 505.48,105.98 505.48,105.65 506.48,105.65 506.48,105.33 507.48,105.33 507.48,104.07 508.48,104.07 508.48,103.71 509.48,103.71 509.48,103.49 510.48,103.49 510.48,103.17 511.48,103.17 511.48,102.69 512.47,102.69 512.47,102.24 513.47,102.24 513.47,101.98 514.47,101.98 514.47,101.43 515.47,101.43 515.47,101.38 516.47,101.38 516.47,100.87 517.47,100.87 517.47,101.21 518.47,101.21 518.47,100.78 519.47,100.78 519.47,100.15 520.47,100.15 520.47,99.7 521.47,99.7 521.47,99.37 522.46,99.37 522.46,98.83 523.46,98.83 523.46,98.14 524.46,98.14 524.46,97.86 525.46,97.86 525.46,97.33 526.46,97.33 526.46,96.75 527.46,96.75 527.46,96.06 528.46,96.06 528.46,95.8 529.46,95.8 529.46,95.16 530.46,95.16 530.46,94.37 531.45,94.37 531.45,93.99 532.45,93.99 532.45,93.27 533.45,93.27 533.45,92.72 534.45,92.72 534.45,92.41 535.45,92.41 535.45,91.75 536.45,91.75 536.45,91.12 537.45,91.12 537.45,90.58 538.45,90.58 538.45,90.09 539.45,90.09 539.45,89.36 540.45,89.36 540.45,89 541.44,89 541.44,88.41 542.44,88.41 542.44,87.69 543.44,87.69 543.44,87.11 544.44,87.11 544.44,86.57 545.44,86.57 545.44,86.11 546.44,86.11 546.44,85.61 547.44,85.61 547.44,85.03 548.44,85.03 548.44,84.36 549.44,84.36 549.44,84.06 550.43,84.06 550.43,83.64 551.43,83.64 551.43,83.14 552.43,83.14 552.43,82.61 553.43,82.61 553.43,82.22 554.43,82.22 554.43,81.67 555.43,81.67 555.43,81.09 556.43,81.09 556.43,80.93 557.43,80.93 557.43,80.36 558.43,80.36 558.43,80.04 559.43,80.04 559.43,79.71 560.42,79.71 560.42,79.36 561.42,79.36 561.42,78.97 562.42,78.97 562.42,77.36 563.42,77.36 563.42,77.46 564.42,77.46 564.42,76.95 565.42,76.95 565.42,76.67 566.42,76.67 566.42,76.25 567.42,76.25 567.42,75.97 568.42,75.97 568.42,75.57 569.41,75.57 569.41,75.3 570.41,75.3 570.41,75.1 571.41,75.1 571.41,74.46 572.41,74.46 572.41,74.26 573.41,74.26 573.41,74.14 574.41,74.14 574.41,73.93 575.41,73.93 575.41,74.39 576.41,74.39 576.41,73.98 577.41,73.98 577.41,73.79 578.41,73.79 578.41,73.38 579.4,73.38 579.4,73.21 580.4,73.21 580.4,72.83 581.4,72.83 581.4,72.62 582.4,72.62 582.4,72.24 583.4,72.24 583.4,71.95 584.4,71.95 584.4,71.52 585.4,71.52 585.4,71.39 586.4,71.39 586.4,70.9 587.4,70.9 587.4,70.67 588.39,70.67 588.39,70.41 589.39,70.41 589.39,70.14 590.39,70.14 590.39,69.74 591.39,69.74 591.39,69.47 592.39,69.47 592.39,69.12 593.39,69.12 593.39,68.82 594.39,68.82 594.39,68.5 595.39,68.5 595.39,68.2 596.39,68.2 596.39,67.86 597.39,67.86 597.39,67.6 598.38,67.6 598.38,67.31 599.38,67.31 599.38,66.94 600.38,66.94 600.38,66.65 601.38,66.65 601.38,66.33 602.38,66.33 602.38,65.94 603.38,65.94 603.38,65.45 604.38,65.45 604.38,65.09 605.38,65.09 605.38,64.81 606.38,64.81 606.38,64.4 607.37,64.4 607.37,63.8 608.37,63.8 608.37,63.41 609.37,63.41 609.37,62.91 610.37,62.91 610.37,62.69 611.37,62.69 611.37,61.04 612.37,61.04 612.37,60.78 613.37,60.78 613.37,60.26 614.37,60.26 614.37,59.46 615.37,59.46 615.37,58.9 616.37,58.9 616.37,59.47 617.36,59.47 617.36,58.83 618.36,58.83 618.36,58.08 619.36,58.08 619.36,57.28 620.36,57.28 620.36,56.16 621.36,56.16 621.36,54.49 622.36,54.49 622.36,53.21 623.36,53.21 623.36,51.92 624.36,51.92 624.36,50.64 625.36,50.64 625.36,49.34 626.35,49.34 626.35,47.73 627.35,47.73 627.35,46.09 628.35,46.09 628.35,44.23 629.35,44.23 629.35,42.27 630.35,42.27 630.35,41.06 631.35,41.06 631.35,40.03 632.35,40.03 632.35,39.05 633.35,39.05 633.35,39.13 634.35,39.13 634.35,38.43 635.35,38.43 635.35,37.76 636.34,37.76 636.34,37.22 637.34,37.22 637.34,36.5 638.34,36.5 638.34,36.12 639.34,36.12 639.34,35.64 640.34,35.64 640.34,34.43 641.34,34.43 641.34,34.05 642.34,34.05 642.34,33.62 643.34,33.62 643.34,33.41 644.34,33.41 644.34,32.93 645.33,32.93 645.33,33.46 646.33,33.46 646.33,33.09 647.33,33.09 647.33,32.76 648.33,32.76 648.33,32.49 649.33,32.49 649.33,32.1 650.33,32.1 650.33,31.76 651.33,31.76 651.33,31.4 652.33,31.4 652.33,30.91 653.33,30.91 653.33,30.66 654.33,30.66 654.33,30.3 655.32,30.3 655.32,29.95 656.32,29.95 656.32,29.58 657.32,29.58 657.32,29.1 658.32,29.1 658.32,28.95 659.32,28.95 659.32,28.5 660.32,28.5 660.32,28.18 661.32,28.18 661.32,27.9 662.32,27.9 662.32,27.55 663.32,27.55 663.32,27.29 664.31,27.29 664.31,26.95 665.31,26.95 665.31,26.65 666.31,26.65 666.31,26.17 667.31,26.17 667.31,26.01 668.31,26.01 668.31,25.71 669.31,25.71 669.31,25.3 670.31,25.3 670.31,25.08 671.31,25.08 671.31,24.73 672.31,24.73 672.31,24.33 673.31,24.33 673.31,24.12 674.3,24.12 674.3,23.82 675.3,23.82 675.3,23.45 676.3,23.45 676.3,23.24 677.3,23.24 677.3,22.89 678.3,22.89 678.3,25.34 677.3,25.34 677.3,25.67 676.3,25.67 676.3,26.05 675.3,26.05 675.3,26.19 674.3,26.19 674.3,26.54 673.31,26.54 673.31,26.86 672.31,26.86 672.31,27.09 671.31,27.09 671.31,27.39 670.31,27.39 670.31,27.72 669.31,27.72 669.31,28.06 668.31,28.06 668.31,28.3 667.31,28.3 667.31,28.63 666.31,28.63 666.31,29.04 665.31,29.04 665.31,29.4 664.31,29.4 664.31,29.61 663.32,29.61 663.32,29.98 662.32,29.98 662.32,30.4 661.32,30.4 661.32,30.73 660.32,30.73 660.32,31.07 659.32,31.07 659.32,31.29 658.32,31.29 658.32,31.65 657.32,31.65 657.32,32.03 656.32,32.03 656.32,32.34 655.32,32.34 655.32,32.84 654.33,32.84 654.33,33.05 653.33,33.05 653.33,33.35 652.33,33.35 652.33,33.7 651.33,33.7 651.33,34.01 650.33,34.01 650.33,34.53 649.33,34.53 649.33,34.93 648.33,34.93 648.33,35.08 647.33,35.08 647.33,35.44 646.33,35.44 646.33,35.81 645.33,35.81 645.33,37.02 644.34,37.02 644.34,37.56 643.34,37.56 643.34,37.64 642.34,37.64 642.34,38.31 641.34,38.31 641.34,38.39 640.34,38.39 640.34,38 639.34,38 639.34,38.47 638.34,38.47 638.34,39.04 637.34,39.04 637.34,39.64 636.34,39.64 636.34,40.23 635.35,40.23 635.35,40.76 634.35,40.76 634.35,41.6 633.35,41.6 633.35,43.29 632.35,43.29 632.35,44.05 631.35,44.05 631.35,45.3 630.35,45.3 630.35,46.49 629.35,46.49 629.35,48.34 628.35,48.34 628.35,50.03 627.35,50.03 627.35,52.16 626.35,52.16 626.35,53.26 625.36,53.26 625.36,54.84 624.36,54.84 624.36,56.08 623.36,56.08 623.36,57.59 622.36,57.59 622.36,58.61 621.36,58.61 621.36,58.98 620.36,58.98 620.36,59.8 619.36,59.8 619.36,60.61 618.36,60.61 618.36,61.2 617.36,61.2 617.36,61.93 616.37,61.93 616.37,63.29 615.37,63.29 615.37,63.84 614.37,63.84 614.37,64.5 613.37,64.5 613.37,64.82 612.37,64.82 612.37,65.52 611.37,65.52 611.37,65.04 610.37,65.04 610.37,65.49 609.37,65.49 609.37,65.86 608.37,65.86 608.37,66.3 607.37,66.3 607.37,66.75 606.38,66.75 606.38,67.12 605.38,67.12 605.38,67.54 604.38,67.54 604.38,67.9 603.38,67.9 603.38,68.26 602.38,68.26 602.38,68.69 601.38,68.69 601.38,69.25 600.38,69.25 600.38,69.26 599.38,69.26 599.38,69.77 598.38,69.77 598.38,70.04 597.39,70.04 597.39,70.26 596.39,70.26 596.39,70.73 595.39,70.73 595.39,70.93 594.39,70.93 594.39,71.19 593.39,71.19 593.39,71.56 592.39,71.56 592.39,71.82 591.39,71.82 591.39,72.4 590.39,72.4 590.39,72.59 589.39,72.59 589.39,72.8 588.39,72.8 588.39,73.07 587.4,73.07 587.4,73.53 586.4,73.53 586.4,73.66 585.4,73.66 585.4,74.09 584.4,74.09 584.4,74.27 583.4,74.27 583.4,74.68 582.4,74.68 582.4,74.95 581.4,74.95 581.4,75.33 580.4,75.33 580.4,75.62 579.4,75.62 579.4,75.92 578.41,75.92 578.41,76.17 577.41,76.17 577.41,76.7 576.41,76.7 576.41,76.82 575.41,76.82 575.41,77.81 574.41,77.81 574.41,78.07 573.41,78.07 573.41,78.75 572.41,78.75 572.41,78.8 571.41,78.8 571.41,79.12 570.41,79.12 570.41,79.29 569.41,79.29 569.41,79.64 568.42,79.64 568.42,79.96 567.42,79.96 567.42,80.37 566.42,80.37 566.42,80.73 565.42,80.73 565.42,81.12 564.42,81.12 564.42,81.56 563.42,81.56 563.42,81.79 562.42,81.79 562.42,81.32 561.42,81.32 561.42,81.7 560.42,81.7 560.42,82.01 559.43,82.01 559.43,82.5 558.43,82.5 558.43,82.81 557.43,82.81 557.43,83.23 556.43,83.23 556.43,83.67 555.43,83.67 555.43,84.08 554.43,84.08 554.43,84.53 553.43,84.53 553.43,85.19 552.43,85.19 552.43,85.47 551.43,85.47 551.43,86.05 550.43,86.05 550.43,86.35 549.44,86.35 549.44,86.96 548.44,86.96 548.44,87.38 547.44,87.38 547.44,87.97 546.44,87.97 546.44,88.48 545.44,88.48 545.44,88.97 544.44,88.97 544.44,89.81 543.44,89.81 543.44,90.29 542.44,90.29 542.44,90.73 541.44,90.73 541.44,91.52 540.45,91.52 540.45,91.95 539.45,91.95 539.45,92.56 538.45,92.56 538.45,92.99 537.45,92.99 537.45,93.55 536.45,93.55 536.45,94.13 535.45,94.13 535.45,94.74 534.45,94.74 534.45,95.31 533.45,95.31 533.45,95.84 532.45,95.84 532.45,96.43 531.45,96.43 531.45,97.01 530.46,97.01 530.46,97.51 529.46,97.51 529.46,98.34 528.46,98.34 528.46,98.64 527.46,98.64 527.46,99.15 526.46,99.15 526.46,99.83 525.46,99.83 525.46,100.33 524.46,100.33 524.46,100.69 523.46,100.69 523.46,101.33 522.46,101.33 522.46,101.68 521.47,101.68 521.47,102.25 520.47,102.25 520.47,102.78 519.47,102.78 519.47,103.14 518.47,103.14 518.47,103.71 517.47,103.71 517.47,104.78 516.47,104.78 516.47,105.46 515.47,105.46 515.47,105.68 514.47,105.68 514.47,106.03 513.47,106.03 513.47,106.7 512.47,106.7 512.47,106.88 511.48,106.88 511.48,107.28 510.48,107.28 510.48,107.69 509.48,107.69 509.48,107.9 508.48,107.9 508.48,108.21 507.48,108.21 507.48,107.83 506.48,107.83 506.48,108.08 505.48,108.08 505.48,108.38 504.48,108.38 504.48,108.68 503.48,108.68 503.48,108.96 502.49,108.96 502.49,109.22 501.49,109.22 501.49,109.52 500.49,109.52 500.49,109.72 499.49,109.72 499.49,110.04 498.49,110.04 498.49,110.26 497.49,110.26 497.49,110.6 496.49,110.6 496.49,110.88 495.49,110.88 495.49,111.17 494.49,111.17 494.49,111.41 493.49,111.41 493.49,111.84 492.5,111.84 492.5,112.18 491.5,112.18 491.5,112.3 490.5,112.3 490.5,112.67 489.5,112.67 489.5,112.99 488.5,112.99 488.5,113.4 487.5,113.4 487.5,113.72 486.5,113.72 486.5,114.12 485.5,114.12 485.5,114.42 484.5,114.42 484.5,114.77 483.51,114.77 483.51,115.15 482.51,115.15 482.51,115.6 481.51,115.6 481.51,115.98 480.51,115.98 480.51,116.58 479.51,116.58 479.51,116.83 478.51,116.83 478.51,117.12 477.51,117.12 477.51,117.65 476.51,117.65 476.51,118.01 475.51,118.01 475.51,118.54 474.51,118.54 474.51,118.88 473.52,118.88 473.52,119.59 472.52,119.59 472.52,119.94 471.52,119.94 471.52,120.26 470.52,120.26 470.52,120.99 469.52,120.99 469.52,121.47 468.52,121.47 468.52,121.92 467.52,121.92 467.52,122.64 466.52,122.64 466.52,123.07 465.52,123.07 465.52,123.8 464.53,123.8 464.53,124.44 463.53,124.44 463.53,125.12 462.53,125.12 462.53,126.32 461.53,126.32 461.53,127.23 460.53,127.23 460.53,128.35 459.53,128.35 459.53,129.74 458.53,129.74 458.53,130.79 457.53,130.79 457.53,132.02 456.53,132.02 456.53,133.24 455.53,133.24 455.53,134.4 454.54,134.4 454.54,135.49 453.54,135.49 453.54,136.56 452.54,136.56 452.54,137.64 451.54,137.64 451.54,138.74 450.54,138.74 450.54,139.6 449.54,139.6 449.54,140.28 448.54,140.28 448.54,140.98 447.54,140.98 447.54,141.66 446.54,141.66 446.54,142.49 445.55,142.49 445.55,143.04 444.55,143.04 444.55,143.73 443.55,143.73 443.55,144.21 442.55,144.21 442.55,145.68 441.55,145.68 441.55,146.01 440.55,146.01 440.55,145.87 439.55,145.87 439.55,146.23 438.55,146.23 438.55,146.57 437.55,146.57 437.55,147.12 436.55,147.12 436.55,147.45 435.56,147.45 435.56,147.91 434.56,147.91 434.56,148.32 433.56,148.32 433.56,148.6 432.56,148.6 432.56,149.05 431.56,149.05 431.56,149.4 430.56,149.4 430.56,149.79 429.56,149.79 429.56,150.17 428.56,150.17 428.56,150.5 427.56,150.5 427.56,150.82 426.57,150.82 426.57,151.27 425.57,151.27 425.57,151.55 424.57,151.55 424.57,151.79 423.57,151.79 423.57,152.22 422.57,152.22 422.57,152.49 421.57,152.49 421.57,152.78 420.57,152.78 420.57,152.98 419.57,152.98 419.57,153.35 418.57,153.35 418.57,153.73 417.57,153.73 417.57,154 416.58,154 416.58,154.31 415.58,154.31 415.58,154.67 414.58,154.67 414.58,154.92 413.58,154.92 413.58,155.16 412.58,155.16 412.58,155.55 411.58,155.55 411.58,155.7 410.58,155.7 410.58,156 409.58,156 409.58,157.27 408.58,157.27 408.58,157.84 407.59,157.84 407.59,156.98 406.59,156.98 406.59,157.16 405.59,157.16 405.59,157.34 404.59,157.34 404.59,157.64 403.59,157.64 403.59,158.87 402.59,158.87 402.59,158.23 401.59,158.23 401.59,158.51 400.59,158.51 400.59,158.85 399.59,158.85 399.59,159.17 398.59,159.17 398.59,159.47 397.6,159.47 397.6,159.86 396.6,159.86 396.6,160.3 395.6,160.3 395.6,160.58 394.6,160.58 394.6,161.01 393.6,161.01"/>
<line x1="393.88" y1="149.44" x2="393.88" y2="153.38" stroke="#00ff00" stroke-width="1"/>
<line x1="394.36" y1="152.07" x2="394.36" y2="159.94" stroke="#000" stroke-width="1.5"/>
<polyline fill="none" stroke="#000" stroke-width="1.15" stroke-linejoin="round" points="393.6,152.07 394.07,156 394.31,157.85 394.74,159.94 395.03,159.94 395.74,159.91 396.45,159.76 397.17,159.42 397.88,158.81 398.35,158.24 398.59,158.15 399.31,157.92 400.02,157.7 400.74,157.48 401.45,157.27 402.16,157.05 402.88,156.85 403.59,156.64 404.3,156.44 405.02,156.24 405.73,156.04 406.44,155.85 407.16,155.65 407.87,155.45 408.58,155.26 409.3,155.06 410.01,154.87 410.72,154.67 411.44,154.47 412.15,154.27 412.87,154.07 413.58,153.86 414.29,153.66 415.01,153.44 415.72,153.23 416.43,153.01 417.15,152.78 417.86,152.55 418.57,152.32 419.29,152.09 420,151.87 420.71,151.64 421.43,151.42 422.14,151.19 422.85,150.96 423.57,150.74 424.28,150.51 425,150.28 425.71,150.04 426.42,149.81 427.14,149.57 427.85,149.34 428.56,149.09 429.28,148.85 429.99,148.6 430.7,148.35 431.42,148.09 432.13,147.83 432.84,147.56 433.56,147.29 434.27,147.01 434.98,146.73 435.7,146.44 436.41,146.15 437.13,145.85 437.84,145.54 438.55,145.22 439.27,144.9 439.98,144.57 440.69,144.23 441.41,143.88 442.12,143.52 442.83,143.14 443.55,142.74 444.26,142.33 444.97,141.89 445.69,141.44 446.4,140.98 447.12,140.49 447.83,139.98 448.54,139.46 449.26,138.92 449.97,138.35 450.68,137.77 451.4,137.13 452.11,136.43 452.82,135.68 453.54,134.89 454.25,134.07 454.96,133.22 455.68,132.37 456.39,131.51 457.1,130.67 457.82,129.84 458.53,129.03 459.25,128.17 459.96,127.29 460.67,126.41 461.39,125.58 462.1,124.82 462.81,124.16 463.53,123.58 464.24,123.05 464.95,122.55 465.67,122.08 466.38,121.64 467.09,121.22 467.81,120.81 468.52,120.43 469.23,120.05 469.95,119.68 470.66,119.32 471.38,118.96 472.09,118.62 472.8,118.28 473.52,117.94 474.23,117.62 474.94,117.3 475.66,116.98 476.37,116.67 477.08,116.37 477.8,116.07 478.51,115.77 479.22,115.48 479.94,115.2 480.65,114.92 481.36,114.64 482.08,114.37 482.79,114.1 483.51,113.83 484.22,113.56 484.93,113.3 485.65,113.04 486.36,112.79 487.07,112.53 487.79,112.28 488.5,112.02 489.21,111.78 489.93,111.53 490.64,111.3 491.35,111.07 492.07,110.84 492.78,110.62 493.49,110.41 494.21,110.2 494.92,109.99 495.64,109.78 496.35,109.58 497.06,109.38 497.78,109.18 498.49,108.99 499.2,108.79 499.92,108.59 500.63,108.4 501.34,108.2 502.06,108 502.77,107.8 503.48,107.6 504.2,107.4 504.91,107.19 505.62,106.98 506.34,106.77 507.05,106.55 507.77,106.33 508.48,106.1 509.19,105.87 509.91,105.63 510.62,105.38 511.33,105.13 512.05,104.87 512.76,104.6 513.47,104.32 514.19,104.04 514.9,103.74 515.61,103.44 516.33,103.13 517.04,102.82 517.75,102.49 518.47,102.17 519.18,101.83 519.9,101.5 520.61,101.15 521.32,100.81 522.04,100.46 522.75,100.1 523.46,99.75 524.18,99.39 524.89,99.03 525.6,98.67 526.32,98.31 527.03,97.95 527.74,97.57 528.46,97.19 529.17,96.8 529.88,96.41 530.6,96.01 531.31,95.61 532.03,95.2 532.74,94.8 533.45,94.39 534.17,93.99 534.88,93.58 535.59,93.19 536.31,92.79 537.02,92.39 537.73,91.98 538.45,91.58 539.16,91.17 539.87,90.75 540.59,90.34 541.3,89.93 542.02,89.51 542.73,89.1 543.44,88.69 544.16,88.29 544.87,87.89 545.58,87.49 546.3,87.1 547.01,86.72 547.72,86.34 548.44,85.97 549.15,85.61 549.86,85.26 550.58,84.92 551.29,84.59 552,84.26 552.72,83.94 553.43,83.62 554.15,83.3 554.86,82.99 555.57,82.68 556.29,82.38 557,82.08 557.71,81.78 558.43,81.49 559.14,81.2 559.85,80.92 560.57,80.64 561.28,80.36 561.99,80.09 562.71,79.83 563.42,79.56 564.13,79.3 564.85,79.05 565.56,78.8 566.28,78.56 566.99,78.32 567.7,78.08 568.42,77.85 569.13,77.62 569.84,77.4 570.56,77.17 571.27,76.95 571.98,76.74 572.7,76.52 573.41,76.31 574.12,76.1 574.84,75.88 575.55,75.67 576.26,75.46 576.98,75.25 577.69,75.04 578.41,74.83 579.12,74.62 579.83,74.4 580.55,74.19 581.26,73.97 581.97,73.75 582.69,73.52 583.4,73.29 584.11,73.07 584.83,72.84 585.54,72.62 586.25,72.4 586.97,72.18 587.68,71.96 588.39,71.74 589.11,71.53 589.82,71.31 590.54,71.09 591.25,70.88 591.96,70.66 592.68,70.45 593.39,70.23 594.1,70.01 594.82,69.79 595.53,69.56 596.24,69.34 596.96,69.11 597.67,68.88 598.38,68.65 599.1,68.41 599.81,68.17 600.52,67.92 601.24,67.67 601.95,67.42 602.67,67.16 603.38,66.9 604.09,66.63 604.81,66.35 605.52,66.07 606.23,65.79 606.95,65.49 607.66,65.19 608.37,64.89 609.09,64.59 609.8,64.28 610.51,63.97 611.23,63.65 611.94,63.32 612.65,62.98 613.37,62.63 614.08,62.26 614.8,61.88 615.51,61.48 616.22,61.06 616.94,60.61 617.65,60.15 618.36,59.66 619.08,59.14 619.79,58.59 620.5,57.96 621.22,57.24 621.93,56.46 622.64,55.61 623.36,54.71 624.07,53.78 624.78,52.81 625.5,51.82 626.21,50.82 626.93,49.7 627.64,48.43 628.35,47.09 629.07,45.78 629.78,44.56 630.49,43.53 631.21,42.71 631.92,41.99 632.63,41.32 633.35,40.7 634.06,40.13 634.77,39.61 635.49,39.13 636.2,38.7 636.92,38.3 637.63,37.92 638.34,37.57 639.06,37.23 639.77,36.91 640.48,36.6 641.2,36.31 641.91,36.03 642.62,35.76 643.34,35.5 644.05,35.24 644.76,34.99 645.48,34.75 646.19,34.51 646.9,34.26 647.62,34.02 648.33,33.78 649.05,33.53 649.76,33.28 650.47,33.02 651.19,32.77 651.9,32.51 652.61,32.26 653.33,32.01 654.04,31.75 654.75,31.5 655.47,31.25 656.18,31.01 656.89,30.76 657.61,30.51 658.32,30.27 659.03,30.03 659.75,29.78 660.46,29.54 661.18,29.3 661.89,29.07 662.6,28.83 663.32,28.59 664.03,28.36 664.74,28.13 665.46,27.9 666.17,27.67 666.88,27.44 667.6,27.22 668.31,26.99 669.02,26.77 669.74,26.55 670.45,26.33 671.16,26.12 671.88,25.9 672.59,25.69 673.31,25.48 674.02,25.27 674.73,25.06 675.45,24.86 676.16,24.66 676.87,24.46 677.59,24.26 678.3,24.06"/>
<rect x="402.81" y="2.4" width="0.85" height="183.8" fill="rgba(0,0,255,0.2)"/>
<rect x="407.55" y="2.4" width="2.09" height="183.8" fill="rgba(0,0,255,0.2)"/>
<rect x="440.96" y="2.4" width="1.99" height="183.8" fill="rgba(0,0,255,0.2)"/>
<rect x="507.48" y="2.4" width="9.49" height="183.8" fill="rgba(0,0,255,0.2)"/>
<rect x="562.52" y="2.4" width="13.29" height="183.8" fill="rgba(0,0,255,0.2)"/>
<rect x="611.87" y="2.4" width="4.56" height="183.8" fill="rgba(0,0,255,0.2)"/>
<rect x="621.36" y="2.4" width="12.34" height="183.8" fill="rgba(0,0,255,0.2)"/>
<rect x="640.06" y="2.4" width="5.03" height="183.8" fill="rgba(0,0,255,0.2)"/>
</g>
<rect x="393.6" y="2.4" width="284.7" height="183.8" fill="none" stroke="#262626" stroke-width="0.45"/>
<path d="M393.6,186.2 v-2.8 M393.6,2.4 v2.8 M441.05,186.2 v-2.8 M441.05,2.4 v2.8 M488.5,186.2 v-2.8 M488.5,2.4 v2.8 M535.95,186.2 v-2.8 M535.95,2.4 v2.8 M583.4,186.2 v-2.8 M583.4,2.4 v2.8 M630.85,186.2 v-2.8 M630.85,2.4 v2.8 M678.3,186.2 v-2.8 M678.3,2.4 v2.8 M393.6,186.2 h2.8 M678.3,186.2 h-2.8 M393.6,159.94 h2.8 M678.3,159.94 h-2.8 M393.6,133.69 h2.8 M678.3,133.69 h-2.8 M393.6,107.43 h2.8 M678.3,107.43 h-2.8 M393.6,81.17 h2.8 M678.3,81.17 h-2.8 M393.6,54.91 h2.8 M678.3,54.91 h-2.8 M393.6,28.66 h2.8 M678.3,28.66 h-2.8 M393.6,2.4 h2.8 M678.3,2.4 h-2.8" stroke="#262626" stroke-width="0.5" fill="none"/>
<g font-family='"Liberation Sans", sans-serif' font-size="9" fill="#262626">
<text x="393.6" y="197.4" text-anchor="middle">0</text>
<text x="441.05" y="197.4" text-anchor="middle">50</text>
<text x="488.5" y="197.4" text-anchor="middle">100</text>
<text x="535.95" y="197.4" text-anchor="middle">150</text>
<text x="583.4" y="197.4" text-anchor="middle">200</text>
<text x="630.85" y="197.4" text-anchor="middle">250</text>
<text x="678.3" y="197.4" text-anchor="middle">300</text>
<text x="390.2" y="189.4" text-anchor="end">-20</text>
<text x="390.2" y="163.14" text-anchor="end">0</text>
<text x="390.2" y="136.89" text-anchor="end">20</text>
<text x="390.2" y="110.63" text-anchor="end">40</text>
<text x="390.2" y="84.37" text-anchor="end">60</text>
<text x="390.2" y="58.11" text-anchor="end">80</text>
<text x="390.2" y="31.86" text-anchor="end">100</text>
<text x="390.2" y="5.6" text-anchor="end">120</text>
</g>
<text x="536.35" y="205.8" text-anchor="middle" font-family='"Liberation Serif", serif' font-size="8.8" textLength="41.6" lengthAdjust="spacingAndGlyphs" fill="#262626">Time(Sec)</text>
<text transform="translate(371.4,94.3) rotate(-90)" text-anchor="middle" font-family='"Liberation Serif", serif' font-size="9.2" fill="#3a3a3a">y (m)</text>
<rect x="398.2" y="153.4" width="7.5" height="7.9" fill="none" stroke="#000" stroke-width="0.6"/>
<line x1="400.8" y1="150" x2="420.83" y2="107.17" stroke="#000" stroke-width="0.6"/>
<polygon fill="#000" points="423.2,102.1 422.79,110.3 420.83,107.17 417.17,107.67"/>
<rect x="411.4" y="46.1" width="66.4" height="44.9" fill="#ffff00"/>
<clipPath id="cib"><rect x="411.4" y="46.1" width="66.4" height="44.9"/></clipPath>
<g clip-path="url(#cib)">
<polyline fill="none" points="412.2,52.32 413.7,52.17 415.2,52.27 416.7,51.9 418.2,52.38 419.7,52.35 421.2,52.28 422.7,52.28 424.2,52.07 425.7,52.01 427.2,52.12 428.7,52.3 430.2,51.83 431.7,52.16 433.2,52.65 434.7,52.41 436.2,51.92 437.7,52.56 439.2,51.7 440.7,52.14 442.2,52.53 443.7,52.4 445.2,52.3 446.7,51.89 448.2,51.71 449.7,52.35 451.2,52.28 452.7,52.7 454.2,52.02 455.7,51.87 457.2,52.03 458.7,51.65 460.2,52.08 461.7,52.17 463.2,52.13 464.7,52.72 466.2,52.74 467.7,52.09 469.2,52.02 470.7,52.56 472.2,52.5 473.7,51.82 475.2,51.97 476.7,51.96 478.2,51.8" stroke="#00ff00" stroke-width="2.9" stroke-dasharray="5.38 0.63 1.01 0.79 4.47 1.23 1.65 0.82 2.99 1.45 1.86 0.88 3.28 0.99 2.31 1.47 2.64 1.27 1.6 1.01 8.33 1.49 1.02 0.75 4.07 0.81 1.57 1.38 6.02 0.75 1.59 0.89 4.99 0.94 1.87 0.4 4.13 0.73 1.8 0.43 3.74 1.22 1.35 1.38 5.74 1.22 1.76 0.49" stroke-dashoffset="18.39"/>
<polyline fill="none" points="412.2,60.16 413.7,60.48 415.2,60.31 416.7,60.14 418.2,60.43 419.7,60.22 421.2,60.04 422.7,60.41 424.2,59.85 425.7,60.75 427.2,60.3 428.7,60.44 430.2,60.7 431.7,60.69 433.2,60.32 434.7,60.51 436.2,60.7 437.7,60.83 439.2,60.17 440.7,60.5 442.2,60.08 443.7,60.14 445.2,60.38 446.7,60.34 448.2,60.07 449.7,60.13 451.2,60.38 452.7,59.97 454.2,60.44 455.7,60.04 457.2,60.82 458.7,60.45 460.2,60.62 461.7,60.28 463.2,60.73 464.7,60.55 466.2,60.62 467.7,60.43 469.2,60.58 470.7,60.36 472.2,60.58 473.7,60.3 475.2,60.3 476.7,60.44 478.2,60.43" stroke="#00ff00" stroke-width="2.9" stroke-dasharray="3.69 0.63 1.94 0.79 3.46 0.94 1.43 1.45 7.99 0.65 0.95 1.28 2.55 1.3 0.94 1.48 4.69 1.16 1.86 0.41 3.74 0.73 1.3 0.97 6.52 0.67 0.95 0.41 5.95 1.18 0.93 1.23 4.77 0.62 2.39 0.71 3.83 1.38 2.3 0.63 8.19 1.3 2.3 1.07 5.86 1.22 1.92 1" stroke-dashoffset="10.1"/>
<polyline fill="none" points="412.2,68.77 413.7,68.42 415.2,67.97 416.7,68.75 418.2,68.84 419.7,68.43 421.2,69.03 422.7,68.99 424.2,68.91 425.7,68.1 427.2,68.68 428.7,68.86 430.2,68.41 431.7,68.51 433.2,68.93 434.7,69.29 436.2,68.92 437.7,68.75 439.2,68.52 440.7,68.35 442.2,68.42 443.7,68.79 445.2,68.53 446.7,69.09 448.2,68.28 449.7,68.33 451.2,68.67 452.7,68.75 454.2,68.72 455.7,68.36 457.2,68.47 458.7,68.98 460.2,68.58 461.7,68.55 463.2,68.89 464.7,68.82 466.2,68.7 467.7,69.21 469.2,68.29 470.7,68.82 472.2,68.52 473.7,69 475.2,68.41 476.7,68.9 478.2,68.58" stroke="#00ff00" stroke-width="2.9" stroke-dasharray="3.59 1.25 1.98 1.11 4.85 1.2 1.31 0.7 4.98 0.95 2.19 0.66 3.06 0.76 1.6 0.65 6.58 0.97 0.85 1.03 4.21 1.16 0.98 0.77 6.67 1.36 1.18 1.32 7.87 0.88 0.96 0.78 6.06 1 1.76 0.46 7 0.56 1.89 0.42 6.91 1.46 1 0.6 4.24 1.31 1.75 0.56" stroke-dashoffset="9.84"/>
<polyline fill="none" points="412.2,76.56 413.7,76.98 415.2,76.92 416.7,77.16 418.2,77.51 419.7,76.91 421.2,76.95 422.7,77.38 424.2,77.31 425.7,76.53 427.2,77 428.7,76.55 430.2,76.74 431.7,76.85 433.2,76.95 434.7,76.9 436.2,77.05 437.7,77.09 439.2,77.46 440.7,77.23 442.2,76.67 443.7,77.4 445.2,77.09 446.7,76.64 448.2,76.69 449.7,77 451.2,77.02 452.7,77.09 454.2,76.53 455.7,76.89 457.2,77.61 458.7,76.47 460.2,76.58 461.7,76.99 463.2,77.07 464.7,76.81 466.2,77.03 467.7,76.95 469.2,76.73 470.7,76.97 472.2,76.89 473.7,77.08 475.2,77.19 476.7,76.71 478.2,76.95" stroke="#00ff00" stroke-width="2.9" stroke-dasharray="7.88 0.79 0.9 0.99 5.62 1.33 1.85 0.6 3.57 0.43 1.83 1.47 8.01 1.03 2.01 1.25 6.84 0.95 1.19 0.44 3.2 1.48 2.38 0.72 6.04 1.17 1.63 1.23 5.31 1.16 1.62 1.32 3.19 0.54 2.11 1.31 3.84 1.33 2.11 0.63 5.65 1.46 1.58 1.33 7.01 1.21 2.29 1.36" stroke-dashoffset="3.68"/>
<polyline fill="none" points="412.2,85.59 413.7,85.6 415.2,85.93 416.7,85.5 418.2,85.65 419.7,85.67 421.2,86.15 422.7,85.6 424.2,85.22 425.7,85.11 427.2,85.42 428.7,85.55 430.2,85.18 431.7,85.17 433.2,85.23 434.7,85.49 436.2,85.68 437.7,85.28 439.2,85.25 440.7,85.87 442.2,86.01 443.7,85.65 445.2,85.32 446.7,85.31 448.2,85.69 449.7,84.97 451.2,85 452.7,85.75 454.2,85.05 455.7,85.24 457.2,86.08 458.7,85.33 460.2,85.87 461.7,85.39 463.2,85.15 464.7,85.6 466.2,85.44 467.7,85.72 469.2,85.04 470.7,85.63 472.2,85.55 473.7,85.72 475.2,85.57 476.7,85.2 478.2,85.88" stroke="#00ff00" stroke-width="2.9" stroke-dasharray="3.67 0.54 1.06 0.47 7.6 0.46 1.12 0.84 3.5 1.11 1.59 1.49 6.44 1.28 1.63 1.47 5.74 0.44 2.38 0.92 3.24 1.24 1.91 0.62 6.45 0.96 1.02 0.89 8.17 0.8 1.32 1.29 4.64 0.88 2.45 1.24 4.5 0.76 1.44 1.07 2.65 0.72 1.61 0.91 5.89 0.72 1.33 0.57" stroke-dashoffset="7.07"/>
<line x1="416.65" y1="82.56" x2="416.65" y2="79.07" stroke="#ff0000" stroke-width="1.2"/>
<line x1="418.77" y1="81.37" x2="418.77" y2="78.52" stroke="#ff0000" stroke-width="1.2"/>
<line x1="424.29" y1="78.28" x2="424.29" y2="82.24" stroke="#ff0000" stroke-width="1.2"/>
<line x1="428.52" y1="75.91" x2="428.52" y2="80.39" stroke="#ff0000" stroke-width="1.2"/>
<line x1="431.19" y1="74.42" x2="431.19" y2="71.56" stroke="#ff0000" stroke-width="1.2"/>
<line x1="435.72" y1="71.88" x2="435.72" y2="68.27" stroke="#ff0000" stroke-width="1.2"/>
<line x1="439.67" y1="69.66" x2="439.67" y2="65.09" stroke="#ff0000" stroke-width="1.2"/>
<line x1="442.7" y1="67.97" x2="442.7" y2="63.47" stroke="#ff0000" stroke-width="1.2"/>
<line x1="449.03" y1="64.42" x2="449.03" y2="61.52" stroke="#ff0000" stroke-width="1.2"/>
<line x1="452.95" y1="62.23" x2="452.95" y2="65.78" stroke="#ff0000" stroke-width="1.2"/>
<line x1="457.09" y1="59.91" x2="457.09" y2="64.15" stroke="#ff0000" stroke-width="1.2"/>
<line x1="411.4" y1="85.75" x2="477.1" y2="48.95" stroke="#0000d0" stroke-width="1.35"/>
<line x1="411.4" y1="85.5" x2="477.1" y2="48.7" stroke="#000" stroke-width="1.0"/>
<rect x="458.1" y="46.1" width="19.7" height="44.9" fill="rgba(0,0,255,0.2)"/>
</g>
<g font-family='"Liberation Sans", sans-serif' font-size="6.9" fill="#262626">
<text x="432.1" y="98.3" text-anchor="middle">9.8</text>
<text x="458.1" y="98.3" text-anchor="middle">10</text>
<text x="410.3" y="50.6" text-anchor="end">2.38</text>
<text x="410.3" y="57.9" text-anchor="end">2.36</text>
<text x="410.3" y="65.2" text-anchor="end">2.34</text>
<text x="410.3" y="72.5" text-anchor="end">2.32</text>
<text x="410.3" y="79.8" text-anchor="end">2.3</text>
<text x="410.3" y="87.6" text-anchor="end">2.28</text>
</g>
<rect x="552.2" y="100.5" width="122" height="82.5" fill="#fff" stroke="#262626" stroke-width="0.45"/>
<g font-family='"Liberation Serif", serif' font-size="7.1" fill="#000">
<line x1="554.9" y1="105.5" x2="581.3" y2="105.5" stroke="#00ff00" stroke-width="1.5" stroke-dasharray="5.2 1.6 2.0 1.8"/>
<text x="583.2" y="107.95" textLength="35" lengthAdjust="spacingAndGlyphs">sensor 1th</text>
<line x1="554.9" y1="113.53" x2="581.3" y2="113.53" stroke="#00ff00" stroke-width="1.5" stroke-dasharray="5.2 1.6 2.0 1.8"/>
<text x="583.2" y="115.98" textLength="35" lengthAdjust="spacingAndGlyphs">sensor 2th</text>
<line x1="554.9" y1="121.56" x2="581.3" y2="121.56" stroke="#00ff00" stroke-width="1.5" stroke-dasharray="5.2 1.6 2.0 1.8"/>
<text x="583.2" y="124.01" textLength="35" lengthAdjust="spacingAndGlyphs">sensor 3th</text>
<line x1="554.9" y1="129.59" x2="581.3" y2="129.59" stroke="#00ff00" stroke-width="1.5" stroke-dasharray="5.2 1.6 2.0 1.8"/>
<text x="583.2" y="132.04" textLength="35" lengthAdjust="spacingAndGlyphs">sensor 4th</text>
<line x1="554.9" y1="137.62" x2="581.3" y2="137.62" stroke="#00ff00" stroke-width="1.5" stroke-dasharray="5.2 1.6 2.0 1.8"/>
<text x="583.2" y="140.07" textLength="35" lengthAdjust="spacingAndGlyphs">sensor 5th</text>
<line x1="554.9" y1="145.65" x2="581.3" y2="145.65" stroke="#ffff00" stroke-width="1.5" stroke-dasharray="5.6 4.7"/>
<text x="583.2" y="148.1" textLength="65" lengthAdjust="spacingAndGlyphs">Algorithm 1 in [26]</text>
<line x1="554.9" y1="153.68" x2="581.3" y2="153.68" stroke="#ff0000" stroke-width="1.5" stroke-dasharray="5.6 4.7"/>
<text x="583.2" y="156.13" textLength="65" lengthAdjust="spacingAndGlyphs">Algorithm 2 in [26]</text>
<line x1="554.9" y1="161.71" x2="581.3" y2="161.71" stroke="#0000ff" stroke-width="1.5" stroke-dasharray="5.2 1.6 2.0 1.8"/>
<text x="583.2" y="164.16" textLength="57" lengthAdjust="spacingAndGlyphs">Unattacked data</text>
<line x1="554.9" y1="169.74" x2="581.3" y2="169.74" stroke="#000" stroke-width="1.4"/>
<text x="583.2" y="172.19" textLength="87.6" lengthAdjust="spacingAndGlyphs">Algorithm 1 in this paper</text>
<rect x="554.9" y="175.07" width="26.4" height="5.4" fill="#ccccff"/>
<text x="583.2" y="180.22" textLength="41" lengthAdjust="spacingAndGlyphs">Attack time</text>
</g>
<text x="505.1" y="239.2" font-family='"Liberation Serif", serif' font-size="18.4" textLength="21.6" lengthAdjust="spacingAndGlyphs" fill="#111">(b)</text>
<text x="534.9" y="239.2" font-family='"Liberation Serif", serif' font-size="18.4" font-style="italic" fill="#111">y</text>
<clipPath id="clc"><rect x="29.7" y="264.3" width="284.5" height="184.1"/></clipPath>
<g clip-path="url(#clc)">
<polygon fill="#00ff00" points="29.7,279.94 30.7,279.94 30.7,284.85 31.7,284.85 31.7,290.46 32.71,290.46 32.71,299.57 33.71,299.57 33.71,301.04 34.71,301.04 34.71,300.13 35.71,300.13 35.71,302.43 36.71,302.43 36.71,306.56 37.71,306.56 37.71,305.84 38.72,305.84 38.72,305.92 39.72,305.92 39.72,306.4 40.72,306.4 40.72,302.28 41.72,302.28 41.72,307.04 42.72,307.04 42.72,306.2 43.72,306.2 43.72,306.32 44.73,306.32 44.73,303.6 45.73,303.6 45.73,307.19 46.73,307.19 46.73,304.39 47.73,304.39 47.73,304.77 48.73,304.77 48.73,307.85 49.74,307.85 49.74,305.75 50.74,305.75 50.74,307.74 51.74,307.74 51.74,304.8 52.74,304.8 52.74,305.76 53.74,305.76 53.74,303.45 54.74,303.45 54.74,306.15 55.75,306.15 55.75,307.35 56.75,307.35 56.75,304.21 57.75,304.21 57.75,306.56 58.75,306.56 58.75,308.99 59.75,308.99 59.75,307.67 60.75,307.67 60.75,309.51 61.76,309.51 61.76,306.31 62.76,306.31 62.76,308.61 63.76,308.61 63.76,309.69 64.76,309.69 64.76,308.4 65.76,308.4 65.76,308.87 66.77,308.87 66.77,310.29 67.77,310.29 67.77,308.46 68.77,308.46 68.77,307.07 69.77,307.07 69.77,308.35 70.77,308.35 70.77,310.36 71.77,310.36 71.77,307.12 72.78,307.12 72.78,310.26 73.78,310.26 73.78,310.18 74.78,310.18 74.78,311.17 75.78,311.17 75.78,311.73 76.78,311.73 76.78,311.09 77.78,311.09 77.78,311.56 78.79,311.56 78.79,305.96 79.79,305.96 79.79,312.92 80.79,312.92 80.79,307.81 81.79,307.81 81.79,313.1 82.79,313.1 82.79,311.47 83.8,311.47 83.8,310.8 84.8,310.8 84.8,312.19 85.8,312.19 85.8,313.48 86.8,313.48 86.8,308.88 87.8,308.88 87.8,313.95 88.8,313.95 88.8,314.28 89.81,314.28 89.81,314.06 90.81,314.06 90.81,311.18 91.81,311.18 91.81,314.73 92.81,314.73 92.81,315.22 93.81,315.22 93.81,315.69 94.81,315.69 94.81,315.52 95.82,315.52 95.82,317.44 96.82,317.44 96.82,313.91 97.82,313.91 97.82,318.1 98.82,318.1 98.82,318.48 99.82,318.48 99.82,318.73 100.83,318.73 100.83,315.63 101.83,315.63 101.83,315.71 102.83,315.71 102.83,321.63 103.83,321.63 103.83,321.07 104.83,321.07 104.83,319.39 105.83,319.39 105.83,322.97 106.84,322.97 106.84,323.11 107.84,323.11 107.84,322.2 108.84,322.2 108.84,323.8 109.84,323.8 109.84,323.13 110.84,323.13 110.84,320.34 111.84,320.34 111.84,317.41 112.85,317.41 112.85,319.48 113.85,319.48 113.85,321.95 114.85,321.95 114.85,323.84 115.85,323.84 115.85,317.76 116.85,317.76 116.85,324.77 117.85,324.77 117.85,322.87 118.86,322.87 118.86,324.73 119.86,324.73 119.86,322.21 120.86,322.21 120.86,325.41 121.86,325.41 121.86,320.92 122.86,320.92 122.86,325.49 123.87,325.49 123.87,325.34 124.87,325.34 124.87,319.81 125.87,319.81 125.87,323.66 126.87,323.66 126.87,325 127.87,325 127.87,326.31 128.87,326.31 128.87,326.19 129.88,326.19 129.88,322.1 130.88,322.1 130.88,325.63 131.88,325.63 131.88,324.12 132.88,324.12 132.88,326.72 133.88,326.72 133.88,325.59 134.88,325.59 134.88,325.67 135.89,325.67 135.89,323.56 136.89,323.56 136.89,325.63 137.89,325.63 137.89,325.9 138.89,325.9 138.89,326.59 139.89,326.59 139.89,326.43 140.9,326.43 140.9,322.19 141.9,322.19 141.9,328.17 142.9,328.17 142.9,328.41 143.9,328.41 143.9,326.41 144.9,326.41 144.9,325.01 145.9,325.01 145.9,327.52 146.91,327.52 146.91,326.88 147.91,326.88 147.91,326.59 148.91,326.59 148.91,328.85 149.91,328.85 149.91,327.5 150.91,327.5 150.91,328.9 151.91,328.9 151.91,322.55 152.92,322.55 152.92,329.85 153.92,329.85 153.92,328.51 154.92,328.51 154.92,329.45 155.92,329.45 155.92,326.4 156.92,326.4 156.92,329.33 157.93,329.33 157.93,330.22 158.93,330.22 158.93,330.35 159.93,330.35 159.93,326.78 160.93,326.78 160.93,325.4 161.93,325.4 161.93,329.73 162.93,329.73 162.93,331.55 163.94,331.55 163.94,331.56 164.94,331.56 164.94,330.56 165.94,330.56 165.94,327.35 166.94,327.35 166.94,329.47 167.94,329.47 167.94,331.78 168.94,331.78 168.94,330.15 169.95,330.15 169.95,332.39 170.95,332.39 170.95,329.33 171.95,329.33 171.95,332.99 172.95,332.99 172.95,328.37 173.95,328.37 173.95,329.71 174.96,329.71 174.96,332.07 175.96,332.07 175.96,332.41 176.96,332.41 176.96,334.71 177.96,334.71 177.96,330.38 178.96,330.38 178.96,334.8 179.96,334.8 179.96,335.57 180.97,335.57 180.97,334.68 181.97,334.68 181.97,330.99 182.97,330.99 182.97,335.6 183.97,335.6 183.97,334.03 184.97,334.03 184.97,336.76 185.97,336.76 185.97,331.33 186.98,331.33 186.98,335.81 187.98,335.81 187.98,336.58 188.98,336.58 188.98,332.87 189.98,332.87 189.98,337.25 190.98,337.25 190.98,333.39 191.99,333.39 191.99,334.76 192.99,334.76 192.99,335.76 193.99,335.76 193.99,338.5 194.99,338.5 194.99,337.25 195.99,337.25 195.99,335.03 196.99,335.03 196.99,337.34 198,337.34 198,337.3 199,337.3 199,339.43 200,339.43 200,338.26 201,338.26 201,339.42 202,339.42 202,340.45 203,340.45 203,339.2 204.01,339.2 204.01,335.38 205.01,335.38 205.01,340.39 206.01,340.39 206.01,339.13 207.01,339.13 207.01,335.61 208.01,335.61 208.01,336.15 209.02,336.15 209.02,339.38 210.02,339.38 210.02,340.25 211.02,340.25 211.02,338.51 212.02,338.51 212.02,341.52 213.02,341.52 213.02,339.54 214.02,339.54 214.02,335.9 215.03,335.9 215.03,339.85 216.03,339.85 216.03,341.41 217.03,341.41 217.03,340.99 218.03,340.99 218.03,342.16 219.03,342.16 219.03,342.26 220.03,342.26 220.03,339.29 221.04,339.29 221.04,342.53 222.04,342.53 222.04,341.08 223.04,341.08 223.04,342.57 224.04,342.57 224.04,340.76 225.04,340.76 225.04,341.46 226.05,341.46 226.05,338.56 227.05,338.56 227.05,339.24 228.05,339.24 228.05,341.26 229.05,341.26 229.05,339.25 230.05,339.25 230.05,343.98 231.05,343.98 231.05,342.73 232.06,342.73 232.06,341.75 233.06,341.75 233.06,344.21 234.06,344.21 234.06,344.21 235.06,344.21 235.06,340.03 236.06,340.03 236.06,340.21 237.06,340.21 237.06,342.01 238.07,342.01 238.07,341.28 239.07,341.28 239.07,338.91 240.07,338.91 240.07,344.87 241.07,344.87 241.07,343.17 242.07,343.17 242.07,340.02 243.07,340.02 243.07,344.96 244.08,344.96 244.08,344.81 245.08,344.81 245.08,344.59 246.08,344.59 246.08,345.37 247.08,345.37 247.08,343.91 248.08,343.91 248.08,343.24 249.09,343.24 249.09,344.26 250.09,344.26 250.09,345.88 251.09,345.88 251.09,345.7 252.09,345.7 252.09,341.15 253.09,341.15 253.09,344.52 254.09,344.52 254.09,342.96 255.1,342.96 255.1,342.61 256.1,342.61 256.1,345.42 257.1,345.42 257.1,340.99 258.1,340.99 258.1,345.51 259.1,345.51 259.1,347.67 260.1,347.67 260.1,344.86 261.11,344.86 261.11,346.83 262.11,346.83 262.11,343.52 263.11,343.52 263.11,348.41 264.11,348.41 264.11,344.49 265.11,344.49 265.11,350.2 266.12,350.2 266.12,350.7 267.12,350.7 267.12,351.2 268.12,351.2 268.12,344.54 269.12,344.54 269.12,348.18 270.12,348.18 270.12,351.13 271.12,351.13 271.12,347.82 272.13,347.82 272.13,353.01 273.13,353.01 273.13,352.43 274.13,352.43 274.13,353.34 275.13,353.34 275.13,353.3 276.13,353.3 276.13,350.79 277.13,350.79 277.13,353.98 278.14,353.98 278.14,351.65 279.14,351.65 279.14,355.3 280.14,355.3 280.14,352.11 281.14,352.11 281.14,356.13 282.14,356.13 282.14,354.13 283.15,354.13 283.15,351.81 284.15,351.81 284.15,351.22 285.15,351.22 285.15,349.44 286.15,349.44 286.15,356 287.15,356 287.15,356.73 288.15,356.73 288.15,352.71 289.16,352.71 289.16,355.58 290.16,355.58 290.16,357.03 291.16,357.03 291.16,352.13 292.16,352.13 292.16,355.53 293.16,355.53 293.16,353.92 294.16,353.92 294.16,355.06 295.17,355.06 295.17,358.14 296.17,358.14 296.17,355.14 297.17,355.14 297.17,354.23 298.17,354.23 298.17,354.28 299.17,354.28 299.17,358.24 300.18,358.24 300.18,358.65 301.18,358.65 301.18,354.2 302.18,354.2 302.18,356.61 303.18,356.61 303.18,355.32 304.18,355.32 304.18,357.32 305.18,357.32 305.18,358.31 306.19,358.31 306.19,356.61 307.19,356.61 307.19,359.47 308.19,359.47 308.19,359.76 309.19,359.76 309.19,359.42 310.19,359.42 310.19,357.09 311.19,357.09 311.19,359.15 312.2,359.15 312.2,359.73 313.2,359.73 313.2,357.7 314.2,357.7 314.2,392.23 313.2,392.23 313.2,391.99 312.2,391.99 312.2,392.65 311.19,392.65 311.19,392.23 310.19,392.23 310.19,392.48 309.19,392.48 309.19,392.04 308.19,392.04 308.19,394.92 307.19,394.92 307.19,390.85 306.19,390.85 306.19,395.69 305.18,395.69 305.18,395.51 304.18,395.51 304.18,393.8 303.18,393.8 303.18,390.86 302.18,390.86 302.18,392.32 301.18,392.32 301.18,392.36 300.18,392.36 300.18,394.29 299.17,394.29 299.17,393.32 298.17,393.32 298.17,390.54 297.17,390.54 297.17,389.73 296.17,389.73 296.17,392.02 295.17,392.02 295.17,389.69 294.16,389.69 294.16,394.24 293.16,394.24 293.16,390.6 292.16,390.6 292.16,388.84 291.16,388.84 291.16,391.76 290.16,391.76 290.16,390.44 289.16,390.44 289.16,389.24 288.15,389.24 288.15,388.42 287.15,388.42 287.15,390.24 286.15,390.24 286.15,390.91 285.15,390.91 285.15,388.26 284.15,388.26 284.15,389.04 283.15,389.04 283.15,387.71 282.14,387.71 282.14,388.6 281.14,388.6 281.14,388.27 280.14,388.27 280.14,387.87 279.14,387.87 279.14,388.01 278.14,388.01 278.14,389.5 277.13,389.5 277.13,387 276.13,387 276.13,387.9 275.13,387.9 275.13,386.44 274.13,386.44 274.13,387.47 273.13,387.47 273.13,385.92 272.13,385.92 272.13,384.79 271.12,384.79 271.12,390.19 270.12,390.19 270.12,384.7 269.12,384.7 269.12,384.93 268.12,384.93 268.12,383.34 267.12,383.34 267.12,384.56 266.12,384.56 266.12,385.45 265.11,385.45 265.11,384.81 264.11,384.81 264.11,383.47 263.11,383.47 263.11,380.95 262.11,380.95 262.11,379.81 261.11,379.81 261.11,379.69 260.1,379.69 260.1,382.01 259.1,382.01 259.1,383.55 258.1,383.55 258.1,379.78 257.1,379.78 257.1,379.97 256.1,379.97 256.1,378.32 255.1,378.32 255.1,382.81 254.09,382.81 254.09,378.37 253.09,378.37 253.09,379.55 252.09,379.55 252.09,377.7 251.09,377.7 251.09,380.97 250.09,380.97 250.09,380.75 249.09,380.75 249.09,378.05 248.08,378.05 248.08,380.49 247.08,380.49 247.08,382.31 246.08,382.31 246.08,383.55 245.08,383.55 245.08,378.35 244.08,378.35 244.08,378.86 243.07,378.86 243.07,377.3 242.07,377.3 242.07,379.82 241.07,379.82 241.07,378.71 240.07,378.71 240.07,376.51 239.07,376.51 239.07,377.16 238.07,377.16 238.07,376.67 237.06,376.67 237.06,377.31 236.06,377.31 236.06,382.8 235.06,382.8 235.06,375.7 234.06,375.7 234.06,377.47 233.06,377.47 233.06,375.81 232.06,375.81 232.06,376.69 231.05,376.69 231.05,382.4 230.05,382.4 230.05,377.4 229.05,377.4 229.05,376.46 228.05,376.46 228.05,375.94 227.05,375.94 227.05,378.39 226.05,378.39 226.05,379.66 225.04,379.66 225.04,377.38 224.04,377.38 224.04,377.78 223.04,377.78 223.04,375.89 222.04,375.89 222.04,375.89 221.04,375.89 221.04,374.95 220.03,374.95 220.03,375.77 219.03,375.77 219.03,376.26 218.03,376.26 218.03,374.64 217.03,374.64 217.03,378.16 216.03,378.16 216.03,373.9 215.03,373.9 215.03,373.34 214.02,373.34 214.02,374.19 213.02,374.19 213.02,374.58 212.02,374.58 212.02,374.76 211.02,374.76 211.02,374.23 210.02,374.23 210.02,372.68 209.02,372.68 209.02,373.11 208.01,373.11 208.01,374.05 207.01,374.05 207.01,374.58 206.01,374.58 206.01,372.52 205.01,372.52 205.01,374.26 204.01,374.26 204.01,372.19 203,372.19 203,373.12 202,373.12 202,371.95 201,371.95 201,371.18 200,371.18 200,373.67 199,373.67 199,375.73 198,375.73 198,371.57 196.99,371.57 196.99,372.99 195.99,372.99 195.99,372.08 194.99,372.08 194.99,376.11 193.99,376.11 193.99,370.92 192.99,370.92 192.99,369.66 191.99,369.66 191.99,370.84 190.98,370.84 190.98,371.03 189.98,371.03 189.98,370.31 188.98,370.31 188.98,368.86 187.98,368.86 187.98,370.36 186.98,370.36 186.98,370.67 185.97,370.67 185.97,369.8 184.97,369.8 184.97,369.52 183.97,369.52 183.97,367.82 182.97,367.82 182.97,369.33 181.97,369.33 181.97,367.13 180.97,367.13 180.97,370.38 179.96,370.38 179.96,372.94 178.96,372.94 178.96,370.11 177.96,370.11 177.96,368.43 176.96,368.43 176.96,366.6 175.96,366.6 175.96,366.9 174.96,366.9 174.96,365.81 173.95,365.81 173.95,367.05 172.95,367.05 172.95,367.29 171.95,367.29 171.95,367.68 170.95,367.68 170.95,364.64 169.95,364.64 169.95,366.17 168.94,366.17 168.94,364.04 167.94,364.04 167.94,370.85 166.94,370.85 166.94,365.5 165.94,365.5 165.94,363.33 164.94,363.33 164.94,363.73 163.94,363.73 163.94,363.34 162.93,363.34 162.93,364.14 161.93,364.14 161.93,368.15 160.93,368.15 160.93,362.42 159.93,362.42 159.93,367.47 158.93,367.47 158.93,364.72 157.93,364.72 157.93,362.97 156.92,362.97 156.92,365.15 155.92,365.15 155.92,364.29 154.92,364.29 154.92,364.68 153.92,364.68 153.92,365.49 152.92,365.49 152.92,365.68 151.91,365.68 151.91,367.45 150.91,367.45 150.91,363.56 149.91,363.56 149.91,361.34 148.91,361.34 148.91,361.03 147.91,361.03 147.91,363.57 146.91,363.57 146.91,361.63 145.9,361.63 145.9,364 144.9,364 144.9,360.97 143.9,360.97 143.9,362.85 142.9,362.85 142.9,360.37 141.9,360.37 141.9,361.54 140.9,361.54 140.9,360.29 139.89,360.29 139.89,362.27 138.89,362.27 138.89,358.95 137.89,358.95 137.89,359.23 136.89,359.23 136.89,360.4 135.89,360.4 135.89,361.55 134.88,361.55 134.88,366.33 133.88,366.33 133.88,360.58 132.88,360.58 132.88,363.62 131.88,363.62 131.88,362.03 130.88,362.03 130.88,358.49 129.88,358.49 129.88,361.33 128.87,361.33 128.87,363.01 127.87,363.01 127.87,364.49 126.87,364.49 126.87,358.78 125.87,358.78 125.87,358.56 124.87,358.56 124.87,361.33 123.87,361.33 123.87,359.06 122.86,359.06 122.86,362.19 121.86,362.19 121.86,358.9 120.86,358.9 120.86,358.41 119.86,358.41 119.86,359.71 118.86,359.71 118.86,359.87 117.85,359.87 117.85,362.33 116.85,362.33 116.85,358.48 115.85,358.48 115.85,357.14 114.85,357.14 114.85,363.86 113.85,363.86 113.85,359.36 112.85,359.36 112.85,357.4 111.84,357.4 111.84,360.14 110.84,360.14 110.84,357.24 109.84,357.24 109.84,356.08 108.84,356.08 108.84,355.77 107.84,355.77 107.84,354.93 106.84,354.93 106.84,358.51 105.83,358.51 105.83,355.01 104.83,355.01 104.83,353.79 103.83,353.79 103.83,353.58 102.83,353.58 102.83,353.45 101.83,353.45 101.83,355.13 100.83,355.13 100.83,354.31 99.82,354.31 99.82,352.38 98.82,352.38 98.82,351.98 97.82,351.98 97.82,350.56 96.82,350.56 96.82,350.02 95.82,350.02 95.82,351.1 94.81,351.1 94.81,348.76 93.81,348.76 93.81,347.72 92.81,347.72 92.81,348.97 91.81,348.97 91.81,347.02 90.81,347.02 90.81,346.97 89.81,346.97 89.81,346.14 88.8,346.14 88.8,346.71 87.8,346.71 87.8,347.96 86.8,347.96 86.8,347.32 85.8,347.32 85.8,347.02 84.8,347.02 84.8,349.37 83.8,349.37 83.8,349.81 82.79,349.81 82.79,349.82 81.79,349.82 81.79,344.87 80.79,344.87 80.79,346.24 79.79,346.24 79.79,345.53 78.79,345.53 78.79,347.07 77.78,347.07 77.78,343.74 76.78,343.74 76.78,347.3 75.78,347.3 75.78,343.29 74.78,343.29 74.78,347.23 73.78,347.23 73.78,343.9 72.78,343.9 72.78,346.41 71.77,346.41 71.77,342.84 70.77,342.84 70.77,347.73 69.77,347.73 69.77,342.52 68.77,342.52 68.77,344.56 67.77,344.56 67.77,347.4 66.77,347.4 66.77,341.81 65.76,341.81 65.76,341.89 64.76,341.89 64.76,343.37 63.76,343.37 63.76,341.92 62.76,341.92 62.76,341.98 61.76,341.98 61.76,342.2 60.75,342.2 60.75,343.83 59.75,343.83 59.75,344.93 58.75,344.93 58.75,343.15 57.75,343.15 57.75,340.79 56.75,340.79 56.75,340.94 55.75,340.94 55.75,340.29 54.74,340.29 54.74,341.18 53.74,341.18 53.74,340.59 52.74,340.59 52.74,342.68 51.74,342.68 51.74,339.68 50.74,339.68 50.74,343.33 49.74,343.33 49.74,342.29 48.73,342.29 48.73,340.71 47.73,340.71 47.73,339.83 46.73,339.83 46.73,339.53 45.73,339.53 45.73,340.3 44.73,340.3 44.73,340.35 43.72,340.35 43.72,339.8 42.72,339.8 42.72,338.76 41.72,338.76 41.72,339.05 40.72,339.05 40.72,340.11 39.72,340.11 39.72,340.04 38.72,340.04 38.72,339.83 37.71,339.83 37.71,338.71 36.71,338.71 36.71,337.63 35.71,337.63 35.71,338.62 34.71,338.62 34.71,335.72 33.71,335.72 33.71,333.74 32.71,333.74 32.71,332.86 31.7,332.86 31.7,327.51 30.7,327.51 30.7,321.26 29.7,321.26"/>
<line x1="38.79" y1="269.7" x2="38.79" y2="376.1" stroke="#00ff00" stroke-width="1.0" stroke-dasharray="4 1.3 1.3 1.3" stroke-dashoffset="4.69"/>
<line x1="39.32" y1="269.65" x2="39.32" y2="375.3" stroke="#00ff00" stroke-width="1.0" stroke-dasharray="4 1.3 1.3 1.3" stroke-dashoffset="2.21"/>
<line x1="39.85" y1="271.52" x2="39.85" y2="375.7" stroke="#00ff00" stroke-width="1.0" stroke-dasharray="4 1.3 1.3 1.3" stroke-dashoffset="4.02"/>
<line x1="43.53" y1="271.99" x2="43.53" y2="375.73" stroke="#00ff00" stroke-width="1.0" stroke-dasharray="4 1.3 1.3 1.3" stroke-dashoffset="3.5"/>
<line x1="44.29" y1="269.54" x2="44.29" y2="373.95" stroke="#00ff00" stroke-width="1.0" stroke-dasharray="4 1.3 1.3 1.3" stroke-dashoffset="0.38"/>
<line x1="45.06" y1="268.2" x2="45.06" y2="377.08" stroke="#00ff00" stroke-width="1.0" stroke-dasharray="4 1.3 1.3 1.3" stroke-dashoffset="0.66"/>
<line x1="45.82" y1="270.99" x2="45.82" y2="377.65" stroke="#00ff00" stroke-width="1.0" stroke-dasharray="4 1.3 1.3 1.3" stroke-dashoffset="1.55"/>
<line x1="76.91" y1="274.54" x2="76.91" y2="379.79" stroke="#00ff00" stroke-width="1.0" stroke-dasharray="4 1.3 1.3 1.3" stroke-dashoffset="5.05"/>
<line x1="77.64" y1="275.68" x2="77.64" y2="380.71" stroke="#00ff00" stroke-width="1.0" stroke-dasharray="4 1.3 1.3 1.3" stroke-dashoffset="4.65"/>
<line x1="78.37" y1="275.67" x2="78.37" y2="379.91" stroke="#00ff00" stroke-width="1.0" stroke-dasharray="4 1.3 1.3 1.3" stroke-dashoffset="4.67"/>
<line x1="79.11" y1="275.79" x2="79.11" y2="381.55" stroke="#00ff00" stroke-width="1.0" stroke-dasharray="4 1.3 1.3 1.3" stroke-dashoffset="1.47"/>
<path d="M143.17,344.05 L143.17,290.3 145.19,290.57 147.21,291.53 149.23,293.23 151.25,292.11 153.27,294.29 L153.27,345.56" fill="none" stroke="#00ff00" stroke-width="1.45" stroke-dasharray="4 1.3 1.3 1.3"/>
<path d="M143.17,344.05 L143.17,397.81 145.19,399.35 147.21,396.93 149.23,399.31 151.25,399 153.27,399.78 L153.27,345.56" fill="none" stroke="#00ff00" stroke-width="1.45" stroke-dasharray="4 1.3 1.3 1.3"/>
<path d="M198.17,355.23 L198.17,302.85 200.16,303.64 202.14,305.03 204.13,303.34 206.11,305.15 208.1,302.05 210.08,304.96 212.06,304.51 L212.06,357.46" fill="none" stroke="#00ff00" stroke-width="1.45" stroke-dasharray="4 1.3 1.3 1.3"/>
<path d="M198.17,355.23 L198.17,408.96 200.16,409.45 202.14,408.36 204.13,410.02 206.11,410.79 208.1,410.7 210.08,409.21 212.06,410.31 L212.06,357.46" fill="none" stroke="#00ff00" stroke-width="1.45" stroke-dasharray="4 1.3 1.3 1.3"/>
<path d="M247.48,361.42 L247.48,309.93 249.21,308.25 250.93,309.27 252.65,308.52 L252.65,362.15" fill="none" stroke="#00ff00" stroke-width="1.45" stroke-dasharray="4 1.3 1.3 1.3"/>
<path d="M247.48,361.42 L247.48,414.43 249.21,415.33 250.93,414.93 252.65,414.02 L252.65,362.15" fill="none" stroke="#00ff00" stroke-width="1.45" stroke-dasharray="4 1.3 1.3 1.3"/>
<path d="M256.97,362.94 L256.97,311.21 258.82,309.79 260.67,310.16 262.52,310.3 264.37,311.47 266.21,311.58 268.06,313.66 269.91,314.16 L269.91,368.25" fill="none" stroke="#00ff00" stroke-width="1.45" stroke-dasharray="4 1.3 1.3 1.3"/>
<path d="M256.97,362.94 L256.97,418.3 258.82,416.83 260.67,418.83 262.52,417.45 264.37,416.97 266.21,419.93 268.06,420.46 269.91,421.12 L269.91,368.25" fill="none" stroke="#00ff00" stroke-width="1.45" stroke-dasharray="4 1.3 1.3 1.3"/>
<path d="M275.65,370.42 L275.65,315.29 277.53,316.45 279.41,316.37 281.29,318.63 L281.29,371.71" fill="none" stroke="#00ff00" stroke-width="1.45" stroke-dasharray="4 1.3 1.3 1.3"/>
<path d="M275.65,370.42 L275.65,424.15 277.53,426.16 279.41,422.6 281.29,426.63 L281.29,371.71" fill="none" stroke="#00ff00" stroke-width="1.45" stroke-dasharray="4 1.3 1.3 1.3"/>
<polygon fill="#ffff00" points="29.7,301.4 30.7,301.4 30.7,307.78 31.7,307.78 31.7,311.93 32.71,311.93 32.71,314.47 33.71,314.47 33.71,316.46 34.71,316.46 34.71,317.66 35.71,317.66 35.71,318.42 36.71,318.42 36.71,318.97 37.71,318.97 37.71,319.25 38.72,319.25 38.72,316.84 39.72,316.84 39.72,319.29 40.72,319.29 40.72,319.65 41.72,319.65 41.72,318.69 42.72,318.69 42.72,320.01 43.72,320.01 43.72,317.69 44.73,317.69 44.73,318.04 45.73,318.04 45.73,320.36 46.73,320.36 46.73,320.1 47.73,320.1 47.73,320.17 48.73,320.17 48.73,320.55 49.74,320.55 49.74,320.68 50.74,320.68 50.74,320.79 51.74,320.79 51.74,321 52.74,321 52.74,320.95 53.74,320.95 53.74,321.2 54.74,321.2 54.74,321.57 55.75,321.57 55.75,321.7 56.75,321.7 56.75,321.61 57.75,321.61 57.75,321.54 58.75,321.54 58.75,322.14 59.75,322.14 59.75,321.83 60.75,321.83 60.75,322.32 61.76,322.32 61.76,322.47 62.76,322.47 62.76,322.27 63.76,322.27 63.76,322.56 64.76,322.56 64.76,322.39 65.76,322.39 65.76,322.76 66.77,322.76 66.77,323.25 67.77,323.25 67.77,323.08 68.77,323.08 68.77,323.56 69.77,323.56 69.77,323.23 70.77,323.23 70.77,323.79 71.77,323.79 71.77,323.56 72.78,323.56 72.78,323.89 73.78,323.89 73.78,324.03 74.78,324.03 74.78,324.2 75.78,324.2 75.78,324.41 76.78,324.41 76.78,322.15 77.78,322.15 77.78,322.81 78.79,322.81 78.79,325.16 79.79,325.16 79.79,325.28 80.79,325.28 80.79,325.34 81.79,325.34 81.79,325.82 82.79,325.82 82.79,325.73 83.8,325.73 83.8,326.02 84.8,326.02 84.8,325.81 85.8,325.81 85.8,326.51 86.8,326.51 86.8,326.74 87.8,326.74 87.8,326.68 88.8,326.68 88.8,326.82 89.81,326.82 89.81,327.42 90.81,327.42 90.81,327.54 91.81,327.54 91.81,328.04 92.81,328.04 92.81,328.43 93.81,328.43 93.81,329.42 94.81,329.42 94.81,330.14 95.82,330.14 95.82,330.96 96.82,330.96 96.82,331.29 97.82,331.29 97.82,332.46 98.82,332.46 98.82,332.74 99.82,332.74 99.82,333.36 100.83,333.36 100.83,333.84 101.83,333.84 101.83,333.98 102.83,333.98 102.83,333.78 103.83,333.78 103.83,334.99 104.83,334.99 104.83,334.73 105.83,334.73 105.83,335.1 106.84,335.1 106.84,335.62 107.84,335.62 107.84,335.56 108.84,335.56 108.84,335.86 109.84,335.86 109.84,336.3 110.84,336.3 110.84,336.57 111.84,336.57 111.84,336.45 112.85,336.45 112.85,337.01 113.85,337.01 113.85,337.06 114.85,337.06 114.85,336.91 115.85,336.91 115.85,337.24 116.85,337.24 116.85,337.34 117.85,337.34 117.85,337.18 118.86,337.18 118.86,337.65 119.86,337.65 119.86,337.93 120.86,337.93 120.86,337.93 121.86,337.93 121.86,337.65 122.86,337.65 122.86,338.25 123.87,338.25 123.87,338.36 124.87,338.36 124.87,338.51 125.87,338.51 125.87,338.52 126.87,338.52 126.87,338.48 127.87,338.48 127.87,338.77 128.87,338.77 128.87,339.19 129.88,339.19 129.88,339.13 130.88,339.13 130.88,338.9 131.88,338.9 131.88,339.03 132.88,339.03 132.88,339.27 133.88,339.27 133.88,339.48 134.88,339.48 134.88,339.88 135.89,339.88 135.89,339.77 136.89,339.77 136.89,340.2 137.89,340.2 137.89,340.31 138.89,340.31 138.89,339.93 139.89,339.93 139.89,340.52 140.9,340.52 140.9,340.69 141.9,340.69 141.9,340.17 142.9,340.17 142.9,340.74 143.9,340.74 143.9,338.67 144.9,338.67 144.9,338.79 145.9,338.79 145.9,338.61 146.91,338.61 146.91,338.77 147.91,338.77 147.91,339.08 148.91,339.08 148.91,339.25 149.91,339.25 149.91,339.08 150.91,339.08 150.91,339.02 151.91,339.02 151.91,339.65 152.92,339.65 152.92,342.33 153.92,342.33 153.92,341.49 154.92,341.49 154.92,342.56 155.92,342.56 155.92,341.93 156.92,341.93 156.92,342.6 157.93,342.6 157.93,343.08 158.93,343.08 158.93,343.21 159.93,343.21 159.93,343.27 160.93,343.27 160.93,343.46 161.93,343.46 161.93,344.03 162.93,344.03 162.93,343.97 163.94,343.97 163.94,344.14 164.94,344.14 164.94,344.35 165.94,344.35 165.94,344.58 166.94,344.58 166.94,344.87 167.94,344.87 167.94,344.37 168.94,344.37 168.94,345.08 169.95,345.08 169.95,345.22 170.95,345.22 170.95,345.6 171.95,345.6 171.95,345.76 172.95,345.76 172.95,345.92 173.95,345.92 173.95,346.5 174.96,346.5 174.96,346.75 175.96,346.75 175.96,346.73 176.96,346.73 176.96,347.05 177.96,347.05 177.96,347.39 178.96,347.39 178.96,347.66 179.96,347.66 179.96,347.88 180.97,347.88 180.97,348.14 181.97,348.14 181.97,348.48 182.97,348.48 182.97,348.4 183.97,348.4 183.97,349.12 184.97,349.12 184.97,348.8 185.97,348.8 185.97,349.32 186.98,349.32 186.98,349.32 187.98,349.32 187.98,349.66 188.98,349.66 188.98,350.35 189.98,350.35 189.98,350.39 190.98,350.39 190.98,350.38 191.99,350.38 191.99,350.43 192.99,350.43 192.99,350.65 193.99,350.65 193.99,351.23 194.99,351.23 194.99,351.68 195.99,351.68 195.99,351.83 196.99,351.83 196.99,351.18 198,351.18 198,351.97 199,351.97 199,350.03 200,350.03 200,350.33 201,350.33 201,350.26 202,350.26 202,350.07 203,350.07 203,350.6 204.01,350.6 204.01,351.11 205.01,351.11 205.01,351.09 206.01,351.09 206.01,350.73 207.01,350.73 207.01,351.09 208.01,351.09 208.01,350.95 209.02,350.95 209.02,351.32 210.02,351.32 210.02,352.03 211.02,352.03 211.02,351.72 212.02,351.72 212.02,354.23 213.02,354.23 213.02,354.28 214.02,354.28 214.02,354.49 215.03,354.49 215.03,354.52 216.03,354.52 216.03,355.02 217.03,355.02 217.03,355.07 218.03,355.07 218.03,354.81 219.03,354.81 219.03,354.84 220.03,354.84 220.03,355.24 221.04,355.24 221.04,355.27 222.04,355.27 222.04,355.36 223.04,355.36 223.04,355.76 224.04,355.76 224.04,356.01 225.04,356.01 225.04,355.91 226.05,355.91 226.05,355.75 227.05,355.75 227.05,355.55 228.05,355.55 228.05,356.1 229.05,356.1 229.05,356.16 230.05,356.16 230.05,356.61 231.05,356.61 231.05,356.56 232.06,356.56 232.06,356.62 233.06,356.62 233.06,356.85 234.06,356.85 234.06,356.94 235.06,356.94 235.06,357.02 236.06,357.02 236.06,357.11 237.06,357.11 237.06,357.17 238.07,357.17 238.07,357.14 239.07,357.14 239.07,357.26 240.07,357.26 240.07,357.58 241.07,357.58 241.07,357.65 242.07,357.65 242.07,357.73 243.07,357.73 243.07,357.58 244.08,357.58 244.08,357.96 245.08,357.96 245.08,357.7 246.08,357.7 246.08,357.89 247.08,357.89 247.08,358.17 248.08,358.17 248.08,355.42 249.09,355.42 249.09,356.48 250.09,356.48 250.09,356.34 251.09,356.34 251.09,356.52 252.09,356.52 252.09,358.71 253.09,358.71 253.09,359.24 254.09,359.24 254.09,359.23 255.1,359.23 255.1,358.94 256.1,358.94 256.1,359.76 257.1,359.76 257.1,357.78 258.1,357.78 258.1,357.74 259.1,357.74 259.1,358.15 260.1,358.15 260.1,357.96 261.11,357.96 261.11,358.31 262.11,358.31 262.11,358.7 263.11,358.7 263.11,359.35 264.11,359.35 264.11,360.02 265.11,360.02 265.11,360.31 266.12,360.31 266.12,360.67 267.12,360.67 267.12,361.68 268.12,361.68 268.12,361.5 269.12,361.5 269.12,362.53 270.12,362.53 270.12,365.33 271.12,365.33 271.12,365.7 272.13,365.7 272.13,365.73 273.13,365.73 273.13,365.91 274.13,365.91 274.13,366.41 275.13,366.41 275.13,367.1 276.13,367.1 276.13,365 277.13,365 277.13,365.27 278.14,365.27 278.14,364.84 279.14,364.84 279.14,365.42 280.14,365.42 280.14,366.11 281.14,366.11 281.14,368.13 282.14,368.13 282.14,368.51 283.15,368.51 283.15,368.8 284.15,368.8 284.15,368.43 285.15,368.43 285.15,369.04 286.15,369.04 286.15,369.21 287.15,369.21 287.15,369.2 288.15,369.2 288.15,369.12 289.16,369.12 289.16,369.58 290.16,369.58 290.16,369.73 291.16,369.73 291.16,369.54 292.16,369.54 292.16,369.97 293.16,369.97 293.16,370.04 294.16,370.04 294.16,370.54 295.17,370.54 295.17,370.59 296.17,370.59 296.17,370.83 297.17,370.83 297.17,370.26 298.17,370.26 298.17,370.89 299.17,370.89 299.17,371.2 300.18,371.2 300.18,371.18 301.18,371.18 301.18,371.2 302.18,371.2 302.18,371.39 303.18,371.39 303.18,370.94 304.18,370.94 304.18,371 305.18,371 305.18,371.49 306.19,371.49 306.19,371.69 307.19,371.69 307.19,372.09 308.19,372.09 308.19,371.7 309.19,371.7 309.19,372.26 310.19,372.26 310.19,372.41 311.19,372.41 311.19,372.13 312.2,372.13 312.2,372.53 313.2,372.53 313.2,372.35 314.2,372.35 314.2,378.85 313.2,378.85 313.2,378.86 312.2,378.86 312.2,378.74 311.19,378.74 311.19,379.01 310.19,379.01 310.19,378.58 309.19,378.58 309.19,379.12 308.19,379.12 308.19,378.29 307.19,378.29 307.19,378.4 306.19,378.4 306.19,378.18 305.18,378.18 305.18,378.21 304.18,378.21 304.18,378.22 303.18,378.22 303.18,377.8 302.18,377.8 302.18,377.82 301.18,377.82 301.18,377.6 300.18,377.6 300.18,377.43 299.17,377.43 299.17,377.27 298.17,377.27 298.17,377.46 297.17,377.46 297.17,377.21 296.17,377.21 296.17,376.86 295.17,376.86 295.17,376.8 294.16,376.8 294.16,377.16 293.16,377.16 293.16,376.64 292.16,376.64 292.16,376.31 291.16,376.31 291.16,376.39 290.16,376.39 290.16,376.24 289.16,376.24 289.16,376.09 288.15,376.09 288.15,375.98 287.15,375.98 287.15,375.98 286.15,375.98 286.15,375.79 285.15,375.79 285.15,375.65 284.15,375.65 284.15,375.28 283.15,375.28 283.15,375.14 282.14,375.14 282.14,375.07 281.14,375.07 281.14,377.71 280.14,377.71 280.14,376.74 279.14,376.74 279.14,376.74 278.14,376.74 278.14,376.23 277.13,376.23 277.13,376.12 276.13,376.12 276.13,373.66 275.13,373.66 275.13,373.58 274.13,373.58 274.13,373.15 273.13,373.15 273.13,373.06 272.13,373.06 272.13,372.18 271.12,372.18 271.12,371.93 270.12,371.93 270.12,373.3 269.12,373.3 269.12,373.32 268.12,373.32 268.12,372.34 267.12,372.34 267.12,373.15 266.12,373.15 266.12,371.45 265.11,371.45 265.11,370.91 264.11,370.91 264.11,370.57 263.11,370.57 263.11,369.66 262.11,369.66 262.11,369.3 261.11,369.3 261.11,369.59 260.1,369.59 260.1,369.11 259.1,369.11 259.1,368.51 258.1,368.51 258.1,369.84 257.1,369.84 257.1,366.52 256.1,366.52 256.1,365.98 255.1,365.98 255.1,366.01 254.09,366.01 254.09,365.57 253.09,365.57 253.09,365.77 252.09,365.77 252.09,367.79 251.09,367.79 251.09,367.35 250.09,367.35 250.09,366.93 249.09,366.93 249.09,367.19 248.08,367.19 248.08,364.67 247.08,364.67 247.08,364.5 246.08,364.5 246.08,364.73 245.08,364.73 245.08,364.39 244.08,364.39 244.08,364.23 243.07,364.23 243.07,364.52 242.07,364.52 242.07,364.53 241.07,364.53 241.07,363.72 240.07,363.72 240.07,363.8 239.07,363.8 239.07,364.03 238.07,364.03 238.07,363.55 237.06,363.55 237.06,363.65 236.06,363.65 236.06,363.61 235.06,363.61 235.06,363.74 234.06,363.74 234.06,363.26 233.06,363.26 233.06,363.26 232.06,363.26 232.06,362.84 231.05,362.84 231.05,362.9 230.05,362.9 230.05,363.22 229.05,363.22 229.05,362.69 228.05,362.69 228.05,362.76 227.05,362.76 227.05,362.94 226.05,362.94 226.05,362.33 225.04,362.33 225.04,362.92 224.04,362.92 224.04,362.96 223.04,362.96 223.04,362.53 222.04,362.53 222.04,362.02 221.04,362.02 221.04,362.03 220.03,362.03 220.03,361.85 219.03,361.85 219.03,361.4 218.03,361.4 218.03,361.53 217.03,361.53 217.03,361.84 216.03,361.84 216.03,361.13 215.03,361.13 215.03,361.72 214.02,361.72 214.02,360.85 213.02,360.85 213.02,361.14 212.02,361.14 212.02,362.97 211.02,362.97 211.02,362.5 210.02,362.5 210.02,362.68 209.02,362.68 209.02,362.91 208.01,362.91 208.01,362.32 207.01,362.32 207.01,362.61 206.01,362.61 206.01,361.8 205.01,361.8 205.01,361.77 204.01,361.77 204.01,361.62 203,361.62 203,361.58 202,361.58 202,361.23 201,361.23 201,361.13 200,361.13 200,361.21 199,361.21 199,358.8 198,358.8 198,358.55 196.99,358.55 196.99,358.22 195.99,358.22 195.99,357.92 194.99,357.92 194.99,357.77 193.99,357.77 193.99,357.41 192.99,357.41 192.99,357.19 191.99,357.19 191.99,357.21 190.98,357.21 190.98,356.83 189.98,356.83 189.98,357.13 188.98,357.13 188.98,356.76 187.98,356.76 187.98,356.59 186.98,356.59 186.98,355.79 185.97,355.79 185.97,355.71 184.97,355.71 184.97,355.42 183.97,355.42 183.97,355.09 182.97,355.09 182.97,355.02 181.97,355.02 181.97,354.61 180.97,354.61 180.97,354.6 179.96,354.6 179.96,354.04 178.96,354.04 178.96,353.92 177.96,353.92 177.96,353.4 176.96,353.4 176.96,353.17 175.96,353.17 175.96,352.9 174.96,352.9 174.96,352.69 173.95,352.69 173.95,352.86 172.95,352.86 172.95,352.82 171.95,352.82 171.95,352.48 170.95,352.48 170.95,352.11 169.95,352.11 169.95,352.1 168.94,352.1 168.94,351.62 167.94,351.62 167.94,351.55 166.94,351.55 166.94,351.2 165.94,351.2 165.94,351.72 164.94,351.72 164.94,350.65 163.94,350.65 163.94,350.79 162.93,350.79 162.93,350.56 161.93,350.56 161.93,350.18 160.93,350.18 160.93,349.98 159.93,349.98 159.93,349.7 158.93,349.7 158.93,349.93 157.93,349.93 157.93,349.35 156.92,349.35 156.92,349.3 155.92,349.3 155.92,349.19 154.92,349.19 154.92,349.06 153.92,349.06 153.92,349.29 152.92,349.29 152.92,351.34 151.91,351.34 151.91,351.21 150.91,351.21 150.91,350.97 149.91,350.97 149.91,350.64 148.91,350.64 148.91,350.01 147.91,350.01 147.91,350.38 146.91,350.38 146.91,351.03 145.9,351.03 145.9,350.09 144.9,350.09 144.9,350.51 143.9,350.51 143.9,347.28 142.9,347.28 142.9,347.82 141.9,347.82 141.9,347.05 140.9,347.05 140.9,346.93 139.89,346.93 139.89,346.84 138.89,346.84 138.89,346.99 137.89,346.99 137.89,346.54 136.89,346.54 136.89,346.54 135.89,346.54 135.89,346.75 134.88,346.75 134.88,346.38 133.88,346.38 133.88,346.03 132.88,346.03 132.88,345.73 131.88,345.73 131.88,345.9 130.88,345.9 130.88,345.68 129.88,345.68 129.88,345.61 128.87,345.61 128.87,345.41 127.87,345.41 127.87,345.09 126.87,345.09 126.87,345.03 125.87,345.03 125.87,345.1 124.87,345.1 124.87,345.15 123.87,345.15 123.87,344.82 122.86,344.82 122.86,344.38 121.86,344.38 121.86,344.28 120.86,344.28 120.86,344.15 119.86,344.15 119.86,344.29 118.86,344.29 118.86,344.07 117.85,344.07 117.85,344.16 116.85,344.16 116.85,344.15 115.85,344.15 115.85,343.97 114.85,343.97 114.85,343.59 113.85,343.59 113.85,343.96 112.85,343.96 112.85,342.97 111.84,342.97 111.84,343.05 110.84,343.05 110.84,342.91 109.84,342.91 109.84,342.9 108.84,342.9 108.84,342.53 107.84,342.53 107.84,342.35 106.84,342.35 106.84,341.73 105.83,341.73 105.83,341.67 104.83,341.67 104.83,341.26 103.83,341.26 103.83,341.43 102.83,341.43 102.83,340.52 101.83,340.52 101.83,340.18 100.83,340.18 100.83,340.06 99.82,340.06 99.82,339.42 98.82,339.42 98.82,338.97 97.82,338.97 97.82,338.44 96.82,338.44 96.82,337.71 95.82,337.71 95.82,336.69 94.81,336.69 94.81,336.53 93.81,336.53 93.81,335.19 92.81,335.19 92.81,334.76 91.81,334.76 91.81,334.26 90.81,334.26 90.81,334.63 89.81,334.63 89.81,334.1 88.8,334.1 88.8,333.5 87.8,333.5 87.8,333.63 86.8,333.63 86.8,332.9 85.8,332.9 85.8,332.93 84.8,332.93 84.8,332.5 83.8,332.5 83.8,332.38 82.79,332.38 82.79,332.5 81.79,332.5 81.79,331.89 80.79,331.89 80.79,331.66 79.79,331.66 79.79,331.49 78.79,331.49 78.79,334.3 77.78,334.3 77.78,333.72 76.78,333.72 76.78,331.11 75.78,331.11 75.78,330.75 74.78,330.75 74.78,330.81 73.78,330.81 73.78,330.71 72.78,330.71 72.78,330.3 71.77,330.3 71.77,330.19 70.77,330.19 70.77,329.89 69.77,329.89 69.77,329.71 68.77,329.71 68.77,329.85 67.77,329.85 67.77,329.72 66.77,329.72 66.77,329.66 65.76,329.66 65.76,329.68 64.76,329.68 64.76,329.06 63.76,329.06 63.76,328.98 62.76,328.98 62.76,328.81 61.76,328.81 61.76,328.73 60.75,328.73 60.75,328.75 59.75,328.75 59.75,328.32 58.75,328.32 58.75,328.2 57.75,328.2 57.75,328.19 56.75,328.19 56.75,328.33 55.75,328.33 55.75,328.26 54.74,328.26 54.74,327.91 53.74,327.91 53.74,328.47 52.74,328.47 52.74,327.58 51.74,327.58 51.74,327.29 50.74,327.29 50.74,327.63 49.74,327.63 49.74,327.48 48.73,327.48 48.73,327.09 47.73,327.09 47.73,326.64 46.73,326.64 46.73,326.79 45.73,326.79 45.73,329.55 44.73,329.55 44.73,329.02 43.72,329.02 43.72,326.78 42.72,326.78 42.72,326.38 41.72,326.38 41.72,326.16 40.72,326.16 40.72,326.05 39.72,326.05 39.72,328.17 38.72,328.17 38.72,325.94 37.71,325.94 37.71,325.2 36.71,325.2 36.71,324.73 35.71,324.73 35.71,324.08 34.71,324.08 34.71,322.63 33.71,322.63 33.71,321.19 32.71,321.19 32.71,318.24 31.7,318.24 31.7,314.28 30.7,314.28 30.7,308.15 29.7,308.15"/>
<line x1="30.46" y1="289.02" x2="30.46" y2="308.48" stroke="#000" stroke-width="1.5"/>
<line x1="30.27" y1="286.92" x2="30.27" y2="289.55" stroke="#ff0000" stroke-width="1.3"/>
<line x1="30.27" y1="305.33" x2="30.27" y2="309.54" stroke="#ffff00" stroke-width="1.6"/>
<polyline fill="none" stroke="#000" stroke-width="1.15" stroke-linejoin="round" points="29.7,289.02 30.41,305.9 30.46,306.38 31.13,310.76 31.6,312.69 31.84,313.65 32.55,316.19 33.27,318.07 33.49,318.48 33.98,319.22 34.69,320.22 35.4,321.08 36.12,321.72 36.83,322.09 37.29,322.16 37.54,322.23 38.26,322.41 38.97,322.56 39.68,322.7 40.4,322.82 41.11,322.92 41.82,323.01 42.53,323.09 43.25,323.17 43.96,323.24 44.67,323.3 45.39,323.37 46.1,323.44 46.81,323.51 47.53,323.59 48.24,323.68 48.95,323.78 49.66,323.88 50.38,323.98 51.09,324.08 51.8,324.18 52.52,324.28 53.23,324.37 53.94,324.47 54.66,324.57 55.37,324.67 56.08,324.76 56.8,324.86 57.51,324.96 58.22,325.06 58.93,325.15 59.65,325.25 60.36,325.35 61.07,325.45 61.79,325.55 62.5,325.65 63.21,325.75 63.93,325.85 64.64,325.95 65.35,326.05 66.06,326.16 66.78,326.26 67.49,326.37 68.2,326.48 68.92,326.58 69.63,326.69 70.34,326.81 71.06,326.92 71.77,327.03 72.48,327.15 73.19,327.27 73.91,327.38 74.62,327.51 75.33,327.63 76.05,327.75 76.76,327.88 77.47,328.01 78.19,328.14 78.9,328.26 79.61,328.39 80.33,328.52 81.04,328.64 81.75,328.77 82.46,328.91 83.18,329.04 83.89,329.18 84.6,329.33 85.32,329.48 86.03,329.64 86.74,329.8 87.46,329.97 88.17,330.16 88.88,330.35 89.59,330.55 90.31,330.77 91.02,331 91.73,331.25 92.45,331.57 93.16,331.95 93.87,332.39 94.59,332.86 95.3,333.37 96.01,333.89 96.73,334.41 97.44,334.93 98.15,335.42 98.86,335.89 99.58,336.3 100.29,336.66 101,336.96 101.72,337.22 102.43,337.47 103.14,337.7 103.86,337.93 104.57,338.14 105.28,338.34 105.99,338.54 106.71,338.72 107.42,338.89 108.13,339.06 108.85,339.22 109.56,339.37 110.27,339.51 110.99,339.65 111.7,339.78 112.41,339.91 113.12,340.03 113.84,340.14 114.55,340.25 115.26,340.36 115.98,340.47 116.69,340.57 117.4,340.67 118.12,340.76 118.83,340.86 119.54,340.95 120.26,341.05 120.97,341.14 121.68,341.24 122.39,341.33 123.11,341.43 123.82,341.52 124.53,341.62 125.25,341.72 125.96,341.82 126.67,341.92 127.39,342.01 128.1,342.11 128.81,342.2 129.52,342.29 130.24,342.39 130.95,342.48 131.66,342.57 132.38,342.66 133.09,342.75 133.8,342.84 134.52,342.93 135.23,343.02 135.94,343.11 136.65,343.2 137.37,343.29 138.08,343.38 138.79,343.47 139.51,343.56 140.22,343.66 140.93,343.75 141.65,343.84 142.36,343.94 143.07,344.04 143.79,344.13 144.5,344.23 145.21,344.33 145.92,344.44 146.64,344.54 147.35,344.64 148.06,344.75 148.78,344.86 149.49,344.97 150.2,345.08 150.92,345.19 151.63,345.3 152.34,345.41 153.05,345.53 153.77,345.64 154.48,345.76 155.19,345.87 155.91,345.99 156.62,346.11 157.33,346.23 158.05,346.35 158.76,346.47 159.47,346.59 160.18,346.71 160.9,346.84 161.61,346.97 162.32,347.09 163.04,347.22 163.75,347.36 164.46,347.49 165.18,347.62 165.89,347.76 166.6,347.9 167.32,348.04 168.03,348.18 168.74,348.32 169.45,348.46 170.17,348.61 170.88,348.76 171.59,348.91 172.31,349.06 173.02,349.22 173.73,349.39 174.45,349.56 175.16,349.74 175.87,349.93 176.58,350.11 177.3,350.3 178.01,350.5 178.72,350.69 179.44,350.89 180.15,351.08 180.86,351.28 181.58,351.48 182.29,351.67 183,351.86 183.72,352.05 184.43,352.24 185.14,352.42 185.85,352.59 186.57,352.76 187.28,352.93 187.99,353.1 188.71,353.27 189.42,353.44 190.13,353.6 190.85,353.76 191.56,353.92 192.27,354.08 192.98,354.23 193.7,354.38 194.41,354.53 195.12,354.67 195.84,354.81 196.55,354.94 197.26,355.07 197.98,355.2 198.69,355.33 199.4,355.45 200.11,355.58 200.83,355.7 201.54,355.82 202.25,355.94 202.97,356.06 203.68,356.17 204.39,356.29 205.11,356.4 205.82,356.52 206.53,356.63 207.25,356.74 207.96,356.85 208.67,356.96 209.38,357.06 210.1,357.17 210.81,357.27 211.52,357.38 212.24,357.48 212.95,357.58 213.66,357.68 214.38,357.78 215.09,357.88 215.8,357.98 216.51,358.08 217.23,358.17 217.94,358.27 218.65,358.36 219.37,358.45 220.08,358.55 220.79,358.64 221.51,358.72 222.22,358.81 222.93,358.89 223.64,358.97 224.36,359.05 225.07,359.13 225.78,359.2 226.5,359.28 227.21,359.35 227.92,359.42 228.64,359.49 229.35,359.56 230.06,359.63 230.78,359.7 231.49,359.76 232.2,359.83 232.91,359.9 233.63,359.96 234.34,360.03 235.05,360.1 235.77,360.16 236.48,360.23 237.19,360.3 237.91,360.37 238.62,360.44 239.33,360.51 240.04,360.58 240.76,360.65 241.47,360.72 242.18,360.8 242.9,360.88 243.61,360.96 244.32,361.04 245.04,361.12 245.75,361.2 246.46,361.29 247.17,361.38 247.89,361.47 248.6,361.56 249.31,361.66 250.03,361.76 250.74,361.86 251.45,361.97 252.17,362.07 252.88,362.19 253.59,362.3 254.31,362.43 255.02,362.55 255.73,362.69 256.44,362.83 257.16,362.98 257.87,363.14 258.58,363.3 259.3,363.48 260.01,363.66 260.72,363.85 261.44,364.06 262.15,364.27 262.86,364.53 263.57,364.82 264.29,365.16 265,365.52 265.71,365.91 266.43,366.31 267.14,366.72 267.85,367.13 268.57,367.54 269.28,367.93 269.99,368.29 270.71,368.63 271.42,368.93 272.13,369.2 272.84,369.47 273.56,369.72 274.27,369.97 274.98,370.21 275.7,370.43 276.41,370.64 277.12,370.83 277.84,371 278.55,371.16 279.26,371.31 279.97,371.45 280.69,371.59 281.4,371.73 282.11,371.85 282.83,371.98 283.54,372.1 284.25,372.21 284.97,372.32 285.68,372.43 286.39,372.54 287.1,372.64 287.82,372.74 288.53,372.84 289.24,372.94 289.96,373.03 290.67,373.12 291.38,373.22 292.1,373.31 292.81,373.4 293.52,373.49 294.24,373.58 294.95,373.67 295.66,373.76 296.37,373.85 297.09,373.95 297.8,374.03 298.51,374.12 299.23,374.21 299.94,374.3 300.65,374.39 301.37,374.47 302.08,374.55 302.79,374.64 303.5,374.72 304.22,374.8 304.93,374.88 305.64,374.96 306.36,375.04 307.07,375.11 307.78,375.19 308.5,375.26 309.21,375.34 309.92,375.41 310.63,375.48 311.35,375.55 312.06,375.62 312.77,375.68 313.49,375.75 314.2,375.81"/>
<rect x="38.9" y="264.3" width="0.85" height="184.1" fill="rgba(0,0,255,0.2)"/>
<rect x="43.64" y="264.3" width="2.09" height="184.1" fill="rgba(0,0,255,0.2)"/>
<rect x="77.02" y="264.3" width="1.99" height="184.1" fill="rgba(0,0,255,0.2)"/>
<rect x="143.5" y="264.3" width="9.48" height="184.1" fill="rgba(0,0,255,0.2)"/>
<rect x="198.5" y="264.3" width="13.28" height="184.1" fill="rgba(0,0,255,0.2)"/>
<rect x="247.82" y="264.3" width="4.55" height="184.1" fill="rgba(0,0,255,0.2)"/>
<rect x="257.3" y="264.3" width="12.33" height="184.1" fill="rgba(0,0,255,0.2)"/>
<rect x="275.98" y="264.3" width="5.03" height="184.1" fill="rgba(0,0,255,0.2)"/>
</g>
<rect x="29.7" y="264.3" width="284.5" height="184.1" fill="none" stroke="#262626" stroke-width="0.45"/>
<path d="M29.7,448.4 v-2.8 M29.7,264.3 v2.8 M77.12,448.4 v-2.8 M77.12,264.3 v2.8 M124.53,448.4 v-2.8 M124.53,264.3 v2.8 M171.95,448.4 v-2.8 M171.95,264.3 v2.8 M219.37,448.4 v-2.8 M219.37,264.3 v2.8 M266.78,448.4 v-2.8 M266.78,264.3 v2.8 M314.2,448.4 v-2.8 M314.2,264.3 v2.8 M29.7,448.4 h2.8 M314.2,448.4 h-2.8 M29.7,422.1 h2.8 M314.2,422.1 h-2.8 M29.7,395.8 h2.8 M314.2,395.8 h-2.8 M29.7,369.5 h2.8 M314.2,369.5 h-2.8 M29.7,343.2 h2.8 M314.2,343.2 h-2.8 M29.7,316.9 h2.8 M314.2,316.9 h-2.8 M29.7,290.6 h2.8 M314.2,290.6 h-2.8 M29.7,264.3 h2.8 M314.2,264.3 h-2.8" stroke="#262626" stroke-width="0.5" fill="none"/>
<g font-family='"Liberation Sans", sans-serif' font-size="9" fill="#262626">
<text x="29.7" y="459.6" text-anchor="middle">0</text>
<text x="77.12" y="459.6" text-anchor="middle">50</text>
<text x="124.53" y="459.6" text-anchor="middle">100</text>
<text x="171.95" y="459.6" text-anchor="middle">150</text>
<text x="219.37" y="459.6" text-anchor="middle">200</text>
<text x="266.78" y="459.6" text-anchor="middle">250</text>
<text x="314.2" y="459.6" text-anchor="middle">300</text>
<text x="26.3" y="451.6" text-anchor="end">-30</text>
<text x="26.3" y="425.3" text-anchor="end">-25</text>
<text x="26.3" y="399" text-anchor="end">-20</text>
<text x="26.3" y="372.7" text-anchor="end">-15</text>
<text x="26.3" y="346.4" text-anchor="end">-10</text>
<text x="26.3" y="320.1" text-anchor="end">-5</text>
<text x="26.3" y="293.8" text-anchor="end">0</text>
<text x="26.3" y="267.5" text-anchor="end">5</text>
</g>
<text x="172.35" y="468" text-anchor="middle" font-family='"Liberation Serif", serif' font-size="8.8" textLength="41.6" lengthAdjust="spacingAndGlyphs" fill="#262626">Time(Sec)</text>
<text transform="translate(7.7,356.35) rotate(-90)" text-anchor="middle" font-family='"Liberation Serif", serif' font-size="9.2" fill="#3a3a3a">z (m)</text>
<rect x="35" y="320" width="7.9" height="6.6" fill="none" stroke="#000" stroke-width="0.6"/>
<line x1="41.5" y1="326.6" x2="60.53" y2="365.37" stroke="#000" stroke-width="0.6"/>
<polygon fill="#000" points="63,370.4 56.87,364.94 60.53,365.37 62.43,362.21"/>
<rect x="44.6" y="374.5" width="87.8" height="53.2" fill="#ffff00"/>
<clipPath id="cic"><rect x="44.6" y="374.5" width="87.8" height="53.2"/></clipPath>
<g clip-path="url(#cic)">
<polyline fill="none" points="45.4,380.67 46.9,380.42 48.4,380.63 49.9,380.58 51.4,380.82 52.9,380.49 54.4,380.92 55.9,380.68 57.4,380.44 58.9,381.14 60.4,380.81 61.9,380.65 63.4,380.74 64.9,380.92 66.4,380.67 67.9,380.53 69.4,380.67 70.9,380.55 72.4,380.55 73.9,381.19 75.4,380.94 76.9,381.11 78.4,380.56 79.9,380.19 81.4,380.6 82.9,380.87 84.4,380.56 85.9,380.77 87.4,380.43 88.9,380.86 90.4,380.58 91.9,380.71 93.4,380.91 94.9,380.49 96.4,380.39 97.9,380.47 99.4,380.88 100.9,380.61 102.4,381.02 103.9,380.87 105.4,381.04 106.9,380.76 108.4,381.07 109.9,380.93 111.4,380.14 112.9,381.13 114.4,380.97 115.9,380.59 117.4,380.35 118.9,380.16 120.4,380.76 121.9,380.46 123.4,380.37 124.9,380.42 126.4,380.23 127.9,380.99 129.4,380.45 130.9,380.71 132.4,380.76" stroke="#00ff00" stroke-width="2.4" stroke-dasharray="4.15 1.1 2.08 0.97 6.89 1.02 1.73 0.97 8.42 0.44 2.21 0.94 3.43 0.8 2.31 0.83 4.4 0.75 2.49 1.44 6.07 0.4 1.16 0.99 2.58 0.47 2.21 0.98 6.84 1.22 1.45 0.68 7.47 0.91 2.07 1.13 6.38 0.9 2.49 0.5 5.09 1.14 1.04 0.92 5.33 1.08 2.13 0.67" stroke-dashoffset="0.75"/>
<polyline fill="none" points="45.4,389.17 46.9,388.54 48.4,388.34 49.9,389.46 51.4,388.91 52.9,388.65 54.4,388.71 55.9,389.1 57.4,389.43 58.9,389.23 60.4,388.77 61.9,388.49 63.4,388.8 64.9,389.14 66.4,388.99 67.9,388.44 69.4,388.87 70.9,389.02 72.4,388.56 73.9,389.1 75.4,389.27 76.9,389.11 78.4,388.58 79.9,388.75 81.4,388.82 82.9,388.73 84.4,389.09 85.9,388.86 87.4,388.84 88.9,388.93 90.4,388.7 91.9,388.44 93.4,388.87 94.9,388.74 96.4,389.03 97.9,388.9 99.4,388.76 100.9,389.16 102.4,388.83 103.9,388.45 105.4,389.3 106.9,389.18 108.4,388.83 109.9,388.36 111.4,388.53 112.9,389.12 114.4,388.81 115.9,388.73 117.4,388.97 118.9,388.66 120.4,388.68 121.9,389.19 123.4,388.99 124.9,389.06 126.4,389.01 127.9,389.15 129.4,389.08 130.9,388.6 132.4,388.78" stroke="#00ff00" stroke-width="2.4" stroke-dasharray="7.12 0.51 0.85 1.44 3.04 1.34 0.98 1.32 7.51 1.18 2.12 0.64 8.2 1.4 2.12 0.6 6.69 1.29 1.98 0.7 2.56 0.48 2.42 0.41 6.47 1.34 2.5 0.88 6.89 1.49 1.97 0.47 5.07 0.81 1.42 0.44 4.6 0.65 1.75 1.27 4.18 1.16 1.2 1.37 4.38 0.76 2.06 1.32" stroke-dashoffset="17.18"/>
<polyline fill="none" points="45.4,397.53 46.9,397.42 48.4,397.69 49.9,397.72 51.4,397.24 52.9,397.58 54.4,397.54 55.9,397.62 57.4,397.21 58.9,397.07 60.4,397.36 61.9,397.75 63.4,397.13 64.9,397.72 66.4,397.44 67.9,397.48 69.4,397.49 70.9,397.33 72.4,397.36 73.9,397.62 75.4,397.88 76.9,397.49 78.4,397.56 79.9,397.18 81.4,397.39 82.9,397.74 84.4,397.76 85.9,397.35 87.4,397.42 88.9,397.3 90.4,397.18 91.9,397.58 93.4,397.3 94.9,397.87 96.4,396.78 97.9,396.89 99.4,397.04 100.9,397.42 102.4,397.36 103.9,397.17 105.4,396.46 106.9,397.46 108.4,396.92 109.9,397.81 111.4,397.44 112.9,397.18 114.4,397.32 115.9,397.87 117.4,397.3 118.9,397.06 120.4,396.64 121.9,397.35 123.4,397.17 124.9,397.74 126.4,397.44 127.9,397.72 129.4,397.27 130.9,397.15 132.4,397.68" stroke="#00ff00" stroke-width="2.4" stroke-dasharray="7.94 1.48 2.32 0.78 2.73 0.99 1.75 0.85 5.43 0.6 1.24 1.16 6.18 0.61 1.46 1.15 7.47 0.48 1.24 0.67 6.41 1.18 0.96 1.33 7.69 0.48 2.07 0.67 5.26 0.45 1.71 1.05 3.8 0.77 0.91 1.16 5.54 1.47 1.23 1.39 6.11 1.42 2.29 0.91 3.77 1.37 1.32 1.12" stroke-dashoffset="15.52"/>
<polyline fill="none" points="45.4,405.06 46.9,405.19 48.4,405.28 49.9,405.46 51.4,405.59 52.9,405.56 54.4,404.9 55.9,404.96 57.4,405.23 58.9,405.62 60.4,405.53 61.9,405.05 63.4,404.85 64.9,405.29 66.4,405.14 67.9,405.4 69.4,405.44 70.9,405.3 72.4,404.94 73.9,404.84 75.4,405.12 76.9,405.35 78.4,405.18 79.9,405.41 81.4,405.08 82.9,405.53 84.4,405.31 85.9,405.11 87.4,404.99 88.9,405.17 90.4,405.23 91.9,405.67 93.4,405.24 94.9,405.41 96.4,404.6 97.9,405.5 99.4,405.19 100.9,404.94 102.4,404.54 103.9,404.96 105.4,405.69 106.9,405.45 108.4,405.44 109.9,405.07 111.4,405.39 112.9,405.39 114.4,405.31 115.9,404.93 117.4,405.03 118.9,405.12 120.4,406.1 121.9,404.62 123.4,405.69 124.9,405.62 126.4,405.27 127.9,405.45 129.4,405.31 130.9,405.37 132.4,405.03" stroke="#00ff00" stroke-width="2.4" stroke-dasharray="3.56 0.98 0.94 0.73 5.27 1.18 1.13 0.66 7.1 0.86 1.13 0.68 3.38 1.32 1.94 1.46 5.98 0.97 1.98 0.43 3.08 0.95 2.04 0.46 7.89 1.07 1.52 0.94 4.46 0.57 1.54 0.67 6.04 0.96 1.16 0.9 7.97 1.36 2.09 1.44 7.02 0.93 1.1 1.15 6.6 0.67 2.05 1.23" stroke-dashoffset="17.39"/>
<polyline fill="none" points="45.4,413.7 46.9,413.92 48.4,413.32 49.9,413.99 51.4,413.89 52.9,414.06 54.4,413.76 55.9,414 57.4,413.68 58.9,414.13 60.4,413.94 61.9,413.27 63.4,413.31 64.9,413.97 66.4,414.1 67.9,414.19 69.4,413.66 70.9,413.87 72.4,413.72 73.9,413.61 75.4,413.74 76.9,414.18 78.4,413.68 79.9,414.34 81.4,413.42 82.9,413.71 84.4,413.97 85.9,413.97 87.4,413.85 88.9,413.32 90.4,413.73 91.9,414.24 93.4,414.01 94.9,413.97 96.4,413.94 97.9,413.79 99.4,413.8 100.9,413.64 102.4,414.22 103.9,413.95 105.4,413.93 106.9,413.86 108.4,413.74 109.9,413.38 111.4,413.81 112.9,413.61 114.4,413.65 115.9,413.87 117.4,414.2 118.9,413.51 120.4,413.81 121.9,414.29 123.4,413.44 124.9,413.97 126.4,413.68 127.9,414.03 129.4,414.28 130.9,413.79 132.4,414.11" stroke="#00ff00" stroke-width="2.4" stroke-dasharray="6.05 0.91 1.79 1.21 5.62 0.85 2.18 1.3 4.56 1.12 0.81 0.71 5.49 0.71 1.31 1.42 6.49 1.38 1.49 1.11 5.97 1.22 1.14 0.85 5.54 0.53 1.25 0.9 4.09 0.76 1.73 1.41 6.66 1.31 1.49 1.25 3.38 1.39 1.24 0.52 7.68 0.47 0.9 0.49 7.74 0.43 1.17 1.43" stroke-dashoffset="6.23"/>
<polyline fill="none" points="45.4,421.77 46.9,422.38 48.4,421.62 49.9,421.93 51.4,422.1 52.9,421.93 54.4,421.9 55.9,422.22 57.4,421.65 58.9,421.92 60.4,421.98 61.9,422.39 63.4,422.32 64.9,422.08 66.4,422.17 67.9,421.28 69.4,422 70.9,421.75 72.4,421.45 73.9,422.1 75.4,421.78 76.9,421.7 78.4,421.38 79.9,421.95 81.4,422.27 82.9,421.95 84.4,422.12 85.9,422.2 87.4,421.89 88.9,421.79 90.4,421.71 91.9,421.81 93.4,421.73 94.9,421.92 96.4,421.75 97.9,422.23 99.4,421.63 100.9,422.38 102.4,421.76 103.9,421.76 105.4,422.1 106.9,421.68 108.4,421.33 109.9,422.15 111.4,422.32 112.9,421.32 114.4,422.05 115.9,421.73 117.4,421.83 118.9,422.37 120.4,421.49 121.9,421.74 123.4,422.27 124.9,421.97 126.4,422.03 127.9,421.7 129.4,421.66 130.9,421.66 132.4,421.96" stroke="#00ff00" stroke-width="2.4" stroke-dasharray="5.49 1.35 0.91 0.54 7.12 1.35 1.38 1.02 7.6 0.75 2.13 1.12 5.45 1.18 2.19 0.67 3.23 0.62 2.48 0.95 4.98 0.8 2.23 0.88 5.68 0.51 1.35 1.01 4.31 0.75 1.11 1.11 8.46 0.72 1.9 1.36 7.01 1.3 1.67 1.06 3.11 0.93 2.18 1.22 4.15 1.29 1.39 1.3" stroke-dashoffset="18.53"/>
<line x1="45.76" y1="397.5" x2="45.76" y2="401.39" stroke="#ff0000" stroke-width="1.2"/>
<line x1="50.77" y1="397.92" x2="50.77" y2="394.47" stroke="#ff0000" stroke-width="1.2"/>
<line x1="54.95" y1="398.27" x2="54.95" y2="401.84" stroke="#ff0000" stroke-width="1.2"/>
<line x1="60.07" y1="398.7" x2="60.07" y2="402.96" stroke="#ff0000" stroke-width="1.2"/>
<line x1="67.63" y1="399.34" x2="67.63" y2="402.91" stroke="#ff0000" stroke-width="1.2"/>
<line x1="70.24" y1="399.56" x2="70.24" y2="404.25" stroke="#ff0000" stroke-width="1.2"/>
<line x1="74.13" y1="399.89" x2="74.13" y2="396.65" stroke="#ff0000" stroke-width="1.2"/>
<line x1="79.26" y1="400.32" x2="79.26" y2="403.98" stroke="#ff0000" stroke-width="1.2"/>
<line x1="82.82" y1="400.62" x2="82.82" y2="404.27" stroke="#ff0000" stroke-width="1.2"/>
<line x1="88.76" y1="401.12" x2="88.76" y2="405.15" stroke="#ff0000" stroke-width="1.2"/>
<line x1="94.75" y1="401.63" x2="94.75" y2="405.38" stroke="#ff0000" stroke-width="1.2"/>
<line x1="44.6" y1="397.65" x2="132.4" y2="405.05" stroke="#0000d0" stroke-width="1.35"/>
<line x1="44.6" y1="397.4" x2="132.4" y2="404.8" stroke="#000" stroke-width="1.0"/>
<rect x="96.1" y="374.5" width="36.3" height="53.2" fill="rgba(0,0,255,0.2)"/>
</g>
<g font-family='"Liberation Sans", sans-serif' font-size="6.9" fill="#262626">
<text x="69.5" y="435" text-anchor="middle">9.8</text>
<text x="96" y="435" text-anchor="middle">10</text>
<text x="123.2" y="435" text-anchor="middle">10.2</text>
<text x="43.5" y="381.6" text-anchor="end">-6.05</text>
<text x="43.5" y="397.8" text-anchor="end">-6.1</text>
<text x="43.5" y="413.7" text-anchor="end">-6.15</text>
<text x="43.5" y="429.7" text-anchor="end">-6.2</text>
</g>
<rect x="189.5" y="266.4" width="122" height="82.5" fill="#fff" stroke="#262626" stroke-width="0.45"/>
<g font-family='"Liberation Serif", serif' font-size="7.1" fill="#000">
<line x1="192.2" y1="271.4" x2="218.6" y2="271.4" stroke="#00ff00" stroke-width="1.5" stroke-dasharray="5.2 1.6 2.0 1.8"/>
<text x="220.5" y="273.85" textLength="35" lengthAdjust="spacingAndGlyphs">sensor 1th</text>
<line x1="192.2" y1="279.43" x2="218.6" y2="279.43" stroke="#00ff00" stroke-width="1.5" stroke-dasharray="5.2 1.6 2.0 1.8"/>
<text x="220.5" y="281.88" textLength="35" lengthAdjust="spacingAndGlyphs">sensor 2th</text>
<line x1="192.2" y1="287.46" x2="218.6" y2="287.46" stroke="#00ff00" stroke-width="1.5" stroke-dasharray="5.2 1.6 2.0 1.8"/>
<text x="220.5" y="289.91" textLength="35" lengthAdjust="spacingAndGlyphs">sensor 3th</text>
<line x1="192.2" y1="295.49" x2="218.6" y2="295.49" stroke="#00ff00" stroke-width="1.5" stroke-dasharray="5.2 1.6 2.0 1.8"/>
<text x="220.5" y="297.94" textLength="35" lengthAdjust="spacingAndGlyphs">sensor 4th</text>
<line x1="192.2" y1="303.52" x2="218.6" y2="303.52" stroke="#00ff00" stroke-width="1.5" stroke-dasharray="5.2 1.6 2.0 1.8"/>
<text x="220.5" y="305.97" textLength="35" lengthAdjust="spacingAndGlyphs">sensor 5th</text>
<line x1="192.2" y1="311.55" x2="218.6" y2="311.55" stroke="#ffff00" stroke-width="1.5" stroke-dasharray="5.6 4.7"/>
<text x="220.5" y="314" textLength="65" lengthAdjust="spacingAndGlyphs">Algorithm 1 in [26]</text>
<line x1="192.2" y1="319.58" x2="218.6" y2="319.58" stroke="#ff0000" stroke-width="1.5" stroke-dasharray="5.6 4.7"/>
<text x="220.5" y="322.03" textLength="65" lengthAdjust="spacingAndGlyphs">Algorithm 2 in [26]</text>
<line x1="192.2" y1="327.61" x2="218.6" y2="327.61" stroke="#0000ff" stroke-width="1.5" stroke-dasharray="5.2 1.6 2.0 1.8"/>
<text x="220.5" y="330.06" textLength="57" lengthAdjust="spacingAndGlyphs">Unattacked data</text>
<line x1="192.2" y1="335.64" x2="218.6" y2="335.64" stroke="#000" stroke-width="1.4"/>
<text x="220.5" y="338.09" textLength="87.6" lengthAdjust="spacingAndGlyphs">Algorithm 1 in this paper</text>
<rect x="192.2" y="340.97" width="26.4" height="5.4" fill="#ccccff"/>
<text x="220.5" y="346.12" textLength="41" lengthAdjust="spacingAndGlyphs">Attack time</text>
</g>
<text x="142.4" y="501" font-family='"Liberation Serif", serif' font-size="18.4" textLength="21.6" lengthAdjust="spacingAndGlyphs" fill="#111">(c)</text>
<text x="170.8" y="501" font-family='"Liberation Serif", serif' font-size="18.4" font-style="italic" fill="#111">z</text>
<clipPath id="cld"><rect x="393.4" y="264.3" width="284.8" height="184.1"/></clipPath>
<g clip-path="url(#cld)">
<polygon fill="#00ff00" points="393.4,325.64 394.4,325.64 394.4,325.35 395.4,325.35 395.4,324.41 396.4,324.41 396.4,322.21 397.4,322.21 397.4,330.83 398.4,330.83 398.4,330.72 399.4,330.72 399.4,335.32 400.4,335.32 400.4,335.12 401.39,335.12 401.39,334.2 402.39,334.2 402.39,334.78 403.39,334.78 403.39,330.62 404.39,330.62 404.39,335.01 405.39,335.01 405.39,336.27 406.39,336.27 406.39,330.54 407.39,330.54 407.39,336.96 408.39,336.96 408.39,336.99 409.39,336.99 409.39,336.05 410.39,336.05 410.39,336.51 411.39,336.51 411.39,332.17 412.39,332.17 412.39,335.79 413.39,335.79 413.39,328.42 414.39,328.42 414.39,336.9 415.38,336.9 415.38,336.84 416.38,336.84 416.38,336.54 417.38,336.54 417.38,336.46 418.38,336.46 418.38,335.65 419.38,335.65 419.38,330.9 420.38,330.9 420.38,333.47 421.38,333.47 421.38,336.09 422.38,336.09 422.38,335.9 423.38,335.9 423.38,335.64 424.38,335.64 424.38,337.51 425.38,337.51 425.38,335.14 426.38,335.14 426.38,337.4 427.38,337.4 427.38,335.14 428.38,335.14 428.38,335.13 429.37,335.13 429.37,337.53 430.37,337.53 430.37,335.53 431.37,335.53 431.37,334.9 432.37,334.9 432.37,333.68 433.37,333.68 433.37,336.89 434.37,336.89 434.37,334.3 435.37,334.3 435.37,330.48 436.37,330.48 436.37,328.84 437.37,328.84 437.37,336.84 438.37,336.84 438.37,336.31 439.37,336.31 439.37,336.64 440.37,336.64 440.37,332.29 441.37,332.29 441.37,334.99 442.37,334.99 442.37,333.03 443.36,333.03 443.36,330.18 444.36,330.18 444.36,334.15 445.36,334.15 445.36,330.93 446.36,330.93 446.36,334.98 447.36,334.98 447.36,336.13 448.36,336.13 448.36,336.25 449.36,336.25 449.36,336.59 450.36,336.59 450.36,333.92 451.36,333.92 451.36,335.1 452.36,335.1 452.36,336.55 453.36,336.55 453.36,334.77 454.36,334.77 454.36,334.65 455.36,334.65 455.36,335.45 456.36,335.45 456.36,336.94 457.36,336.94 457.36,337.06 458.35,337.06 458.35,337.38 459.35,337.38 459.35,336.65 460.35,336.65 460.35,336.33 461.35,336.33 461.35,336.51 462.35,336.51 462.35,336.69 463.35,336.69 463.35,334.42 464.35,334.42 464.35,336.49 465.35,336.49 465.35,337.47 466.35,337.47 466.35,337.1 467.35,337.1 467.35,334.57 468.35,334.57 468.35,337.02 469.35,337.02 469.35,335.52 470.35,335.52 470.35,329.78 471.35,329.78 471.35,335.61 472.34,335.61 472.34,336.24 473.34,336.24 473.34,329.09 474.34,329.09 474.34,328.74 475.34,328.74 475.34,336.7 476.34,336.7 476.34,332.76 477.34,332.76 477.34,330.97 478.34,330.97 478.34,334.25 479.34,334.25 479.34,334.43 480.34,334.43 480.34,337.02 481.34,337.02 481.34,334.32 482.34,334.32 482.34,337.41 483.34,337.41 483.34,337.1 484.34,337.1 484.34,333.13 485.34,333.13 485.34,336.16 486.33,336.16 486.33,334.24 487.33,334.24 487.33,336.37 488.33,336.37 488.33,336.35 489.33,336.35 489.33,337.53 490.33,337.53 490.33,331.64 491.33,331.64 491.33,337.18 492.33,337.18 492.33,335.32 493.33,335.32 493.33,336.45 494.33,336.45 494.33,336.86 495.33,336.86 495.33,337.26 496.33,337.26 496.33,336.29 497.33,336.29 497.33,334.3 498.33,334.3 498.33,337.32 499.33,337.32 499.33,334.11 500.32,334.11 500.32,336.19 501.32,336.19 501.32,337.06 502.32,337.06 502.32,334.01 503.32,334.01 503.32,330.73 504.32,330.73 504.32,333.67 505.32,333.67 505.32,335.12 506.32,335.12 506.32,335.58 507.32,335.58 507.32,335.01 508.32,335.01 508.32,331.28 509.32,331.28 509.32,335.31 510.32,335.31 510.32,337.18 511.32,337.18 511.32,335.39 512.32,335.39 512.32,336.65 513.32,336.65 513.32,335.87 514.32,335.87 514.32,331.32 515.31,331.32 515.31,337.43 516.31,337.43 516.31,333.26 517.31,333.26 517.31,336.67 518.31,336.67 518.31,337.12 519.31,337.12 519.31,337.44 520.31,337.44 520.31,335.19 521.31,335.19 521.31,336.93 522.31,336.93 522.31,336.57 523.31,336.57 523.31,337.02 524.31,337.02 524.31,329.31 525.31,329.31 525.31,336.62 526.31,336.62 526.31,334.52 527.31,334.52 527.31,337.31 528.31,337.31 528.31,336.12 529.3,336.12 529.3,336.31 530.3,336.31 530.3,337.33 531.3,337.33 531.3,333.09 532.3,333.09 532.3,337.58 533.3,337.58 533.3,337.38 534.3,337.38 534.3,330.11 535.3,330.11 535.3,336.88 536.3,336.88 536.3,333.15 537.3,333.15 537.3,335.21 538.3,335.21 538.3,336.03 539.3,336.03 539.3,333.62 540.3,333.62 540.3,334.36 541.3,334.36 541.3,334.94 542.3,334.94 542.3,335.56 543.29,335.56 543.29,330.72 544.29,330.72 544.29,336.2 545.29,336.2 545.29,336.58 546.29,336.58 546.29,335.74 547.29,335.74 547.29,332.28 548.29,332.28 548.29,337.32 549.29,337.32 549.29,334.24 550.29,334.24 550.29,329.44 551.29,329.44 551.29,336.59 552.29,336.59 552.29,337.29 553.29,337.29 553.29,333.15 554.29,333.15 554.29,334.78 555.29,334.78 555.29,328.47 556.29,328.47 556.29,336.11 557.28,336.11 557.28,336.7 558.28,336.7 558.28,336.98 559.28,336.98 559.28,336.98 560.28,336.98 560.28,334.95 561.28,334.95 561.28,335.61 562.28,335.61 562.28,330.99 563.28,330.99 563.28,334.32 564.28,334.32 564.28,336.77 565.28,336.77 565.28,331.73 566.28,331.73 566.28,330.84 567.28,330.84 567.28,334.99 568.28,334.99 568.28,334.51 569.28,334.51 569.28,337.29 570.28,337.29 570.28,330.46 571.28,330.46 571.28,332.51 572.27,332.51 572.27,334.14 573.27,334.14 573.27,330.92 574.27,330.92 574.27,334.31 575.27,334.31 575.27,333.44 576.27,333.44 576.27,334.78 577.27,334.78 577.27,337.55 578.27,337.55 578.27,333.54 579.27,333.54 579.27,336.75 580.27,336.75 580.27,333.96 581.27,333.96 581.27,333.8 582.27,333.8 582.27,330.46 583.27,330.46 583.27,336.96 584.27,336.96 584.27,336.87 585.27,336.87 585.27,336.97 586.26,336.97 586.26,334.41 587.26,334.41 587.26,334.14 588.26,334.14 588.26,333.28 589.26,333.28 589.26,336.74 590.26,336.74 590.26,335.99 591.26,335.99 591.26,334.43 592.26,334.43 592.26,334.6 593.26,334.6 593.26,335.42 594.26,335.42 594.26,332.04 595.26,332.04 595.26,337.57 596.26,337.57 596.26,331.88 597.26,331.88 597.26,329.99 598.26,329.99 598.26,337.28 599.26,337.28 599.26,336.85 600.25,336.85 600.25,336.21 601.25,336.21 601.25,336.75 602.25,336.75 602.25,331.35 603.25,331.35 603.25,337.49 604.25,337.49 604.25,335.58 605.25,335.58 605.25,333.58 606.25,333.58 606.25,336.42 607.25,336.42 607.25,336.22 608.25,336.22 608.25,336.58 609.25,336.58 609.25,336.33 610.25,336.33 610.25,332.43 611.25,332.43 611.25,336.58 612.25,336.58 612.25,333.86 613.25,333.86 613.25,336.91 614.24,336.91 614.24,336.84 615.24,336.84 615.24,336.62 616.24,336.62 616.24,334.57 617.24,334.57 617.24,336.86 618.24,336.86 618.24,334.69 619.24,334.69 619.24,335.6 620.24,335.6 620.24,335.92 621.24,335.92 621.24,331.83 622.24,331.83 622.24,336.4 623.24,336.4 623.24,334.54 624.24,334.54 624.24,331.32 625.24,331.32 625.24,337.58 626.24,337.58 626.24,333.92 627.24,333.92 627.24,336.41 628.24,336.41 628.24,335.2 629.23,335.2 629.23,335.67 630.23,335.67 630.23,337.27 631.23,337.27 631.23,337.29 632.23,337.29 632.23,337.62 633.23,337.62 633.23,334.98 634.23,334.98 634.23,336.79 635.23,336.79 635.23,335.55 636.23,335.55 636.23,336.88 637.23,336.88 637.23,335.34 638.23,335.34 638.23,331.88 639.23,331.88 639.23,335.13 640.23,335.13 640.23,334.82 641.23,334.82 641.23,329.34 642.23,329.34 642.23,334.53 643.22,334.53 643.22,335.54 644.22,335.54 644.22,336 645.22,336 645.22,337.17 646.22,337.17 646.22,334.84 647.22,334.84 647.22,336.68 648.22,336.68 648.22,336.59 649.22,336.59 649.22,336.29 650.22,336.29 650.22,332.83 651.22,332.83 651.22,335.95 652.22,335.95 652.22,335.44 653.22,335.44 653.22,329.13 654.22,329.13 654.22,335.87 655.22,335.87 655.22,334.67 656.22,334.67 656.22,335.24 657.21,335.24 657.21,337.17 658.21,337.17 658.21,330.38 659.21,330.38 659.21,334.96 660.21,334.96 660.21,337.53 661.21,337.53 661.21,337.2 662.21,337.2 662.21,336.4 663.21,336.4 663.21,336.98 664.21,336.98 664.21,337.04 665.21,337.04 665.21,330.14 666.21,330.14 666.21,335.84 667.21,335.84 667.21,336.81 668.21,336.81 668.21,328.81 669.21,328.81 669.21,335.9 670.21,335.9 670.21,336.44 671.2,336.44 671.2,333.5 672.2,333.5 672.2,333.53 673.2,333.53 673.2,337.23 674.2,337.23 674.2,334.93 675.2,334.93 675.2,336.57 676.2,336.57 676.2,336.04 677.2,336.04 677.2,336.12 678.2,336.12 678.2,378.78 677.2,378.78 677.2,375.4 676.2,375.4 676.2,376.46 675.2,376.46 675.2,381.51 674.2,381.51 674.2,376.32 673.2,376.32 673.2,376.05 672.2,376.05 672.2,375.16 671.2,375.16 671.2,377.87 670.21,377.87 670.21,376.02 669.21,376.02 669.21,375.86 668.21,375.86 668.21,376.36 667.21,376.36 667.21,378.15 666.21,378.15 666.21,378.4 665.21,378.4 665.21,376.06 664.21,376.06 664.21,377.19 663.21,377.19 663.21,377.32 662.21,377.32 662.21,377.96 661.21,377.96 661.21,378.27 660.21,378.27 660.21,379.13 659.21,379.13 659.21,381.22 658.21,381.22 658.21,375.56 657.21,375.56 657.21,376.08 656.22,376.08 656.22,375.56 655.22,375.56 655.22,376.85 654.22,376.85 654.22,378.89 653.22,378.89 653.22,376.17 652.22,376.17 652.22,377.38 651.22,377.38 651.22,377.94 650.22,377.94 650.22,375.98 649.22,375.98 649.22,381.43 648.22,381.43 648.22,375.1 647.22,375.1 647.22,376.1 646.22,376.1 646.22,383.44 645.22,383.44 645.22,378.15 644.22,378.15 644.22,375.79 643.22,375.79 643.22,377.04 642.23,377.04 642.23,379.51 641.23,379.51 641.23,375.95 640.23,375.95 640.23,377.37 639.23,377.37 639.23,375.53 638.23,375.53 638.23,376.31 637.23,376.31 637.23,382.03 636.23,382.03 636.23,376.65 635.23,376.65 635.23,375.53 634.23,375.53 634.23,382.12 633.23,382.12 633.23,376.07 632.23,376.07 632.23,380.4 631.23,380.4 631.23,378.62 630.23,378.62 630.23,376.08 629.23,376.08 629.23,379.22 628.24,379.22 628.24,380.7 627.24,380.7 627.24,375.45 626.24,375.45 626.24,375.09 625.24,375.09 625.24,377.22 624.24,377.22 624.24,375.08 623.24,375.08 623.24,376.45 622.24,376.45 622.24,379.8 621.24,379.8 621.24,382.56 620.24,382.56 620.24,380.55 619.24,380.55 619.24,375.7 618.24,375.7 618.24,375.52 617.24,375.52 617.24,377.12 616.24,377.12 616.24,379.44 615.24,379.44 615.24,377.47 614.24,377.47 614.24,376.02 613.25,376.02 613.25,377.07 612.25,377.07 612.25,379.22 611.25,379.22 611.25,384.42 610.25,384.42 610.25,375.19 609.25,375.19 609.25,375.74 608.25,375.74 608.25,375.42 607.25,375.42 607.25,377.27 606.25,377.27 606.25,377.49 605.25,377.49 605.25,379.14 604.25,379.14 604.25,381.94 603.25,381.94 603.25,379.07 602.25,379.07 602.25,377.28 601.25,377.28 601.25,376.65 600.25,376.65 600.25,375.89 599.26,375.89 599.26,376.06 598.26,376.06 598.26,378.99 597.26,378.99 597.26,375.09 596.26,375.09 596.26,379.41 595.26,379.41 595.26,379.41 594.26,379.41 594.26,376.19 593.26,376.19 593.26,376.06 592.26,376.06 592.26,378.92 591.26,378.92 591.26,375.54 590.26,375.54 590.26,375.19 589.26,375.19 589.26,379.81 588.26,379.81 588.26,375.57 587.26,375.57 587.26,379.65 586.26,379.65 586.26,375.87 585.27,375.87 585.27,375.99 584.27,375.99 584.27,376.89 583.27,376.89 583.27,379 582.27,379 582.27,378.86 581.27,378.86 581.27,377.52 580.27,377.52 580.27,375.69 579.27,375.69 579.27,380.37 578.27,380.37 578.27,376.34 577.27,376.34 577.27,378.23 576.27,378.23 576.27,377.27 575.27,377.27 575.27,381.71 574.27,381.71 574.27,376.71 573.27,376.71 573.27,376.32 572.27,376.32 572.27,376.92 571.28,376.92 571.28,380.71 570.28,380.71 570.28,379.07 569.28,379.07 569.28,380.67 568.28,380.67 568.28,375.9 567.28,375.9 567.28,375.28 566.28,375.28 566.28,376.23 565.28,376.23 565.28,376.38 564.28,376.38 564.28,377.03 563.28,377.03 563.28,379.82 562.28,379.82 562.28,375.94 561.28,375.94 561.28,378.75 560.28,378.75 560.28,377.36 559.28,377.36 559.28,379.84 558.28,379.84 558.28,375.94 557.28,375.94 557.28,377.53 556.29,377.53 556.29,378.83 555.29,378.83 555.29,377.95 554.29,377.95 554.29,377.29 553.29,377.29 553.29,375.48 552.29,375.48 552.29,376.65 551.29,376.65 551.29,378.66 550.29,378.66 550.29,384.78 549.29,384.78 549.29,376.85 548.29,376.85 548.29,384.08 547.29,384.08 547.29,378 546.29,378 546.29,378.15 545.29,378.15 545.29,376.31 544.29,376.31 544.29,376.98 543.29,376.98 543.29,379.01 542.3,379.01 542.3,375.52 541.3,375.52 541.3,375.47 540.3,375.47 540.3,380.59 539.3,380.59 539.3,375.39 538.3,375.39 538.3,378.2 537.3,378.2 537.3,377.2 536.3,377.2 536.3,375.09 535.3,375.09 535.3,380.15 534.3,380.15 534.3,378.77 533.3,378.77 533.3,377.53 532.3,377.53 532.3,378.22 531.3,378.22 531.3,376.61 530.3,376.61 530.3,379.41 529.3,379.41 529.3,375.48 528.31,375.48 528.31,375.28 527.31,375.28 527.31,375.43 526.31,375.43 526.31,378.16 525.31,378.16 525.31,377.71 524.31,377.71 524.31,376.95 523.31,376.95 523.31,380.01 522.31,380.01 522.31,380.86 521.31,380.86 521.31,382.21 520.31,382.21 520.31,376.73 519.31,376.73 519.31,376.89 518.31,376.89 518.31,375.21 517.31,375.21 517.31,378.91 516.31,378.91 516.31,375.49 515.31,375.49 515.31,378.55 514.32,378.55 514.32,378.27 513.32,378.27 513.32,375.98 512.32,375.98 512.32,377.88 511.32,377.88 511.32,377.68 510.32,377.68 510.32,380.67 509.32,380.67 509.32,377.18 508.32,377.18 508.32,376.59 507.32,376.59 507.32,375.23 506.32,375.23 506.32,375.65 505.32,375.65 505.32,378.41 504.32,378.41 504.32,377.26 503.32,377.26 503.32,383.51 502.32,383.51 502.32,375.93 501.32,375.93 501.32,376.7 500.32,376.7 500.32,377.93 499.33,377.93 499.33,376.52 498.33,376.52 498.33,375.32 497.33,375.32 497.33,380.35 496.33,380.35 496.33,382.58 495.33,382.58 495.33,378.39 494.33,378.39 494.33,376.72 493.33,376.72 493.33,375.13 492.33,375.13 492.33,383.04 491.33,383.04 491.33,379.11 490.33,379.11 490.33,376.7 489.33,376.7 489.33,377.19 488.33,377.19 488.33,379.52 487.33,379.52 487.33,375.09 486.33,375.09 486.33,379.73 485.34,379.73 485.34,380.9 484.34,380.9 484.34,382.91 483.34,382.91 483.34,376.41 482.34,376.41 482.34,378.92 481.34,378.92 481.34,377.24 480.34,377.24 480.34,375.22 479.34,375.22 479.34,376.79 478.34,376.79 478.34,377.54 477.34,377.54 477.34,377.16 476.34,377.16 476.34,375.89 475.34,375.89 475.34,382.31 474.34,382.31 474.34,375.3 473.34,375.3 473.34,378.23 472.34,378.23 472.34,375.61 471.35,375.61 471.35,376.11 470.35,376.11 470.35,375.57 469.35,375.57 469.35,376.06 468.35,376.06 468.35,376.02 467.35,376.02 467.35,379.36 466.35,379.36 466.35,379.57 465.35,379.57 465.35,377.12 464.35,377.12 464.35,375.86 463.35,375.86 463.35,385.29 462.35,385.29 462.35,380.72 461.35,380.72 461.35,379.47 460.35,379.47 460.35,380.12 459.35,380.12 459.35,376.16 458.35,376.16 458.35,376.26 457.36,376.26 457.36,376.44 456.36,376.44 456.36,376.68 455.36,376.68 455.36,375.71 454.36,375.71 454.36,375.34 453.36,375.34 453.36,375.73 452.36,375.73 452.36,380.25 451.36,380.25 451.36,377.78 450.36,377.78 450.36,375.41 449.36,375.41 449.36,377.75 448.36,377.75 448.36,376.95 447.36,376.95 447.36,376.12 446.36,376.12 446.36,380.33 445.36,380.33 445.36,384.08 444.36,384.08 444.36,376.66 443.36,376.66 443.36,376.04 442.37,376.04 442.37,375.81 441.37,375.81 441.37,378 440.37,378 440.37,380.99 439.37,380.99 439.37,376.48 438.37,376.48 438.37,377.12 437.37,377.12 437.37,380.21 436.37,380.21 436.37,379.34 435.37,379.34 435.37,377.69 434.37,377.69 434.37,375.6 433.37,375.6 433.37,377.3 432.37,377.3 432.37,377.54 431.37,377.54 431.37,375.73 430.37,375.73 430.37,375.73 429.37,375.73 429.37,376.55 428.38,376.55 428.38,377.19 427.38,377.19 427.38,378.08 426.38,378.08 426.38,377.36 425.38,377.36 425.38,376.94 424.38,376.94 424.38,375.68 423.38,375.68 423.38,379.04 422.38,379.04 422.38,380.03 421.38,380.03 421.38,378.25 420.38,378.25 420.38,377.19 419.38,377.19 419.38,375.98 418.38,375.98 418.38,379.1 417.38,379.1 417.38,375.12 416.38,375.12 416.38,377.8 415.38,377.8 415.38,375.34 414.39,375.34 414.39,381.74 413.39,381.74 413.39,378.61 412.39,378.61 412.39,375.86 411.39,375.86 411.39,376.57 410.39,376.57 410.39,374.91 409.39,374.91 409.39,377.42 408.39,377.42 408.39,379.83 407.39,379.83 407.39,382.4 406.39,382.4 406.39,377.25 405.39,377.25 405.39,377.38 404.39,377.38 404.39,381.03 403.39,381.03 403.39,378.51 402.39,378.51 402.39,381.76 401.39,381.76 401.39,374.13 400.4,374.13 400.4,372.97 399.4,372.97 399.4,374.83 398.4,374.83 398.4,373.45 397.4,373.45 397.4,374.89 396.4,374.89 396.4,370.29 395.4,370.29 395.4,371.58 394.4,371.58 394.4,373.75 393.4,373.75"/>
<line x1="402.49" y1="294.51" x2="402.49" y2="417.61" stroke="#00ff00" stroke-width="1.0" stroke-dasharray="4 1.3 1.3 1.3" stroke-dashoffset="1.05"/>
<line x1="403.03" y1="295.89" x2="403.03" y2="414.95" stroke="#00ff00" stroke-width="1.0" stroke-dasharray="4 1.3 1.3 1.3" stroke-dashoffset="2.92"/>
<line x1="403.56" y1="293.86" x2="403.56" y2="418.33" stroke="#00ff00" stroke-width="1.0" stroke-dasharray="4 1.3 1.3 1.3" stroke-dashoffset="2.65"/>
<line x1="407.24" y1="295.42" x2="407.24" y2="418.96" stroke="#00ff00" stroke-width="1.0" stroke-dasharray="4 1.3 1.3 1.3" stroke-dashoffset="3.13"/>
<line x1="408.01" y1="295.99" x2="408.01" y2="417.05" stroke="#00ff00" stroke-width="1.0" stroke-dasharray="4 1.3 1.3 1.3" stroke-dashoffset="2.36"/>
<line x1="408.77" y1="294.46" x2="408.77" y2="417.3" stroke="#00ff00" stroke-width="1.0" stroke-dasharray="4 1.3 1.3 1.3" stroke-dashoffset="1.08"/>
<line x1="409.54" y1="296.52" x2="409.54" y2="417.47" stroke="#00ff00" stroke-width="1.0" stroke-dasharray="4 1.3 1.3 1.3" stroke-dashoffset="1.84"/>
<line x1="440.66" y1="294.31" x2="440.66" y2="417.15" stroke="#00ff00" stroke-width="1.0" stroke-dasharray="4 1.3 1.3 1.3" stroke-dashoffset="2.45"/>
<line x1="441.39" y1="295.19" x2="441.39" y2="416.53" stroke="#00ff00" stroke-width="1.0" stroke-dasharray="4 1.3 1.3 1.3" stroke-dashoffset="1.07"/>
<line x1="442.13" y1="292.35" x2="442.13" y2="417.59" stroke="#00ff00" stroke-width="1.0" stroke-dasharray="4 1.3 1.3 1.3" stroke-dashoffset="2.13"/>
<line x1="442.86" y1="295.67" x2="442.86" y2="416.65" stroke="#00ff00" stroke-width="1.0" stroke-dasharray="4 1.3 1.3 1.3" stroke-dashoffset="4.52"/>
<path d="M506.99,356.35 L506.99,295.2 509.01,294.47 511.03,293.71 513.05,295.23 515.08,295.54 517.1,294.21 L517.1,356.35" fill="none" stroke="#00ff00" stroke-width="1.45" stroke-dasharray="4 1.3 1.3 1.3"/>
<path d="M506.99,356.35 L506.99,418.17 509.01,419.85 511.03,415.24 513.05,417.08 515.08,416.17 517.1,416.95 L517.1,356.35" fill="none" stroke="#00ff00" stroke-width="1.45" stroke-dasharray="4 1.3 1.3 1.3"/>
<path d="M562.05,356.35 L562.05,296.25 564.04,291.68 566.02,296.46 568.01,295.6 570,293.99 571.98,295.17 573.97,293.43 575.96,293.16 L575.96,356.35" fill="none" stroke="#00ff00" stroke-width="1.45" stroke-dasharray="4 1.3 1.3 1.3"/>
<path d="M562.05,356.35 L562.05,418.41 564.04,416.05 566.02,420.26 568.01,417.59 570,417.29 571.98,415.75 573.97,417.1 575.96,420.34 L575.96,356.35" fill="none" stroke="#00ff00" stroke-width="1.45" stroke-dasharray="4 1.3 1.3 1.3"/>
<path d="M611.41,356.35 L611.41,293.52 613.14,294.75 614.86,294.08 616.59,293.62 L616.59,356.35" fill="none" stroke="#00ff00" stroke-width="1.45" stroke-dasharray="4 1.3 1.3 1.3"/>
<path d="M611.41,356.35 L611.41,416.67 613.14,418.81 614.86,417.6 616.59,416.85 L616.59,356.35" fill="none" stroke="#00ff00" stroke-width="1.45" stroke-dasharray="4 1.3 1.3 1.3"/>
<path d="M620.91,356.35 L620.91,293.14 622.76,293.11 624.61,296.25 626.46,293.69 628.31,292.86 630.16,294.8 632.01,293.7 633.87,294.76 L633.87,356.35" fill="none" stroke="#00ff00" stroke-width="1.45" stroke-dasharray="4 1.3 1.3 1.3"/>
<path d="M620.91,356.35 L620.91,417.35 622.76,417.82 624.61,419.37 626.46,417.54 628.31,417.64 630.16,419.94 632.01,418.58 633.87,418.7 L633.87,356.35" fill="none" stroke="#00ff00" stroke-width="1.45" stroke-dasharray="4 1.3 1.3 1.3"/>
<path d="M639.61,356.35 L639.61,295.94 641.49,292.95 643.38,295.25 645.26,294.22 L645.26,356.35" fill="none" stroke="#00ff00" stroke-width="1.45" stroke-dasharray="4 1.3 1.3 1.3"/>
<path d="M639.61,356.35 L639.61,421.04 641.49,418.53 643.38,420.06 645.26,417.85 L645.26,356.35" fill="none" stroke="#00ff00" stroke-width="1.45" stroke-dasharray="4 1.3 1.3 1.3"/>
<polygon fill="#ffff00" points="393.4,344.66 394.4,344.66 394.4,344.21 395.4,344.21 395.4,343.83 396.4,343.83 396.4,344.32 397.4,344.32 397.4,346.97 398.4,346.97 398.4,348.44 399.4,348.44 399.4,349.78 400.4,349.78 400.4,350.62 401.39,350.62 401.39,351.29 402.39,351.29 402.39,348.32 403.39,348.32 403.39,351.45 404.39,351.45 404.39,351.3 405.39,351.3 405.39,351.83 406.39,351.83 406.39,351.37 407.39,351.37 407.39,348.49 408.39,348.49 408.39,348.21 409.39,348.21 409.39,351.46 410.39,351.46 410.39,351.65 411.39,351.65 411.39,351.53 412.39,351.53 412.39,351.75 413.39,351.75 413.39,351.11 414.39,351.11 414.39,351.51 415.38,351.51 415.38,351.84 416.38,351.84 416.38,352.08 417.38,352.08 417.38,351.91 418.38,351.91 418.38,351.48 419.38,351.48 419.38,351.78 420.38,351.78 420.38,351.36 421.38,351.36 421.38,351.69 422.38,351.69 422.38,352.01 423.38,352.01 423.38,351.98 424.38,351.98 424.38,351.75 425.38,351.75 425.38,351.5 426.38,351.5 426.38,352.03 427.38,352.03 427.38,351.47 428.38,351.47 428.38,351.6 429.37,351.6 429.37,352.13 430.37,352.13 430.37,351.54 431.37,351.54 431.37,352.02 432.37,352.02 432.37,351.99 433.37,351.99 433.37,351.83 434.37,351.83 434.37,351.95 435.37,351.95 435.37,351.99 436.37,351.99 436.37,352.11 437.37,352.11 437.37,351.78 438.37,351.78 438.37,351.46 439.37,351.46 439.37,352.25 440.37,352.25 440.37,347.31 441.37,347.31 441.37,349.35 442.37,349.35 442.37,351.83 443.36,351.83 443.36,352.13 444.36,352.13 444.36,352.03 445.36,352.03 445.36,351.77 446.36,351.77 446.36,352.09 447.36,352.09 447.36,351.43 448.36,351.43 448.36,351.88 449.36,351.88 449.36,351.85 450.36,351.85 450.36,351.72 451.36,351.72 451.36,352.03 452.36,352.03 452.36,351.7 453.36,351.7 453.36,352.17 454.36,352.17 454.36,351.34 455.36,351.34 455.36,351.38 456.36,351.38 456.36,352.23 457.36,352.23 457.36,352.2 458.35,352.2 458.35,351.73 459.35,351.73 459.35,351.99 460.35,351.99 460.35,351.55 461.35,351.55 461.35,351.9 462.35,351.9 462.35,352.24 463.35,352.24 463.35,351.83 464.35,351.83 464.35,351.59 465.35,351.59 465.35,351.75 466.35,351.75 466.35,351.79 467.35,351.79 467.35,351.95 468.35,351.95 468.35,351.75 469.35,351.75 469.35,351.41 470.35,351.41 470.35,352.02 471.35,352.02 471.35,352.28 472.34,352.28 472.34,352.29 473.34,352.29 473.34,350.87 474.34,350.87 474.34,351.33 475.34,351.33 475.34,351.75 476.34,351.75 476.34,351.89 477.34,351.89 477.34,352.07 478.34,352.07 478.34,351.97 479.34,351.97 479.34,351.35 480.34,351.35 480.34,351.99 481.34,351.99 481.34,352.16 482.34,352.16 482.34,352.24 483.34,352.24 483.34,351.5 484.34,351.5 484.34,352.16 485.34,352.16 485.34,352.29 486.33,352.29 486.33,351.62 487.33,351.62 487.33,351.94 488.33,351.94 488.33,351.29 489.33,351.29 489.33,352.28 490.33,352.28 490.33,352.13 491.33,352.13 491.33,351.75 492.33,351.75 492.33,351.94 493.33,351.94 493.33,351.88 494.33,351.88 494.33,352.27 495.33,352.27 495.33,351.75 496.33,351.75 496.33,352.03 497.33,352.03 497.33,350.97 498.33,350.97 498.33,351.77 499.33,351.77 499.33,351.58 500.32,351.58 500.32,351.59 501.32,351.59 501.32,352.11 502.32,352.11 502.32,352.12 503.32,352.12 503.32,352.12 504.32,352.12 504.32,351.33 505.32,351.33 505.32,352.26 506.32,352.26 506.32,352.07 507.32,352.07 507.32,348.43 508.32,348.43 508.32,349.18 509.32,349.18 509.32,347.96 510.32,347.96 510.32,348.85 511.32,348.85 511.32,348.98 512.32,348.98 512.32,348.1 513.32,348.1 513.32,349.19 514.32,349.19 514.32,349.37 515.31,349.37 515.31,349.4 516.31,349.4 516.31,348.56 517.31,348.56 517.31,351.95 518.31,351.95 518.31,352.19 519.31,352.19 519.31,352.25 520.31,352.25 520.31,352.19 521.31,352.19 521.31,351.55 522.31,351.55 522.31,351.91 523.31,351.91 523.31,351.51 524.31,351.51 524.31,352.24 525.31,352.24 525.31,352.18 526.31,352.18 526.31,350.81 527.31,350.81 527.31,351.78 528.31,351.78 528.31,352.14 529.3,352.14 529.3,352.27 530.3,352.27 530.3,352.09 531.3,352.09 531.3,352.19 532.3,352.19 532.3,352.14 533.3,352.14 533.3,352.05 534.3,352.05 534.3,351.98 535.3,351.98 535.3,350.51 536.3,350.51 536.3,351.99 537.3,351.99 537.3,352.06 538.3,352.06 538.3,352.13 539.3,352.13 539.3,351.84 540.3,351.84 540.3,351.95 541.3,351.95 541.3,352.21 542.3,352.21 542.3,351.46 543.29,351.46 543.29,351.7 544.29,351.7 544.29,352.29 545.29,352.29 545.29,351.76 546.29,351.76 546.29,352.17 547.29,352.17 547.29,351.89 548.29,351.89 548.29,351.61 549.29,351.61 549.29,351.79 550.29,351.79 550.29,351.89 551.29,351.89 551.29,352.28 552.29,352.28 552.29,351.76 553.29,351.76 553.29,352.05 554.29,352.05 554.29,352.12 555.29,352.12 555.29,352.13 556.29,352.13 556.29,352.07 557.28,352.07 557.28,352.25 558.28,352.25 558.28,351.51 559.28,351.51 559.28,351.79 560.28,351.79 560.28,352.24 561.28,352.24 561.28,352.26 562.28,352.26 562.28,349.18 563.28,349.18 563.28,348.92 564.28,348.92 564.28,347.47 565.28,347.47 565.28,348.99 566.28,348.99 566.28,349.01 567.28,349.01 567.28,348.76 568.28,348.76 568.28,349.06 569.28,349.06 569.28,348.53 570.28,348.53 570.28,348.39 571.28,348.39 571.28,349.17 572.27,349.17 572.27,349.13 573.27,349.13 573.27,347.77 574.27,347.77 574.27,348.45 575.27,348.45 575.27,351.9 576.27,351.9 576.27,352.24 577.27,352.24 577.27,351.59 578.27,351.59 578.27,351.83 579.27,351.83 579.27,352.26 580.27,352.26 580.27,351.65 581.27,351.65 581.27,351.87 582.27,351.87 582.27,352.13 583.27,352.13 583.27,352.21 584.27,352.21 584.27,351.68 585.27,351.68 585.27,351.75 586.26,351.75 586.26,351.44 587.26,351.44 587.26,352.05 588.26,352.05 588.26,351.84 589.26,351.84 589.26,351.94 590.26,351.94 590.26,352.06 591.26,352.06 591.26,352.23 592.26,352.23 592.26,351.73 593.26,351.73 593.26,351.59 594.26,351.59 594.26,351.92 595.26,351.92 595.26,351.73 596.26,351.73 596.26,352.01 597.26,352.01 597.26,351.44 598.26,351.44 598.26,351.95 599.26,351.95 599.26,351.95 600.25,351.95 600.25,352.18 601.25,352.18 601.25,351.81 602.25,351.81 602.25,351.87 603.25,351.87 603.25,352.15 604.25,352.15 604.25,351.13 605.25,351.13 605.25,352.24 606.25,352.24 606.25,351.76 607.25,351.76 607.25,351.56 608.25,351.56 608.25,352.28 609.25,352.28 609.25,352.04 610.25,352.04 610.25,352.1 611.25,352.1 611.25,348.19 612.25,348.19 612.25,348.76 613.25,348.76 613.25,349.18 614.24,349.18 614.24,348.33 615.24,348.33 615.24,348.83 616.24,348.83 616.24,352.12 617.24,352.12 617.24,351.71 618.24,351.71 618.24,351.97 619.24,351.97 619.24,351.65 620.24,351.65 620.24,351.83 621.24,351.83 621.24,349.18 622.24,349.18 622.24,349.11 623.24,349.11 623.24,349.35 624.24,349.35 624.24,348.92 625.24,348.92 625.24,349.21 626.24,349.21 626.24,349.15 627.24,349.15 627.24,348.82 628.24,348.82 628.24,349.29 629.23,349.29 629.23,347.73 630.23,347.73 630.23,347.89 631.23,347.89 631.23,349.01 632.23,349.01 632.23,349.46 633.23,349.46 633.23,351.71 634.23,351.71 634.23,352.14 635.23,352.14 635.23,351.22 636.23,351.22 636.23,351.6 637.23,351.6 637.23,352.24 638.23,352.24 638.23,351.7 639.23,351.7 639.23,351.77 640.23,351.77 640.23,349.02 641.23,349.02 641.23,349.37 642.23,349.37 642.23,349.29 643.22,349.29 643.22,348.72 644.22,348.72 644.22,348.61 645.22,348.61 645.22,351.81 646.22,351.81 646.22,351.53 647.22,351.53 647.22,352.2 648.22,352.2 648.22,351.87 649.22,351.87 649.22,352.22 650.22,352.22 650.22,351.48 651.22,351.48 651.22,352.29 652.22,352.29 652.22,352.11 653.22,352.11 653.22,352.11 654.22,352.11 654.22,351.67 655.22,351.67 655.22,351.86 656.22,351.86 656.22,352.11 657.21,352.11 657.21,352.01 658.21,352.01 658.21,351.47 659.21,351.47 659.21,351.8 660.21,351.8 660.21,352.14 661.21,352.14 661.21,352.14 662.21,352.14 662.21,351.75 663.21,351.75 663.21,351.68 664.21,351.68 664.21,352.18 665.21,352.18 665.21,351.64 666.21,351.64 666.21,352.1 667.21,352.1 667.21,352.2 668.21,352.2 668.21,352.09 669.21,352.09 669.21,352.29 670.21,352.29 670.21,351.82 671.2,351.82 671.2,352.19 672.2,352.19 672.2,352.24 673.2,352.24 673.2,352.04 674.2,352.04 674.2,351.92 675.2,351.92 675.2,351.8 676.2,351.8 676.2,351.98 677.2,351.98 677.2,352.27 678.2,352.27 678.2,360.74 677.2,360.74 677.2,360.66 676.2,360.66 676.2,360.68 675.2,360.68 675.2,360.5 674.2,360.5 674.2,360.62 673.2,360.62 673.2,361.08 672.2,361.08 672.2,360.6 671.2,360.6 671.2,360.94 670.21,360.94 670.21,360.94 669.21,360.94 669.21,360.68 668.21,360.68 668.21,360.79 667.21,360.79 667.21,360.57 666.21,360.57 666.21,360.73 665.21,360.73 665.21,360.63 664.21,360.63 664.21,361.01 663.21,361.01 663.21,361.13 662.21,361.13 662.21,361.37 661.21,361.37 661.21,361.22 660.21,361.22 660.21,360.91 659.21,360.91 659.21,360.75 658.21,360.75 658.21,360.53 657.21,360.53 657.21,360.46 656.22,360.46 656.22,361.22 655.22,361.22 655.22,360.55 654.22,360.55 654.22,360.67 653.22,360.67 653.22,361.21 652.22,361.21 652.22,361.23 651.22,361.23 651.22,360.66 650.22,360.66 650.22,361.23 649.22,361.23 649.22,360.61 648.22,360.61 648.22,361.15 647.22,361.15 647.22,360.82 646.22,360.82 646.22,360.53 645.22,360.53 645.22,363.39 644.22,363.39 644.22,364.23 643.22,364.23 643.22,364.02 642.23,364.02 642.23,363.44 641.23,363.44 641.23,364.35 640.23,364.35 640.23,360.95 639.23,360.95 639.23,360.69 638.23,360.69 638.23,360.85 637.23,360.85 637.23,360.86 636.23,360.86 636.23,360.59 635.23,360.59 635.23,360.97 634.23,360.97 634.23,360.94 633.23,360.94 633.23,364.15 632.23,364.15 632.23,363.55 631.23,363.55 631.23,363.62 630.23,363.62 630.23,363.73 629.23,363.73 629.23,363.54 628.24,363.54 628.24,363.46 627.24,363.46 627.24,364.31 626.24,364.31 626.24,363.83 625.24,363.83 625.24,365.09 624.24,365.09 624.24,363.28 623.24,363.28 623.24,364.52 622.24,364.52 622.24,363.95 621.24,363.95 621.24,361.12 620.24,361.12 620.24,360.47 619.24,360.47 619.24,360.53 618.24,360.53 618.24,361.03 617.24,361.03 617.24,360.42 616.24,360.42 616.24,363.62 615.24,363.62 615.24,364.77 614.24,364.77 614.24,364.48 613.25,364.48 613.25,364.44 612.25,364.44 612.25,364.61 611.25,364.61 611.25,361.44 610.25,361.44 610.25,360.49 609.25,360.49 609.25,361.01 608.25,361.01 608.25,361.11 607.25,361.11 607.25,361.38 606.25,361.38 606.25,361.03 605.25,361.03 605.25,360.5 604.25,360.5 604.25,360.73 603.25,360.73 603.25,360.74 602.25,360.74 602.25,360.49 601.25,360.49 601.25,360.69 600.25,360.69 600.25,360.62 599.26,360.62 599.26,361.04 598.26,361.04 598.26,361.2 597.26,361.2 597.26,360.99 596.26,360.99 596.26,360.68 595.26,360.68 595.26,360.63 594.26,360.63 594.26,360.6 593.26,360.6 593.26,360.93 592.26,360.93 592.26,360.87 591.26,360.87 591.26,360.64 590.26,360.64 590.26,360.81 589.26,360.81 589.26,360.82 588.26,360.82 588.26,360.79 587.26,360.79 587.26,360.87 586.26,360.87 586.26,360.53 585.27,360.53 585.27,360.46 584.27,360.46 584.27,360.93 583.27,360.93 583.27,361.21 582.27,361.21 582.27,360.88 581.27,360.88 581.27,361.28 580.27,361.28 580.27,360.81 579.27,360.81 579.27,360.64 578.27,360.64 578.27,361.01 577.27,361.01 577.27,360.99 576.27,360.99 576.27,360.52 575.27,360.52 575.27,363.3 574.27,363.3 574.27,363.43 573.27,363.43 573.27,363.32 572.27,363.32 572.27,363.93 571.28,363.93 571.28,364.29 570.28,364.29 570.28,363.94 569.28,363.94 569.28,363.54 568.28,363.54 568.28,364.28 567.28,364.28 567.28,364.12 566.28,364.12 566.28,363.45 565.28,363.45 565.28,364.44 564.28,364.44 564.28,363.57 563.28,363.57 563.28,363.59 562.28,363.59 562.28,360.8 561.28,360.8 561.28,360.6 560.28,360.6 560.28,360.87 559.28,360.87 559.28,360.96 558.28,360.96 558.28,360.59 557.28,360.59 557.28,360.64 556.29,360.64 556.29,361.06 555.29,361.06 555.29,360.55 554.29,360.55 554.29,360.54 553.29,360.54 553.29,360.48 552.29,360.48 552.29,361.16 551.29,361.16 551.29,360.59 550.29,360.59 550.29,360.75 549.29,360.75 549.29,361.36 548.29,361.36 548.29,361.57 547.29,361.57 547.29,360.41 546.29,360.41 546.29,360.71 545.29,360.71 545.29,360.93 544.29,360.93 544.29,361.02 543.29,361.02 543.29,360.94 542.3,360.94 542.3,360.5 541.3,360.5 541.3,361.1 540.3,361.1 540.3,360.56 539.3,360.56 539.3,360.57 538.3,360.57 538.3,360.58 537.3,360.58 537.3,360.4 536.3,360.4 536.3,360.97 535.3,360.97 535.3,360.54 534.3,360.54 534.3,360.53 533.3,360.53 533.3,360.5 532.3,360.5 532.3,360.43 531.3,360.43 531.3,360.83 530.3,360.83 530.3,360.5 529.3,360.5 529.3,360.88 528.31,360.88 528.31,360.85 527.31,360.85 527.31,360.67 526.31,360.67 526.31,361.03 525.31,361.03 525.31,360.75 524.31,360.75 524.31,360.78 523.31,360.78 523.31,360.47 522.31,360.47 522.31,360.82 521.31,360.82 521.31,360.72 520.31,360.72 520.31,360.41 519.31,360.41 519.31,360.72 518.31,360.72 518.31,361.11 517.31,361.11 517.31,364 516.31,364 516.31,363.51 515.31,363.51 515.31,363.46 514.32,363.46 514.32,363.44 513.32,363.44 513.32,363.52 512.32,363.52 512.32,363.42 511.32,363.42 511.32,364.54 510.32,364.54 510.32,363.4 509.32,363.4 509.32,363.9 508.32,363.9 508.32,363.35 507.32,363.35 507.32,360.84 506.32,360.84 506.32,360.47 505.32,360.47 505.32,361.56 504.32,361.56 504.32,360.72 503.32,360.72 503.32,361.02 502.32,361.02 502.32,361.5 501.32,361.5 501.32,361.11 500.32,361.11 500.32,360.74 499.33,360.74 499.33,361.06 498.33,361.06 498.33,360.44 497.33,360.44 497.33,360.63 496.33,360.63 496.33,360.73 495.33,360.73 495.33,361.61 494.33,361.61 494.33,360.79 493.33,360.79 493.33,361.51 492.33,361.51 492.33,360.97 491.33,360.97 491.33,360.55 490.33,360.55 490.33,360.45 489.33,360.45 489.33,360.53 488.33,360.53 488.33,361.02 487.33,361.02 487.33,360.55 486.33,360.55 486.33,360.46 485.34,360.46 485.34,360.62 484.34,360.62 484.34,360.59 483.34,360.59 483.34,360.64 482.34,360.64 482.34,360.82 481.34,360.82 481.34,360.96 480.34,360.96 480.34,360.59 479.34,360.59 479.34,360.41 478.34,360.41 478.34,360.42 477.34,360.42 477.34,360.81 476.34,360.81 476.34,361.06 475.34,361.06 475.34,360.46 474.34,360.46 474.34,360.6 473.34,360.6 473.34,360.5 472.34,360.5 472.34,361.13 471.35,361.13 471.35,360.77 470.35,360.77 470.35,360.51 469.35,360.51 469.35,360.64 468.35,360.64 468.35,360.69 467.35,360.69 467.35,360.98 466.35,360.98 466.35,360.54 465.35,360.54 465.35,360.46 464.35,360.46 464.35,360.74 463.35,360.74 463.35,360.7 462.35,360.7 462.35,361.6 461.35,361.6 461.35,360.89 460.35,360.89 460.35,360.68 459.35,360.68 459.35,360.52 458.35,360.52 458.35,360.79 457.36,360.79 457.36,360.77 456.36,360.77 456.36,361.04 455.36,361.04 455.36,360.52 454.36,360.52 454.36,360.43 453.36,360.43 453.36,360.71 452.36,360.71 452.36,360.46 451.36,360.46 451.36,360.64 450.36,360.64 450.36,360.5 449.36,360.5 449.36,361.04 448.36,361.04 448.36,361.31 447.36,361.31 447.36,360.76 446.36,360.76 446.36,360.59 445.36,360.59 445.36,361 444.36,361 444.36,361 443.36,361 443.36,360.48 442.37,360.48 442.37,363.53 441.37,363.53 441.37,363.27 440.37,363.27 440.37,361.12 439.37,361.12 439.37,361.33 438.37,361.33 438.37,360.56 437.37,360.56 437.37,360.83 436.37,360.83 436.37,360.65 435.37,360.65 435.37,360.44 434.37,360.44 434.37,360.64 433.37,360.64 433.37,360.66 432.37,360.66 432.37,361.13 431.37,361.13 431.37,360.95 430.37,360.95 430.37,360.54 429.37,360.54 429.37,361.03 428.38,361.03 428.38,360.63 427.38,360.63 427.38,360.92 426.38,360.92 426.38,360.78 425.38,360.78 425.38,360.72 424.38,360.72 424.38,360.71 423.38,360.71 423.38,360.37 422.38,360.37 422.38,360.73 421.38,360.73 421.38,360.69 420.38,360.69 420.38,360.81 419.38,360.81 419.38,361.19 418.38,361.19 418.38,360.39 417.38,360.39 417.38,360.75 416.38,360.75 416.38,360.51 415.38,360.51 415.38,360.91 414.39,360.91 414.39,360.72 413.39,360.72 413.39,360.59 412.39,360.59 412.39,360.23 411.39,360.23 411.39,360.63 410.39,360.63 410.39,360.26 409.39,360.26 409.39,364.22 408.39,364.22 408.39,364.02 407.39,364.02 407.39,360.06 406.39,360.06 406.39,360.44 405.39,360.44 405.39,360.59 404.39,360.59 404.39,360.13 403.39,360.13 403.39,364.22 402.39,364.22 402.39,360.2 401.39,360.2 401.39,359.52 400.4,359.52 400.4,358.4 399.4,358.4 399.4,356.71 398.4,356.71 398.4,355.13 397.4,355.13 397.4,353.58 396.4,353.58 396.4,352.91 395.4,352.91 395.4,352.92 394.4,352.92 394.4,353.12 393.4,353.12"/>
<line x1="394.16" y1="347.76" x2="394.16" y2="358.8" stroke="#000" stroke-width="1.5"/>
<polyline fill="none" stroke="#000" stroke-width="1.3" stroke-linejoin="round" points="393.4,359.42 393.68,348.99 394.11,348.87 394.83,348.74 395.54,348.69 396.25,348.68 396.26,348.68 396.97,349.34 397.68,350.66 398.15,351.44 398.4,351.8 399.11,352.92 399.82,354.02 400.54,354.84 400.99,355.12 401.25,355.21 401.97,355.43 402.68,355.61 403.39,355.75 404.11,355.83 404.79,355.86 404.82,355.86 405.53,355.88 406.25,355.91 406.96,355.93 407.68,355.95 408.39,355.97 409.1,355.99 409.82,356.01 410.53,356.03 411.24,356.05 411.96,356.06 412.67,356.08 413.39,356.1 414.1,356.11 414.81,356.13 415.53,356.14 416.24,356.15 416.95,356.17 417.67,356.18 418.38,356.19 419.1,356.2 419.81,356.21 420.52,356.22 421.24,356.23 421.95,356.24 422.67,356.25 423.38,356.26 424.09,356.27 424.81,356.28 425.52,356.28 426.23,356.29 426.95,356.3 427.66,356.3 428.38,356.31 429.09,356.31 429.8,356.32 430.52,356.32 431.23,356.33 431.94,356.33 432.66,356.33 433.37,356.34 434.09,356.34 434.8,356.34 435.51,356.34 436.23,356.35 436.94,356.35 437.65,356.35 438.37,356.35 439.08,356.35 439.8,356.35 440.51,356.35 441.22,356.35 441.94,356.35 442.65,356.35 443.36,356.35 444.08,356.35 444.79,356.35 445.51,356.35 446.22,356.35 446.93,356.35 447.65,356.35 448.36,356.35 449.08,356.35 449.79,356.35 450.5,356.35 451.22,356.35 451.93,356.35 452.64,356.35 453.36,356.35 454.07,356.35 454.79,356.35 455.5,356.35 456.21,356.35 456.93,356.35 457.64,356.35 458.35,356.35 459.07,356.35 459.78,356.35 460.5,356.35 461.21,356.35 461.92,356.35 462.64,356.35 463.35,356.35 464.06,356.35 464.78,356.35 465.49,356.35 466.21,356.35 466.92,356.35 467.63,356.35 468.35,356.35 469.06,356.35 469.77,356.35 470.49,356.35 471.2,356.35 471.92,356.35 472.63,356.35 473.34,356.35 474.06,356.35 474.77,356.35 475.49,356.35 476.2,356.35 476.91,356.35 477.63,356.35 478.34,356.35 479.05,356.35 479.77,356.35 480.48,356.35 481.2,356.35 481.91,356.35 482.62,356.35 483.34,356.35 484.05,356.35 484.76,356.35 485.48,356.35 486.19,356.35 486.91,356.35 487.62,356.35 488.33,356.35 489.05,356.35 489.76,356.35 490.47,356.35 491.19,356.35 491.9,356.35 492.62,356.35 493.33,356.35 494.04,356.35 494.76,356.35 495.47,356.35 496.18,356.35 496.9,356.35 497.61,356.35 498.33,356.35 499.04,356.35 499.75,356.35 500.47,356.35 501.18,356.35 501.9,356.35 502.61,356.35 503.32,356.35 504.04,356.35 504.75,356.35 505.46,356.35 506.18,356.35 506.89,356.35 507.61,356.35 508.32,356.35 509.03,356.35 509.75,356.35 510.46,356.35 511.17,356.35 511.89,356.35 512.6,356.35 513.32,356.35 514.03,356.35 514.74,356.35 515.46,356.35 516.17,356.35 516.88,356.35 517.6,356.35 518.31,356.35 519.03,356.35 519.74,356.35 520.45,356.35 521.17,356.35 521.88,356.35 522.59,356.35 523.31,356.35 524.02,356.35 524.74,356.35 525.45,356.35 526.16,356.35 526.88,356.35 527.59,356.35 528.31,356.35 529.02,356.35 529.73,356.35 530.45,356.35 531.16,356.35 531.87,356.35 532.59,356.35 533.3,356.35 534.02,356.35 534.73,356.35 535.44,356.35 536.16,356.35 536.87,356.35 537.58,356.35 538.3,356.35 539.01,356.35 539.73,356.35 540.44,356.35 541.15,356.35 541.87,356.35 542.58,356.35 543.29,356.35 544.01,356.35 544.72,356.35 545.44,356.35 546.15,356.35 546.86,356.35 547.58,356.35 548.29,356.35 549.01,356.35 549.72,356.35 550.43,356.35 551.15,356.35 551.86,356.35 552.57,356.35 553.29,356.35 554,356.35 554.72,356.35 555.43,356.35 556.14,356.35 556.86,356.35 557.57,356.35 558.28,356.35 559,356.35 559.71,356.35 560.43,356.35 561.14,356.35 561.85,356.35 562.57,356.35 563.28,356.35 563.99,356.35 564.71,356.35 565.42,356.35 566.14,356.35 566.85,356.35 567.56,356.35 568.28,356.35 568.99,356.35 569.7,356.35 570.42,356.35 571.13,356.35 571.85,356.35 572.56,356.35 573.27,356.35 573.99,356.35 574.7,356.35 575.42,356.35 576.13,356.35 576.84,356.35 577.56,356.35 578.27,356.35 578.98,356.35 579.7,356.35 580.41,356.35 581.13,356.35 581.84,356.35 582.55,356.35 583.27,356.35 583.98,356.35 584.69,356.35 585.41,356.35 586.12,356.35 586.84,356.35 587.55,356.35 588.26,356.35 588.98,356.35 589.69,356.35 590.4,356.35 591.12,356.35 591.83,356.35 592.55,356.35 593.26,356.35 593.97,356.35 594.69,356.35 595.4,356.35 596.11,356.35 596.83,356.35 597.54,356.35 598.26,356.35 598.97,356.35 599.68,356.35 600.4,356.35 601.11,356.35 601.83,356.35 602.54,356.35 603.25,356.35 603.97,356.35 604.68,356.35 605.39,356.35 606.11,356.35 606.82,356.35 607.54,356.35 608.25,356.35 608.96,356.35 609.68,356.35 610.39,356.35 611.1,356.35 611.82,356.35 612.53,356.35 613.25,356.35 613.96,356.35 614.67,356.35 615.39,356.35 616.1,356.35 616.81,356.35 617.53,356.35 618.24,356.35 618.96,356.35 619.67,356.35 620.38,356.35 621.1,356.35 621.81,356.35 622.52,356.35 623.24,356.35 623.95,356.35 624.67,356.35 625.38,356.35 626.09,356.35 626.81,356.35 627.52,356.35 628.24,356.35 628.95,356.35 629.66,356.35 630.38,356.35 631.09,356.35 631.8,356.35 632.52,356.35 633.23,356.35 633.95,356.35 634.66,356.35 635.37,356.35 636.09,356.35 636.8,356.35 637.51,356.35 638.23,356.35 638.94,356.35 639.66,356.35 640.37,356.35 641.08,356.35 641.8,356.35 642.51,356.35 643.22,356.35 643.94,356.35 644.65,356.35 645.37,356.35 646.08,356.35 646.79,356.35 647.51,356.35 648.22,356.35 648.93,356.35 649.65,356.35 650.36,356.35 651.08,356.35 651.79,356.35 652.5,356.35 653.22,356.35 653.93,356.35 654.65,356.35 655.36,356.35 656.07,356.35 656.79,356.35 657.5,356.35 658.21,356.35 658.93,356.35 659.64,356.35 660.36,356.35 661.07,356.35 661.78,356.35 662.5,356.35 663.21,356.35 663.92,356.35 664.64,356.35 665.35,356.35 666.07,356.35 666.78,356.35 667.49,356.35 668.21,356.35 668.92,356.35 669.63,356.35 670.35,356.35 671.06,356.35 671.78,356.35 672.49,356.35 673.2,356.35 673.92,356.35 674.63,356.35 675.34,356.35 676.06,356.35 676.77,356.35 677.49,356.35 678.2,356.35"/>
<rect x="402.61" y="264.3" width="0.85" height="184.1" fill="rgba(0,0,255,0.2)"/>
<rect x="407.36" y="264.3" width="2.09" height="184.1" fill="rgba(0,0,255,0.2)"/>
<rect x="440.77" y="264.3" width="1.99" height="184.1" fill="rgba(0,0,255,0.2)"/>
<rect x="507.32" y="264.3" width="9.49" height="184.1" fill="rgba(0,0,255,0.2)"/>
<rect x="562.38" y="264.3" width="13.29" height="184.1" fill="rgba(0,0,255,0.2)"/>
<rect x="611.75" y="264.3" width="4.56" height="184.1" fill="rgba(0,0,255,0.2)"/>
<rect x="621.24" y="264.3" width="12.34" height="184.1" fill="rgba(0,0,255,0.2)"/>
<rect x="639.94" y="264.3" width="5.03" height="184.1" fill="rgba(0,0,255,0.2)"/>
</g>
<rect x="393.4" y="264.3" width="284.8" height="184.1" fill="none" stroke="#262626" stroke-width="0.45"/>
<path d="M393.4,448.4 v-2.8 M393.4,264.3 v2.8 M440.87,448.4 v-2.8 M440.87,264.3 v2.8 M488.33,448.4 v-2.8 M488.33,264.3 v2.8 M535.8,448.4 v-2.8 M535.8,264.3 v2.8 M583.27,448.4 v-2.8 M583.27,264.3 v2.8 M630.73,448.4 v-2.8 M630.73,264.3 v2.8 M678.2,448.4 v-2.8 M678.2,264.3 v2.8 M393.4,448.4 h2.8 M678.2,448.4 h-2.8 M393.4,417.72 h2.8 M678.2,417.72 h-2.8 M393.4,387.03 h2.8 M678.2,387.03 h-2.8 M393.4,356.35 h2.8 M678.2,356.35 h-2.8 M393.4,325.67 h2.8 M678.2,325.67 h-2.8 M393.4,294.98 h2.8 M678.2,294.98 h-2.8 M393.4,264.3 h2.8 M678.2,264.3 h-2.8" stroke="#262626" stroke-width="0.5" fill="none"/>
<g font-family='"Liberation Sans", sans-serif' font-size="9" fill="#262626">
<text x="393.4" y="459.6" text-anchor="middle">0</text>
<text x="440.87" y="459.6" text-anchor="middle">50</text>
<text x="488.33" y="459.6" text-anchor="middle">100</text>
<text x="535.8" y="459.6" text-anchor="middle">150</text>
<text x="583.27" y="459.6" text-anchor="middle">200</text>
<text x="630.73" y="459.6" text-anchor="middle">250</text>
<text x="678.2" y="459.6" text-anchor="middle">300</text>
<text x="390" y="451.6" text-anchor="end">-15</text>
<text x="390" y="420.92" text-anchor="end">-10</text>
<text x="390" y="390.23" text-anchor="end">-5</text>
<text x="390" y="359.55" text-anchor="end">0</text>
<text x="390" y="328.87" text-anchor="end">5</text>
<text x="390" y="298.18" text-anchor="end">10</text>
<text x="390" y="267.5" text-anchor="end">15</text>
</g>
<text x="536.2" y="468" text-anchor="middle" font-family='"Liberation Serif", serif' font-size="8.8" textLength="41.6" lengthAdjust="spacingAndGlyphs" fill="#262626">Time(Sec)</text>
<text transform="translate(371.4,356.35) rotate(-90)" text-anchor="middle" font-family='"Liberation Serif", serif' font-size="10" fill="#3a3a3a"><tspan font-style="italic">θ</tspan>(°)</text>
<rect x="401.2" y="351.2" width="7.2" height="6.1" fill="none" stroke="#000" stroke-width="0.6"/>
<line x1="405.5" y1="357.3" x2="420.37" y2="378.33" stroke="#000" stroke-width="0.6"/>
<polygon fill="#000" points="423.6,382.9 416.68,378.48 420.37,378.33 421.74,374.9"/>
<rect x="417.3" y="383.4" width="71.7" height="53" fill="#ffff00"/>
<clipPath id="cid"><rect x="417.3" y="383.4" width="71.7" height="53"/></clipPath>
<g clip-path="url(#cid)">
<polyline fill="none" points="418.1,389.25 419.6,389.29 421.1,390.28 422.6,390.01 424.1,389.5 425.6,389.53 427.1,389.59 428.6,389.8 430.1,389.32 431.6,390.14 433.1,389.45 434.6,389.51 436.1,389.78 437.6,389.99 439.1,389.72 440.6,389.79 442.1,390.19 443.6,389.73 445.1,389.7 446.6,390.02 448.1,389.92 449.6,389.71 451.1,389.57 452.6,389.92 454.1,389.91 455.6,389.97 457.1,389.57 458.6,389.27 460.1,389.36 461.6,390.44 463.1,389.59 464.6,389.53 466.1,389.59 467.6,389.31 469.1,389.42 470.6,389.94 472.1,390.03 473.6,389.44 475.1,389.67 476.6,389.63 478.1,389.82 479.6,389.61 481.1,389.61 482.6,389.56 484.1,389.54 485.6,389.38 487.1,389.79 488.6,389.91 490.1,389.25" stroke="#00ff00" stroke-width="2.4" stroke-dasharray="3.43 1.07 1.96 1.08 6.73 0.53 1.81 0.95 8.38 1.06 0.9 0.8 4.8 1.45 2.05 0.98 5.36 0.41 1.9 0.89 3.83 0.43 1.4 0.79 6.95 1.36 1.49 0.62 4.58 0.62 1.88 1.07 5.1 0.62 1.39 1.37 3.04 0.71 1.87 0.68 7.93 1.11 2.25 0.8 2.77 0.51 1.36 1.09" stroke-dashoffset="11.24"/>
<polyline fill="none" points="418.1,397.04 419.6,397.7 421.1,397.93 422.6,397.63 424.1,397.69 425.6,397.83 427.1,397.18 428.6,397.59 430.1,397.21 431.6,397.49 433.1,397.44 434.6,397.3 436.1,397.02 437.6,397.09 439.1,396.87 440.6,397.09 442.1,397.17 443.6,397.7 445.1,397.56 446.6,397.53 448.1,397.11 449.6,397.14 451.1,397.31 452.6,397.67 454.1,396.9 455.6,397.09 457.1,397.5 458.6,397.3 460.1,397.69 461.6,397.52 463.1,397.18 464.6,397.21 466.1,397.2 467.6,397.29 469.1,397.68 470.6,397.31 472.1,397.26 473.6,397.71 475.1,397.48 476.6,397.93 478.1,397.56 479.6,397.24 481.1,397.69 482.6,397.33 484.1,397.55 485.6,397.53 487.1,397.86 488.6,397.84 490.1,397.45" stroke="#00ff00" stroke-width="2.4" stroke-dasharray="3.19 0.9 1.57 1.34 5.49 0.68 1.69 0.42 5.47 1.12 1.01 0.95 2.62 1 2.35 1.49 4.96 0.72 1.77 0.85 3.05 1.21 0.96 0.98 7.49 1.2 2.43 0.81 7.95 0.83 1.3 0.55 6.03 0.66 0.97 1.49 3.06 1.01 1.67 0.9 3.87 1.43 2.1 0.88 8.44 0.52 1.33 0.46" stroke-dashoffset="18.45"/>
<polyline fill="none" points="418.1,406.07 419.6,405.59 421.1,405.85 422.6,405.7 424.1,406.42 425.6,405.58 427.1,406.41 428.6,405.85 430.1,406.13 431.6,405.8 433.1,405.36 434.6,406.32 436.1,406.2 437.6,406.14 439.1,406.16 440.6,406.35 442.1,405.68 443.6,405.82 445.1,406.11 446.6,405.67 448.1,405.79 449.6,405.64 451.1,406.26 452.6,405.72 454.1,406.26 455.6,406.15 457.1,406.11 458.6,405.87 460.1,406.21 461.6,405.56 463.1,406.23 464.6,405.49 466.1,406.23 467.6,405.98 469.1,405.91 470.6,406.17 472.1,406.09 473.6,405.94 475.1,406.02 476.6,405.39 478.1,406.19 479.6,405.77 481.1,406.2 482.6,405.94 484.1,406.27 485.6,405.76 487.1,405.75 488.6,406.1 490.1,405.92" stroke="#00ff00" stroke-width="2.4" stroke-dasharray="8.15 1.28 1.71 1.41 3.86 0.73 1.33 0.61 4.53 0.86 1.01 0.78 7.13 1 0.99 1.36 7.59 1.13 1.78 0.64 4.89 1.25 1.65 1.33 3.2 1.24 1.84 1.04 7.07 1.18 2.32 0.48 3.22 1.02 1.31 0.79 6.41 0.73 2.41 1 6.93 0.6 1.9 1.26 8.13 0.61 2.2 0.61" stroke-dashoffset="9.11"/>
<polyline fill="none" points="418.1,414.49 419.6,414.62 421.1,414.27 422.6,414.61 424.1,414.24 425.6,414.73 427.1,413.73 428.6,414.6 430.1,414.59 431.6,414.43 433.1,414.01 434.6,414.34 436.1,413.96 437.6,414.66 439.1,413.85 440.6,414.41 442.1,414.12 443.6,413.75 445.1,414.38 446.6,414.91 448.1,414.76 449.6,414.2 451.1,414.4 452.6,414.5 454.1,414.78 455.6,414.41 457.1,414.86 458.6,414.37 460.1,414.51 461.6,414.41 463.1,414.38 464.6,414.48 466.1,414.38 467.6,415.06 469.1,413.88 470.6,414.96 472.1,414.72 473.6,414.54 475.1,414.83 476.6,414.82 478.1,414.22 479.6,414.03 481.1,415.24 482.6,414.74 484.1,414.6 485.6,415.26 487.1,414.39 488.6,414.29 490.1,414.79" stroke="#00ff00" stroke-width="2.4" stroke-dasharray="7.86 1.3 0.97 0.4 5.86 1.24 1.23 0.79 6.31 0.7 1.87 1.12 3.9 0.51 1.2 1.31 7.79 1.49 1.55 1.32 3.26 0.72 1.1 0.67 6.78 1.14 1.16 0.85 4.27 0.86 0.89 1.08 6.76 0.84 1.28 0.54 5.08 1.12 2.03 0.69 2.55 0.92 2.1 0.77 6.77 1.42 1.14 1.34" stroke-dashoffset="3.38"/>
<polyline fill="none" points="418.1,422.6 419.6,422.61 421.1,422.4 422.6,423.22 424.1,422.33 425.6,422.91 427.1,422.83 428.6,422.43 430.1,423.14 431.6,422.26 433.1,422.81 434.6,422.61 436.1,422.74 437.6,422.05 439.1,422.55 440.6,422.81 442.1,422.19 443.6,422.73 445.1,422.96 446.6,422.91 448.1,422.24 449.6,422.96 451.1,422.26 452.6,422.85 454.1,422.02 455.6,422.41 457.1,422.08 458.6,423.13 460.1,422.83 461.6,422.18 463.1,422.25 464.6,422.82 466.1,422.69 467.6,422.48 469.1,422.58 470.6,422.69 472.1,422.44 473.6,422.01 475.1,422.28 476.6,422.71 478.1,422.77 479.6,422.88 481.1,422.85 482.6,422.57 484.1,422.52 485.6,423.05 487.1,422.24 488.6,422.39 490.1,423.03" stroke="#00ff00" stroke-width="2.4" stroke-dasharray="5.5 0.99 1.41 0.49 4.66 1.3 0.92 0.99 6.03 0.78 1.58 1.44 6.64 1.49 1.99 1.32 2.61 1.31 2.22 0.95 7.27 1.06 1.51 1.21 6.74 0.56 1.74 1.25 7.44 0.97 1.3 0.62 3.69 1.48 1.02 0.95 4.82 0.7 0.94 1.33 6.73 1.46 1.24 0.76 2.68 1.48 1.42 0.63" stroke-dashoffset="10.91"/>
<polyline fill="none" points="418.1,430.05 419.6,429.67 421.1,429.8 422.6,430.14 424.1,429.82 425.6,429.58 427.1,430.48 428.6,429.85 430.1,429.94 431.6,430.69 433.1,429.75 434.6,430.25 436.1,430.34 437.6,430.08 439.1,429.96 440.6,429.95 442.1,430.12 443.6,429.83 445.1,430.46 446.6,430.63 448.1,429.37 449.6,430.3 451.1,430.06 452.6,430.12 454.1,430.2 455.6,430.05 457.1,430.18 458.6,429.8 460.1,430.34 461.6,430.4 463.1,430.26 464.6,430.46 466.1,429.92 467.6,430.35 469.1,430.47 470.6,429.93 472.1,430.16 473.6,429.97 475.1,429.93 476.6,430.67 478.1,430.12 479.6,429.92 481.1,430.1 482.6,430.18 484.1,431.01 485.6,430.5 487.1,429.98 488.6,430.21 490.1,430.17" stroke="#00ff00" stroke-width="2.4" stroke-dasharray="6.15 1.36 2.05 0.86 2.81 1.03 1.21 0.62 2.85 0.41 1.41 0.72 3.18 0.8 2.18 1.22 8.16 1.22 1.96 1.04 4.37 0.54 2.25 1.46 4.29 1.03 2.4 1.2 7.67 1.31 1.63 1.39 4.12 0.49 2.02 0.79 4.34 0.91 0.83 1.08 2.88 0.68 1.92 0.63 3.14 0.69 2.26 1.2" stroke-dashoffset="10.63"/>
<line x1="418.57" y1="406.37" x2="418.57" y2="409.06" stroke="#ff0000" stroke-width="1.2"/>
<line x1="425.78" y1="406.76" x2="425.78" y2="410.09" stroke="#ff0000" stroke-width="1.2"/>
<line x1="432.83" y1="407.14" x2="432.83" y2="410.56" stroke="#ff0000" stroke-width="1.2"/>
<line x1="437.42" y1="407.39" x2="437.42" y2="404.29" stroke="#ff0000" stroke-width="1.2"/>
<line x1="442.14" y1="407.65" x2="442.14" y2="402.88" stroke="#ff0000" stroke-width="1.2"/>
<line x1="449.21" y1="408.04" x2="449.21" y2="410.78" stroke="#ff0000" stroke-width="1.2"/>
<line x1="452.65" y1="408.22" x2="452.65" y2="411.86" stroke="#ff0000" stroke-width="1.2"/>
<line x1="457.81" y1="408.5" x2="457.81" y2="412.45" stroke="#ff0000" stroke-width="1.2"/>
<line x1="465.45" y1="408.92" x2="465.45" y2="405.56" stroke="#ff0000" stroke-width="1.2"/>
<line x1="417.3" y1="406.55" x2="489" y2="410.45" stroke="#0000d0" stroke-width="1.35"/>
<line x1="417.3" y1="406.3" x2="489" y2="410.2" stroke="#000" stroke-width="1.0"/>
<rect x="466.1" y="383.4" width="22.9" height="53" fill="rgba(0,0,255,0.2)"/>
</g>
<g font-family='"Liberation Sans", sans-serif' font-size="6.9" fill="#262626">
<text x="420.1" y="444" text-anchor="middle">9.7</text>
<text x="435.7" y="444" text-anchor="middle">9.8</text>
<text x="450.5" y="444" text-anchor="middle">9.9</text>
<text x="466.1" y="444" text-anchor="middle">10</text>
<text x="480.8" y="444" text-anchor="middle">10.1</text>
<text x="416.2" y="399.8" text-anchor="end">0.15</text>
<text x="416.2" y="416.1" text-anchor="end">0.1</text>
<text x="416.2" y="432" text-anchor="end">0.05</text>
</g>
<rect x="554.4" y="265.2" width="122" height="82.5" fill="#fff" stroke="#262626" stroke-width="0.45"/>
<g font-family='"Liberation Serif", serif' font-size="7.1" fill="#000">
<line x1="557.1" y1="270.2" x2="583.5" y2="270.2" stroke="#00ff00" stroke-width="1.5" stroke-dasharray="5.2 1.6 2.0 1.8"/>
<text x="585.4" y="272.65" textLength="35" lengthAdjust="spacingAndGlyphs">sensor 1th</text>
<line x1="557.1" y1="278.23" x2="583.5" y2="278.23" stroke="#00ff00" stroke-width="1.5" stroke-dasharray="5.2 1.6 2.0 1.8"/>
<text x="585.4" y="280.68" textLength="35" lengthAdjust="spacingAndGlyphs">sensor 2th</text>
<line x1="557.1" y1="286.26" x2="583.5" y2="286.26" stroke="#00ff00" stroke-width="1.5" stroke-dasharray="5.2 1.6 2.0 1.8"/>
<text x="585.4" y="288.71" textLength="35" lengthAdjust="spacingAndGlyphs">sensor 3th</text>
<line x1="557.1" y1="294.29" x2="583.5" y2="294.29" stroke="#00ff00" stroke-width="1.5" stroke-dasharray="5.2 1.6 2.0 1.8"/>
<text x="585.4" y="296.74" textLength="35" lengthAdjust="spacingAndGlyphs">sensor 4th</text>
<line x1="557.1" y1="302.32" x2="583.5" y2="302.32" stroke="#00ff00" stroke-width="1.5" stroke-dasharray="5.2 1.6 2.0 1.8"/>
<text x="585.4" y="304.77" textLength="35" lengthAdjust="spacingAndGlyphs">sensor 5th</text>
<line x1="557.1" y1="310.35" x2="583.5" y2="310.35" stroke="#ffff00" stroke-width="1.5" stroke-dasharray="5.6 4.7"/>
<text x="585.4" y="312.8" textLength="65" lengthAdjust="spacingAndGlyphs">Algorithm 1 in [26]</text>
<line x1="557.1" y1="318.38" x2="583.5" y2="318.38" stroke="#ff0000" stroke-width="1.5" stroke-dasharray="5.6 4.7"/>
<text x="585.4" y="320.83" textLength="65" lengthAdjust="spacingAndGlyphs">Algorithm 2 in [26]</text>
<line x1="557.1" y1="326.41" x2="583.5" y2="326.41" stroke="#0000ff" stroke-width="1.5" stroke-dasharray="5.2 1.6 2.0 1.8"/>
<text x="585.4" y="328.86" textLength="57" lengthAdjust="spacingAndGlyphs">Unattacked data</text>
<line x1="557.1" y1="334.44" x2="583.5" y2="334.44" stroke="#000" stroke-width="1.4"/>
<text x="585.4" y="336.89" textLength="87.6" lengthAdjust="spacingAndGlyphs">Algorithm 1 in this paper</text>
<rect x="557.1" y="339.77" width="26.4" height="5.4" fill="#ccccff"/>
<text x="585.4" y="344.92" textLength="41" lengthAdjust="spacingAndGlyphs">Attack time</text>
</g>
<text x="505.1" y="501" font-family='"Liberation Serif", serif' font-size="18.4" textLength="21.6" lengthAdjust="spacingAndGlyphs" fill="#111">(d)</text>
<text x="535" y="501" font-family='"Liberation Serif", serif' font-size="18.4" font-style="italic" fill="#111">θ</text>
<clipPath id="cle"><rect x="211.8" y="526.4" width="284.4" height="183.9"/></clipPath>
<g clip-path="url(#cle)">
<polygon fill="#00ff00" points="211.8,578.01 212.8,578.01 212.8,574.69 213.8,574.69 213.8,584.03 214.8,584.03 214.8,584.7 215.81,584.7 215.81,584.28 216.81,584.28 216.81,582.35 217.81,582.35 217.81,580.7 218.81,580.7 218.81,581.78 219.81,581.78 219.81,582.83 220.81,582.83 220.81,579.07 221.81,579.07 221.81,582.5 222.82,582.5 222.82,582.98 223.82,582.98 223.82,583.82 224.82,583.82 224.82,583.79 225.82,583.79 225.82,583.5 226.82,583.5 226.82,580.83 227.82,580.83 227.82,577.74 228.82,577.74 228.82,580.16 229.83,580.16 229.83,582.74 230.83,582.74 230.83,582.13 231.83,582.13 231.83,580.51 232.83,580.51 232.83,575.19 233.83,575.19 233.83,580.02 234.83,580.02 234.83,582.67 235.83,582.67 235.83,574.1 236.84,574.1 236.84,576.89 237.84,576.89 237.84,584.32 238.84,584.32 238.84,579.41 239.84,579.41 239.84,583.56 240.84,583.56 240.84,575.58 241.84,575.58 241.84,582.88 242.84,582.88 242.84,582.98 243.85,582.98 243.85,580.82 244.85,580.82 244.85,582.77 245.85,582.77 245.85,584.15 246.85,584.15 246.85,581.77 247.85,581.77 247.85,581.33 248.85,581.33 248.85,576.87 249.85,576.87 249.85,584.04 250.85,584.04 250.85,583.73 251.86,583.73 251.86,579.82 252.86,579.82 252.86,581.52 253.86,581.52 253.86,585.21 254.86,585.21 254.86,578.97 255.86,578.97 255.86,584.26 256.86,584.26 256.86,581.59 257.86,581.59 257.86,581.32 258.87,581.32 258.87,584.02 259.87,584.02 259.87,584.43 260.87,584.43 260.87,584.2 261.87,584.2 261.87,584.59 262.87,584.59 262.87,586.15 263.87,586.15 263.87,584.3 264.87,584.3 264.87,584.28 265.88,584.28 265.88,585.27 266.88,585.27 266.88,585.78 267.88,585.78 267.88,579.99 268.88,579.99 268.88,581.6 269.88,581.6 269.88,588.53 270.88,588.53 270.88,588.11 271.88,588.11 271.88,589.68 272.89,589.68 272.89,589.88 273.89,589.88 273.89,587.66 274.89,587.66 274.89,584.85 275.89,584.85 275.89,589.06 276.89,589.06 276.89,586.38 277.89,586.38 277.89,587.67 278.89,587.67 278.89,588.83 279.9,588.83 279.9,588.67 280.9,588.67 280.9,586.09 281.9,586.09 281.9,592.74 282.9,592.74 282.9,587.83 283.9,587.83 283.9,591 284.9,591 284.9,590.94 285.9,590.94 285.9,592.33 286.91,592.33 286.91,589.45 287.91,589.45 287.91,594.28 288.91,594.28 288.91,591.35 289.91,591.35 289.91,593.8 290.91,593.8 290.91,592.96 291.91,592.96 291.91,592.86 292.91,592.86 292.91,591.82 293.92,591.82 293.92,592.73 294.92,592.73 294.92,591.19 295.92,591.19 295.92,592.68 296.92,592.68 296.92,590.22 297.92,590.22 297.92,590.66 298.92,590.66 298.92,592.75 299.92,592.75 299.92,589.47 300.93,589.47 300.93,593.84 301.93,593.84 301.93,589.28 302.93,589.28 302.93,589.47 303.93,589.47 303.93,593.89 304.93,593.89 304.93,593.71 305.93,593.71 305.93,591.52 306.93,591.52 306.93,592.17 307.94,592.17 307.94,587.54 308.94,587.54 308.94,586.87 309.94,586.87 309.94,594.16 310.94,594.16 310.94,593.51 311.94,593.51 311.94,594.28 312.94,594.28 312.94,592.13 313.94,592.13 313.94,589.63 314.95,589.63 314.95,594 315.95,594 315.95,591.87 316.95,591.87 316.95,590.58 317.95,590.58 317.95,593.22 318.95,593.22 318.95,587.65 319.95,587.65 319.95,583.32 320.95,583.32 320.95,592.99 321.95,592.99 321.95,591.35 322.96,591.35 322.96,592.82 323.96,592.82 323.96,588.57 324.96,588.57 324.96,589.93 325.96,589.93 325.96,586.89 326.96,586.89 326.96,588.91 327.96,588.91 327.96,591.44 328.96,591.44 328.96,593.12 329.97,593.12 329.97,592.01 330.97,592.01 330.97,593.13 331.97,593.13 331.97,592.4 332.97,592.4 332.97,592.05 333.97,592.05 333.97,590.96 334.97,590.96 334.97,582.12 335.97,582.12 335.97,585.55 336.98,585.55 336.98,592.05 337.98,592.05 337.98,590.31 338.98,590.31 338.98,584.61 339.98,584.61 339.98,591.28 340.98,591.28 340.98,588.72 341.98,588.72 341.98,588.54 342.98,588.54 342.98,588.21 343.99,588.21 343.99,589.48 344.99,589.48 344.99,590.24 345.99,590.24 345.99,588.89 346.99,588.89 346.99,587.69 347.99,587.69 347.99,587.24 348.99,587.24 348.99,590.01 349.99,590.01 349.99,588.61 351,588.61 351,585.08 352,585.08 352,585.73 353,585.73 353,586.45 354,586.45 354,588.14 355,588.14 355,585.88 356,585.88 356,586.21 357,586.21 357,588.42 358.01,588.42 358.01,586.88 359.01,586.88 359.01,584.68 360.01,584.68 360.01,586.82 361.01,586.82 361.01,583.81 362.01,583.81 362.01,584.37 363.01,584.37 363.01,585.59 364.01,585.59 364.01,582.09 365.02,582.09 365.02,584.77 366.02,584.77 366.02,585.44 367.02,585.44 367.02,581.77 368.02,581.77 368.02,582.03 369.02,582.03 369.02,582.54 370.02,582.54 370.02,584.02 371.02,584.02 371.02,580.24 372.03,580.24 372.03,581.5 373.03,581.5 373.03,582.19 374.03,582.19 374.03,582.96 375.03,582.96 375.03,584.86 376.03,584.86 376.03,584.61 377.03,584.61 377.03,581.26 378.03,581.26 378.03,579.88 379.04,579.88 379.04,579.06 380.04,579.06 380.04,579.52 381.04,579.52 381.04,584.33 382.04,584.33 382.04,582.96 383.04,582.96 383.04,583.03 384.04,583.03 384.04,582.39 385.04,582.39 385.04,579.23 386.05,579.23 386.05,581.51 387.05,581.51 387.05,581.99 388.05,581.99 388.05,582.59 389.05,582.59 389.05,582.63 390.05,582.63 390.05,582.12 391.05,582.12 391.05,582.13 392.05,582.13 392.05,579.39 393.05,579.39 393.05,581.8 394.06,581.8 394.06,583.84 395.06,583.84 395.06,582.48 396.06,582.48 396.06,583.7 397.06,583.7 397.06,584.68 398.06,584.68 398.06,580.94 399.06,580.94 399.06,583.69 400.06,583.69 400.06,583.23 401.07,583.23 401.07,580.36 402.07,580.36 402.07,584.78 403.07,584.78 403.07,583.3 404.07,583.3 404.07,583.17 405.07,583.17 405.07,580.21 406.07,580.21 406.07,582.41 407.07,582.41 407.07,582.68 408.08,582.68 408.08,578.35 409.08,578.35 409.08,584.33 410.08,584.33 410.08,584.18 411.08,584.18 411.08,579.93 412.08,579.93 412.08,580.72 413.08,580.72 413.08,584.53 414.08,584.53 414.08,580.8 415.09,580.8 415.09,584.04 416.09,584.04 416.09,580.16 417.09,580.16 417.09,583.49 418.09,583.49 418.09,578.88 419.09,578.88 419.09,584.8 420.09,584.8 420.09,582.77 421.09,582.77 421.09,583.52 422.1,583.52 422.1,584.89 423.1,584.89 423.1,585.8 424.1,585.8 424.1,585.54 425.1,585.54 425.1,576.63 426.1,576.63 426.1,580.61 427.1,580.61 427.1,577.19 428.1,577.19 428.1,585.84 429.11,585.84 429.11,586.38 430.11,586.38 430.11,582.57 431.11,582.57 431.11,586.17 432.11,586.17 432.11,586.03 433.11,586.03 433.11,579.82 434.11,579.82 434.11,581.5 435.11,581.5 435.11,584.53 436.12,584.53 436.12,585.21 437.12,585.21 437.12,586.45 438.12,586.45 438.12,583.1 439.12,583.1 439.12,584.63 440.12,584.63 440.12,580.54 441.12,580.54 441.12,587.05 442.12,587.05 442.12,585.92 443.13,585.92 443.13,584.33 444.13,584.33 444.13,588.77 445.13,588.77 445.13,586.93 446.13,586.93 446.13,584.01 447.13,584.01 447.13,587.21 448.13,587.21 448.13,588.51 449.13,588.51 449.13,591.23 450.14,591.23 450.14,589.15 451.14,589.15 451.14,588.78 452.14,588.78 452.14,589.88 453.14,589.88 453.14,586.65 454.14,586.65 454.14,592.18 455.14,592.18 455.14,591.34 456.14,591.34 456.14,584.1 457.15,584.1 457.15,590.9 458.15,590.9 458.15,592.19 459.15,592.19 459.15,589.93 460.15,589.93 460.15,586.87 461.15,586.87 461.15,586.6 462.15,586.6 462.15,591.89 463.15,591.89 463.15,589.66 464.15,589.66 464.15,593.54 465.16,593.54 465.16,587.25 466.16,587.25 466.16,591.42 467.16,591.42 467.16,591.78 468.16,591.78 468.16,589.93 469.16,589.93 469.16,593.72 470.16,593.72 470.16,592.85 471.16,592.85 471.16,591.96 472.17,591.96 472.17,584.24 473.17,584.24 473.17,593.82 474.17,593.82 474.17,591.15 475.17,591.15 475.17,593.06 476.17,593.06 476.17,590.3 477.17,590.3 477.17,590.91 478.17,590.91 478.17,587.94 479.18,587.94 479.18,589.51 480.18,589.51 480.18,592.69 481.18,592.69 481.18,591.24 482.18,591.24 482.18,593.35 483.18,593.35 483.18,592.95 484.18,592.95 484.18,593.76 485.18,593.76 485.18,593.1 486.19,593.1 486.19,588.95 487.19,588.95 487.19,592.81 488.19,592.81 488.19,593.17 489.19,593.17 489.19,589.66 490.19,589.66 490.19,589.48 491.19,589.48 491.19,589.8 492.19,589.8 492.19,588.33 493.2,588.33 493.2,589.38 494.2,589.38 494.2,592.81 495.2,592.81 495.2,585.85 496.2,585.85 496.2,633.09 495.2,633.09 495.2,635.23 494.2,635.23 494.2,631.91 493.2,631.91 493.2,634.29 492.19,634.29 492.19,632.47 491.19,632.47 491.19,635.84 490.19,635.84 490.19,635.07 489.19,635.07 489.19,634.39 488.19,634.39 488.19,633.19 487.19,633.19 487.19,637.12 486.19,637.12 486.19,633.1 485.18,633.1 485.18,632.47 484.18,632.47 484.18,639.19 483.18,639.19 483.18,635.73 482.18,635.73 482.18,634.57 481.18,634.57 481.18,633.06 480.18,633.06 480.18,635.08 479.18,635.08 479.18,637.83 478.17,637.83 478.17,634.11 477.17,634.11 477.17,632.88 476.17,632.88 476.17,633.47 475.17,633.47 475.17,633.55 474.17,633.55 474.17,634.31 473.17,634.31 473.17,636.07 472.17,636.07 472.17,632.83 471.16,632.83 471.16,639.03 470.16,639.03 470.16,632.55 469.16,632.55 469.16,632.66 468.16,632.66 468.16,633.06 467.16,633.06 467.16,632.97 466.16,632.97 466.16,632.99 465.16,632.99 465.16,632.98 464.15,632.98 464.15,636.86 463.15,636.86 463.15,640.63 462.15,640.63 462.15,635.05 461.15,635.05 461.15,637.33 460.15,637.33 460.15,638.9 459.15,638.9 459.15,639.15 458.15,639.15 458.15,638.28 457.15,638.28 457.15,633.35 456.14,633.35 456.14,643.19 455.14,643.19 455.14,632.32 454.14,632.32 454.14,632.2 453.14,632.2 453.14,633.02 452.14,633.02 452.14,637.84 451.14,637.84 451.14,631.45 450.14,631.45 450.14,636.16 449.13,636.16 449.13,632.41 448.13,632.41 448.13,630.12 447.13,630.12 447.13,637.7 446.13,637.7 446.13,633.2 445.13,633.2 445.13,635.11 444.13,635.11 444.13,631.19 443.13,631.19 443.13,629.29 442.12,629.29 442.12,629.79 441.12,629.79 441.12,629.45 440.12,629.45 440.12,629.4 439.12,629.4 439.12,629.53 438.12,629.53 438.12,628.71 437.12,628.71 437.12,629.28 436.12,629.28 436.12,627.89 435.11,627.89 435.11,626.88 434.11,626.88 434.11,631.85 433.11,631.85 433.11,627.51 432.11,627.51 432.11,625.91 431.11,625.91 431.11,627.25 430.11,627.25 430.11,627.34 429.11,627.34 429.11,629.34 428.1,629.34 428.1,629.91 427.1,629.91 427.1,627.11 426.1,627.11 426.1,630.02 425.1,630.02 425.1,629.53 424.1,629.53 424.1,626.23 423.1,626.23 423.1,627.58 422.1,627.58 422.1,625.71 421.09,625.71 421.09,625.12 420.09,625.12 420.09,626.44 419.09,626.44 419.09,624.45 418.09,624.45 418.09,629.54 417.09,629.54 417.09,624.92 416.09,624.92 416.09,624.04 415.09,624.04 415.09,624.96 414.08,624.96 414.08,625.52 413.08,625.52 413.08,627.87 412.08,627.87 412.08,624.78 411.08,624.78 411.08,629.45 410.08,629.45 410.08,623.91 409.08,623.91 409.08,627.54 408.08,627.54 408.08,624.46 407.07,624.46 407.07,626.06 406.07,626.06 406.07,625.31 405.07,625.31 405.07,625.24 404.07,625.24 404.07,623.75 403.07,623.75 403.07,625.89 402.07,625.89 402.07,625.45 401.07,625.45 401.07,625.32 400.06,625.32 400.06,623.52 399.06,623.52 399.06,627.51 398.06,627.51 398.06,626.11 397.06,626.11 397.06,626.19 396.06,626.19 396.06,625.56 395.06,625.56 395.06,625.36 394.06,625.36 394.06,625.61 393.05,625.61 393.05,625.74 392.05,625.74 392.05,627.38 391.05,627.38 391.05,625.41 390.05,625.41 390.05,627.99 389.05,627.99 389.05,625.29 388.05,625.29 388.05,624.31 387.05,624.31 387.05,623.89 386.05,623.89 386.05,630.47 385.04,630.47 385.04,626.2 384.04,626.2 384.04,628.5 383.04,628.5 383.04,625.57 382.04,625.57 382.04,627.21 381.04,627.21 381.04,625.89 380.04,625.89 380.04,627.02 379.04,627.02 379.04,624.89 378.03,624.89 378.03,628.16 377.03,628.16 377.03,624.51 376.03,624.51 376.03,625.12 375.03,625.12 375.03,628.71 374.03,628.71 374.03,624.41 373.03,624.41 373.03,624.27 372.03,624.27 372.03,628.33 371.02,628.33 371.02,628.89 370.02,628.89 370.02,626.17 369.02,626.17 369.02,626.05 368.02,626.05 368.02,626.08 367.02,626.08 367.02,626.66 366.02,626.66 366.02,625.72 365.02,625.72 365.02,625.98 364.01,625.98 364.01,626.36 363.01,626.36 363.01,628.06 362.01,628.06 362.01,629.21 361.01,629.21 361.01,626.84 360.01,626.84 360.01,628.87 359.01,628.87 359.01,627.56 358.01,627.56 358.01,627.21 357,627.21 357,628.89 356,628.89 356,629.38 355,629.38 355,628.73 354,628.73 354,630.71 353,630.71 353,628.13 352,628.13 352,629.91 351,629.91 351,633.76 349.99,633.76 349.99,637.86 348.99,637.86 348.99,631.35 347.99,631.35 347.99,629.55 346.99,629.55 346.99,630.51 345.99,630.51 345.99,638.97 344.99,638.97 344.99,630.09 343.99,630.09 343.99,631.46 342.98,631.46 342.98,631.63 341.98,631.63 341.98,630.84 340.98,630.84 340.98,633.81 339.98,633.81 339.98,634.7 338.98,634.7 338.98,635.56 337.98,635.56 337.98,633.25 336.98,633.25 336.98,631.2 335.97,631.2 335.97,637.64 334.97,637.64 334.97,633.11 333.97,633.11 333.97,632.42 332.97,632.42 332.97,635.09 331.97,635.09 331.97,632.87 330.97,632.87 330.97,634.9 329.97,634.9 329.97,635.13 328.96,635.13 328.96,633.39 327.96,633.39 327.96,633.07 326.96,633.07 326.96,642.02 325.96,642.02 325.96,634.32 324.96,634.32 324.96,635.93 323.96,635.93 323.96,633.37 322.96,633.37 322.96,638.04 321.95,638.04 321.95,633.15 320.95,633.15 320.95,639.83 319.95,639.83 319.95,634.66 318.95,634.66 318.95,633.79 317.95,633.79 317.95,636.71 316.95,636.71 316.95,639.76 315.95,639.76 315.95,633.3 314.95,633.3 314.95,635.06 313.94,635.06 313.94,637.31 312.94,637.31 312.94,634.03 311.94,634.03 311.94,634.95 310.94,634.95 310.94,640.39 309.94,640.39 309.94,636.47 308.94,636.47 308.94,634.21 307.94,634.21 307.94,634.97 306.93,634.97 306.93,637.7 305.93,637.7 305.93,634.04 304.93,634.04 304.93,635.99 303.93,635.99 303.93,634.58 302.93,634.58 302.93,636.05 301.93,636.05 301.93,633.46 300.93,633.46 300.93,635.27 299.92,635.27 299.92,634.26 298.92,634.26 298.92,637.84 297.92,637.84 297.92,635.08 296.92,635.08 296.92,634.37 295.92,634.37 295.92,635.68 294.92,635.68 294.92,633.39 293.92,633.39 293.92,633.29 292.91,633.29 292.91,635.29 291.91,635.29 291.91,635.52 290.91,635.52 290.91,636.57 289.91,636.57 289.91,633.71 288.91,633.71 288.91,635.52 287.91,635.52 287.91,634.21 286.91,634.21 286.91,635.31 285.9,635.31 285.9,634.55 284.9,634.55 284.9,638.72 283.9,638.72 283.9,632.62 282.9,632.62 282.9,637.67 281.9,637.67 281.9,636.4 280.9,636.4 280.9,633.17 279.9,633.17 279.9,635.08 278.89,635.08 278.89,633.84 277.89,633.84 277.89,632.83 276.89,632.83 276.89,633.4 275.89,633.4 275.89,635.74 274.89,635.74 274.89,630.19 273.89,630.19 273.89,634.01 272.89,634.01 272.89,630.92 271.88,630.92 271.88,632.86 270.88,632.86 270.88,632.51 269.88,632.51 269.88,629.68 268.88,629.68 268.88,630.29 267.88,630.29 267.88,629.24 266.88,629.24 266.88,628.45 265.88,628.45 265.88,631.65 264.87,631.65 264.87,630.22 263.87,630.22 263.87,630.42 262.87,630.42 262.87,627.13 261.87,627.13 261.87,627.41 260.87,627.41 260.87,628.2 259.87,628.2 259.87,630.13 258.87,630.13 258.87,625.66 257.86,625.66 257.86,625.45 256.86,625.45 256.86,626.77 255.86,626.77 255.86,629.02 254.86,629.02 254.86,628.71 253.86,628.71 253.86,626.91 252.86,626.91 252.86,630.16 251.86,630.16 251.86,624.72 250.85,624.72 250.85,624.12 249.85,624.12 249.85,623.94 248.85,623.94 248.85,632.45 247.85,632.45 247.85,624.62 246.85,624.62 246.85,625.02 245.85,625.02 245.85,624.33 244.85,624.33 244.85,625.15 243.85,625.15 243.85,626.17 242.84,626.17 242.84,630.27 241.84,630.27 241.84,624.24 240.84,624.24 240.84,624.78 239.84,624.78 239.84,623.35 238.84,623.35 238.84,628.24 237.84,628.24 237.84,626.83 236.84,626.83 236.84,624.99 235.83,624.99 235.83,627.4 234.83,627.4 234.83,628.54 233.83,628.54 233.83,623.87 232.83,623.87 232.83,627.74 231.83,627.74 231.83,623.98 230.83,623.98 230.83,625.8 229.83,625.8 229.83,624.22 228.82,624.22 228.82,624.21 227.82,624.21 227.82,623.43 226.82,623.43 226.82,623.54 225.82,623.54 225.82,626.62 224.82,626.62 224.82,623.05 223.82,623.05 223.82,627.62 222.82,627.62 222.82,624.98 221.81,624.98 221.81,625.35 220.81,625.35 220.81,624.2 219.81,624.2 219.81,623.72 218.81,623.72 218.81,631.35 217.81,631.35 217.81,627.72 216.81,627.72 216.81,626.82 215.81,626.82 215.81,632.02 214.8,632.02 214.8,636.51 213.8,636.51 213.8,633.13 212.8,633.13 212.8,636.74 211.8,636.74"/>
<line x1="220.88" y1="539.62" x2="220.88" y2="664.88" stroke="#00ff00" stroke-width="1.0" stroke-dasharray="4 1.3 1.3 1.3" stroke-dashoffset="4.59"/>
<line x1="221.41" y1="543.15" x2="221.41" y2="664.91" stroke="#00ff00" stroke-width="1.0" stroke-dasharray="4 1.3 1.3 1.3" stroke-dashoffset="4.1"/>
<line x1="221.94" y1="540.55" x2="221.94" y2="664.67" stroke="#00ff00" stroke-width="1.0" stroke-dasharray="4 1.3 1.3 1.3" stroke-dashoffset="1.22"/>
<line x1="225.62" y1="544.6" x2="225.62" y2="667" stroke="#00ff00" stroke-width="1.0" stroke-dasharray="4 1.3 1.3 1.3" stroke-dashoffset="1.4"/>
<line x1="226.39" y1="542.05" x2="226.39" y2="665.88" stroke="#00ff00" stroke-width="1.0" stroke-dasharray="4 1.3 1.3 1.3" stroke-dashoffset="1.59"/>
<line x1="227.15" y1="541.13" x2="227.15" y2="664.49" stroke="#00ff00" stroke-width="1.0" stroke-dasharray="4 1.3 1.3 1.3" stroke-dashoffset="2.87"/>
<line x1="227.92" y1="543.04" x2="227.92" y2="665.62" stroke="#00ff00" stroke-width="1.0" stroke-dasharray="4 1.3 1.3 1.3" stroke-dashoffset="0.19"/>
<line x1="258.99" y1="543.73" x2="258.99" y2="669.07" stroke="#00ff00" stroke-width="1.0" stroke-dasharray="4 1.3 1.3 1.3" stroke-dashoffset="2.49"/>
<line x1="259.72" y1="543.54" x2="259.72" y2="667.32" stroke="#00ff00" stroke-width="1.0" stroke-dasharray="4 1.3 1.3 1.3" stroke-dashoffset="5.07"/>
<line x1="260.46" y1="543.08" x2="260.46" y2="667.88" stroke="#00ff00" stroke-width="1.0" stroke-dasharray="4 1.3 1.3 1.3" stroke-dashoffset="3.88"/>
<line x1="261.19" y1="543.81" x2="261.19" y2="669.3" stroke="#00ff00" stroke-width="1.0" stroke-dasharray="4 1.3 1.3 1.3" stroke-dashoffset="5.33"/>
<path d="M325.23,613.16 L325.23,550.79 327.25,551.53 329.27,551.01 331.29,552.67 333.31,552.99 335.32,550.93 L335.32,611.97" fill="none" stroke="#00ff00" stroke-width="1.45" stroke-dasharray="4 1.3 1.3 1.3"/>
<path d="M325.23,613.16 L325.23,678.01 327.25,673.08 329.27,675.3 331.29,671.58 333.31,674.75 335.32,673.64 L335.32,611.97" fill="none" stroke="#00ff00" stroke-width="1.45" stroke-dasharray="4 1.3 1.3 1.3"/>
<path d="M380.21,604.23 L380.21,544.81 382.2,544.91 384.18,542.53 386.16,542.04 388.15,544.74 390.13,542.08 392.12,543.66 394.1,544.1 L394.1,603.99" fill="none" stroke="#00ff00" stroke-width="1.45" stroke-dasharray="4 1.3 1.3 1.3"/>
<path d="M380.21,604.23 L380.21,665.5 382.2,664.06 384.18,665.89 386.16,666.24 388.15,665.15 390.13,666.38 392.12,664.63 394.1,666.29 L394.1,603.99" fill="none" stroke="#00ff00" stroke-width="1.45" stroke-dasharray="4 1.3 1.3 1.3"/>
<path d="M429.51,605.93 L429.51,545.03 431.23,547.75 432.95,546.17 434.67,547.9 L434.67,606.72" fill="none" stroke="#00ff00" stroke-width="1.45" stroke-dasharray="4 1.3 1.3 1.3"/>
<path d="M429.51,605.93 L429.51,665.42 431.23,668.72 432.95,667.85 434.67,668.02 L434.67,606.72" fill="none" stroke="#00ff00" stroke-width="1.45" stroke-dasharray="4 1.3 1.3 1.3"/>
<path d="M438.99,607.67 L438.99,547.02 440.84,547.66 442.69,546.56 444.53,546.53 446.38,547.51 448.23,548.74 450.08,550.27 451.93,549.93 L451.93,611.14" fill="none" stroke="#00ff00" stroke-width="1.45" stroke-dasharray="4 1.3 1.3 1.3"/>
<path d="M438.99,607.67 L438.99,668.44 440.84,667.24 442.69,669.67 444.53,671.67 446.38,672.23 448.23,671.95 450.08,672.3 451.93,670.48 L451.93,611.14" fill="none" stroke="#00ff00" stroke-width="1.45" stroke-dasharray="4 1.3 1.3 1.3"/>
<path d="M457.66,612.54 L457.66,550.81 459.54,550.64 461.42,552.65 463.3,553.73 L463.3,613.14" fill="none" stroke="#00ff00" stroke-width="1.45" stroke-dasharray="4 1.3 1.3 1.3"/>
<path d="M457.66,612.54 L457.66,670.4 459.54,671.19 461.42,673.44 463.3,673.17 L463.3,613.14" fill="none" stroke="#00ff00" stroke-width="1.45" stroke-dasharray="4 1.3 1.3 1.3"/>
<polygon fill="#ffff00" points="211.8,605.18 212.8,605.18 212.8,604.64 213.8,604.64 213.8,603.6 214.8,603.6 214.8,604.02 215.81,604.02 215.81,601.49 216.81,601.49 216.81,599.61 217.81,599.61 217.81,599.79 218.81,599.79 218.81,599.89 219.81,599.89 219.81,599.86 220.81,599.86 220.81,596.78 221.81,596.78 221.81,599.7 222.82,599.7 222.82,599.44 223.82,599.44 223.82,599.95 224.82,599.95 224.82,599.91 225.82,599.91 225.82,597.12 226.82,597.12 226.82,596.94 227.82,596.94 227.82,599.31 228.82,599.31 228.82,599.82 229.83,599.82 229.83,599.88 230.83,599.88 230.83,599.4 231.83,599.4 231.83,599.93 232.83,599.93 232.83,599.63 233.83,599.63 233.83,599.99 234.83,599.99 234.83,600.03 235.83,600.03 235.83,599.89 236.84,599.89 236.84,599.38 237.84,599.38 237.84,599.47 238.84,599.47 238.84,599.3 239.84,599.3 239.84,600.11 240.84,600.11 240.84,599.62 241.84,599.62 241.84,599.73 242.84,599.73 242.84,600.02 243.85,600.02 243.85,599.68 244.85,599.68 244.85,600.54 245.85,600.54 245.85,600.29 246.85,600.29 246.85,600.59 247.85,600.59 247.85,600.43 248.85,600.43 248.85,600.49 249.85,600.49 249.85,600.65 250.85,600.65 250.85,600.77 251.86,600.77 251.86,601.02 252.86,601.02 252.86,600.94 253.86,600.94 253.86,600.89 254.86,600.89 254.86,601.41 255.86,601.41 255.86,601.23 256.86,601.23 256.86,601.68 257.86,601.68 257.86,601.31 258.87,601.31 258.87,598.53 259.87,598.53 259.87,599.02 260.87,599.02 260.87,602.26 261.87,602.26 261.87,602.64 262.87,602.64 262.87,602.33 263.87,602.33 263.87,602.2 264.87,602.2 264.87,602.2 265.88,602.2 265.88,603.21 266.88,603.21 266.88,603.29 267.88,603.29 267.88,604.07 268.88,604.07 268.88,603.8 269.88,603.8 269.88,604.15 270.88,604.15 270.88,604.83 271.88,604.83 271.88,604.68 272.89,604.68 272.89,605.6 273.89,605.6 273.89,606.1 274.89,606.1 274.89,605.89 275.89,605.89 275.89,606.53 276.89,606.53 276.89,606.57 277.89,606.57 277.89,607.08 278.89,607.08 278.89,607.4 279.9,607.4 279.9,607.63 280.9,607.63 280.9,608.14 281.9,608.14 281.9,608.36 282.9,608.36 282.9,608.83 283.9,608.83 283.9,609.46 284.9,609.46 284.9,609.48 285.9,609.48 285.9,609.29 286.91,609.29 286.91,609.32 287.91,609.32 287.91,609.99 288.91,609.99 288.91,610.12 289.91,610.12 289.91,609.65 290.91,609.65 290.91,608.87 291.91,608.87 291.91,609.85 292.91,609.85 292.91,609.75 293.92,609.75 293.92,609.91 294.92,609.91 294.92,610.18 295.92,610.18 295.92,610.21 296.92,610.21 296.92,609.7 297.92,609.7 297.92,609.43 298.92,609.43 298.92,610.25 299.92,610.25 299.92,610.18 300.93,610.18 300.93,610.34 301.93,610.34 301.93,609.68 302.93,609.68 302.93,610.09 303.93,610.09 303.93,609.92 304.93,609.92 304.93,610.26 305.93,610.26 305.93,609.85 306.93,609.85 306.93,610.06 307.94,610.06 307.94,610.2 308.94,610.2 308.94,609.95 309.94,609.95 309.94,610.14 310.94,610.14 310.94,610.2 311.94,610.2 311.94,610.1 312.94,610.1 312.94,609.79 313.94,609.79 313.94,609.97 314.95,609.97 314.95,609.92 315.95,609.92 315.95,609.5 316.95,609.5 316.95,609.76 317.95,609.76 317.95,609.7 318.95,609.7 318.95,609.87 319.95,609.87 319.95,609.19 320.95,609.19 320.95,609.57 321.95,609.57 321.95,609.29 322.96,609.29 322.96,609.37 323.96,609.37 323.96,608.91 324.96,608.91 324.96,608.95 325.96,608.95 325.96,605.77 326.96,605.77 326.96,606.61 327.96,606.61 327.96,606.15 328.96,606.15 328.96,606.2 329.97,606.2 329.97,605.55 330.97,605.55 330.97,604.7 331.97,604.7 331.97,604.26 332.97,604.26 332.97,605.52 333.97,605.52 333.97,605.06 334.97,605.06 334.97,608.01 335.97,608.01 335.97,607.71 336.98,607.71 336.98,607.38 337.98,607.38 337.98,607.33 338.98,607.33 338.98,607.5 339.98,607.5 339.98,606.83 340.98,606.83 340.98,607.18 341.98,607.18 341.98,606.88 342.98,606.88 342.98,606.26 343.99,606.26 343.99,605.9 344.99,605.9 344.99,606.34 345.99,606.34 345.99,605.55 346.99,605.55 346.99,605.74 347.99,605.74 347.99,605.57 348.99,605.57 348.99,605.32 349.99,605.32 349.99,605.42 351,605.42 351,605.2 352,605.2 352,604.7 353,604.7 353,604.64 354,604.64 354,604.6 355,604.6 355,604.36 356,604.36 356,603.55 357,603.55 357,604.05 358.01,604.05 358.01,603.9 359.01,603.9 359.01,603.05 360.01,603.05 360.01,603.33 361.01,603.33 361.01,602.88 362.01,602.88 362.01,602.68 363.01,602.68 363.01,602.79 364.01,602.79 364.01,602.53 365.02,602.53 365.02,602.29 366.02,602.29 366.02,602.14 367.02,602.14 367.02,601.79 368.02,601.79 368.02,601.02 369.02,601.02 369.02,600.91 370.02,600.91 370.02,601.3 371.02,601.3 371.02,601.25 372.03,601.25 372.03,600.56 373.03,600.56 373.03,600.81 374.03,600.81 374.03,600.89 375.03,600.89 375.03,600.78 376.03,600.78 376.03,600.42 377.03,600.42 377.03,600.61 378.03,600.61 378.03,600.61 379.04,600.61 379.04,600.37 380.04,600.37 380.04,599.99 381.04,599.99 381.04,596.98 382.04,596.98 382.04,597.76 383.04,597.76 383.04,596.35 384.04,596.35 384.04,597.46 385.04,597.46 385.04,596.58 386.05,596.58 386.05,596.87 387.05,596.87 387.05,596.98 388.05,596.98 388.05,597.29 389.05,597.29 389.05,596.51 390.05,596.51 390.05,596.61 391.05,596.61 391.05,597.26 392.05,597.26 392.05,597.27 393.05,597.27 393.05,597.03 394.06,597.03 394.06,599.89 395.06,599.89 395.06,600.05 396.06,600.05 396.06,600.24 397.06,600.24 397.06,599.85 398.06,599.85 398.06,600.01 399.06,600.01 399.06,600.3 400.06,600.3 400.06,599.98 401.07,599.98 401.07,600.42 402.07,600.42 402.07,600.17 403.07,600.17 403.07,600.05 404.07,600.05 404.07,599.76 405.07,599.76 405.07,600.48 406.07,600.48 406.07,600.37 407.07,600.37 407.07,600.59 408.08,600.59 408.08,600.47 409.08,600.47 409.08,600.31 410.08,600.31 410.08,600.46 411.08,600.46 411.08,599.95 412.08,599.95 412.08,599.8 413.08,599.8 413.08,600.53 414.08,600.53 414.08,600.3 415.09,600.3 415.09,600.57 416.09,600.57 416.09,600.44 417.09,600.44 417.09,600.55 418.09,600.55 418.09,600.44 419.09,600.44 419.09,599.88 420.09,599.88 420.09,600.8 421.09,600.8 421.09,601.01 422.1,601.01 422.1,600.9 423.1,600.9 423.1,601.34 424.1,601.34 424.1,601.22 425.1,601.22 425.1,601.31 426.1,601.31 426.1,601.82 427.1,601.82 427.1,601.88 428.1,601.88 428.1,601.98 429.11,601.98 429.11,602.13 430.11,602.13 430.11,598.94 431.11,598.94 431.11,599.74 432.11,599.74 432.11,599.39 433.11,599.39 433.11,599.96 434.11,599.96 434.11,602.74 435.11,602.74 435.11,602.82 436.12,602.82 436.12,603.22 437.12,603.22 437.12,603.36 438.12,603.36 438.12,603.75 439.12,603.75 439.12,600.83 440.12,600.83 440.12,601.57 441.12,601.57 441.12,601.26 442.12,601.26 442.12,602.31 443.13,602.31 443.13,602.73 444.13,602.73 444.13,602.52 445.13,602.52 445.13,603.04 446.13,603.04 446.13,603.11 447.13,603.11 447.13,603.1 448.13,603.1 448.13,603.29 449.13,603.29 449.13,603.74 450.14,603.74 450.14,604.52 451.14,604.52 451.14,604.29 452.14,604.29 452.14,607.59 453.14,607.59 453.14,607.19 454.14,607.19 454.14,607.78 455.14,607.78 455.14,607.87 456.14,607.87 456.14,608.61 457.15,608.61 457.15,608.58 458.15,608.58 458.15,606.21 459.15,606.21 459.15,605.58 460.15,605.58 460.15,606.52 461.15,606.52 461.15,606.36 462.15,606.36 462.15,606.69 463.15,606.69 463.15,609.07 464.15,609.07 464.15,609.09 465.16,609.09 465.16,609.35 466.16,609.35 466.16,609.43 467.16,609.43 467.16,608.43 468.16,608.43 468.16,608.96 469.16,608.96 469.16,609.41 470.16,609.41 470.16,609.31 471.16,609.31 471.16,609.16 472.17,609.16 472.17,609.04 473.17,609.04 473.17,608.73 474.17,608.73 474.17,609.11 475.17,609.11 475.17,609.41 476.17,609.41 476.17,609.41 477.17,609.41 477.17,609.34 478.17,609.34 478.17,609.21 479.18,609.21 479.18,608.82 480.18,608.82 480.18,608.71 481.18,608.71 481.18,609.36 482.18,609.36 482.18,609.4 483.18,609.4 483.18,608.81 484.18,608.81 484.18,609.31 485.18,609.31 485.18,608.8 486.19,608.8 486.19,608.93 487.19,608.93 487.19,608.91 488.19,608.91 488.19,608.86 489.19,608.86 489.19,608.42 490.19,608.42 490.19,608.66 491.19,608.66 491.19,608.87 492.19,608.87 492.19,608.7 493.2,608.7 493.2,607.91 494.2,607.91 494.2,608.38 495.2,608.38 495.2,608.45 496.2,608.45 496.2,616.45 495.2,616.45 495.2,616.27 494.2,616.27 494.2,616.65 493.2,616.65 493.2,616.43 492.19,616.43 492.19,616.52 491.19,616.52 491.19,616.62 490.19,616.62 490.19,617.14 489.19,617.14 489.19,616.95 488.19,616.95 488.19,616.98 487.19,616.98 487.19,617.14 486.19,617.14 486.19,616.86 485.18,616.86 485.18,617.43 484.18,617.43 484.18,616.87 483.18,616.87 483.18,616.96 482.18,616.96 482.18,616.94 481.18,616.94 481.18,616.83 480.18,616.83 480.18,617.24 479.18,617.24 479.18,617 478.17,617 478.17,617.08 477.17,617.08 477.17,616.87 476.17,616.87 476.17,616.95 475.17,616.95 475.17,617.06 474.17,617.06 474.17,617.7 473.17,617.7 473.17,617.22 472.17,617.22 472.17,618.14 471.16,618.14 471.16,617.22 470.16,617.22 470.16,617.26 469.16,617.26 469.16,616.96 468.16,616.96 468.16,618.03 467.16,618.03 467.16,617.64 466.16,617.64 466.16,617.8 465.16,617.8 465.16,616.96 464.15,616.96 464.15,617.9 463.15,617.9 463.15,619.82 462.15,619.82 462.15,619.43 461.15,619.43 461.15,620.5 460.15,620.5 460.15,620.53 459.15,620.53 459.15,619.28 458.15,619.28 458.15,616.26 457.15,616.26 457.15,616.2 456.14,616.2 456.14,616.18 455.14,616.18 455.14,615.65 454.14,615.65 454.14,615.47 453.14,615.47 453.14,615.2 452.14,615.2 452.14,618.45 451.14,618.45 451.14,617.2 450.14,617.2 450.14,616.84 449.13,616.84 449.13,616.92 448.13,616.92 448.13,617.84 447.13,617.84 447.13,616.91 446.13,616.91 446.13,616.36 445.13,616.36 445.13,616.17 444.13,616.17 444.13,615.93 443.13,615.93 443.13,615.71 442.12,615.71 442.12,615.2 441.12,615.2 441.12,615.4 440.12,615.4 440.12,614.89 439.12,614.89 439.12,611.66 438.12,611.66 438.12,611.23 437.12,611.23 437.12,611.65 436.12,611.65 436.12,610.84 435.11,610.84 435.11,610.81 434.11,610.81 434.11,612.9 433.11,612.9 433.11,612.65 432.11,612.65 432.11,612.69 431.11,612.69 431.11,612.63 430.11,612.63 430.11,610.27 429.11,610.27 429.11,609.52 428.1,609.52 428.1,610.12 427.1,610.12 427.1,609.35 426.1,609.35 426.1,609.11 425.1,609.11 425.1,609.08 424.1,609.08 424.1,608.94 423.1,608.94 423.1,609.13 422.1,609.13 422.1,609.1 421.09,609.1 421.09,608.61 420.09,608.61 420.09,608.54 419.09,608.54 419.09,608.55 418.09,608.55 418.09,608.46 417.09,608.46 417.09,608.6 416.09,608.6 416.09,608.54 415.09,608.54 415.09,608.23 414.08,608.23 414.08,608.67 413.08,608.67 413.08,608.2 412.08,608.2 412.08,608.63 411.08,608.63 411.08,608.07 410.08,608.07 410.08,608.92 409.08,608.92 409.08,608.23 408.08,608.23 408.08,608.16 407.07,608.16 407.07,608.34 406.07,608.34 406.07,608.3 405.07,608.3 405.07,608.21 404.07,608.21 404.07,607.97 403.07,607.97 403.07,608.5 402.07,608.5 402.07,608.1 401.07,608.1 401.07,608.01 400.06,608.01 400.06,608.31 399.06,608.31 399.06,607.82 398.06,607.82 398.06,608.43 397.06,608.43 397.06,608 396.06,608 396.06,607.83 395.06,607.83 395.06,608.95 394.06,608.95 394.06,610.34 393.05,610.34 393.05,611.53 392.05,611.53 392.05,610.66 391.05,610.66 391.05,610.22 390.05,610.22 390.05,610.25 389.05,610.25 389.05,612.02 388.05,612.02 388.05,611.81 387.05,611.81 387.05,611.06 386.05,611.06 386.05,610.61 385.04,610.61 385.04,610.9 384.04,610.9 384.04,610.63 383.04,610.63 383.04,610.42 382.04,610.42 382.04,610.42 381.04,610.42 381.04,608.27 380.04,608.27 380.04,608.53 379.04,608.53 379.04,608.47 378.03,608.47 378.03,608.24 377.03,608.24 377.03,608.23 376.03,608.23 376.03,608.43 375.03,608.43 375.03,608.51 374.03,608.51 374.03,608.8 373.03,608.8 373.03,608.74 372.03,608.74 372.03,609.07 371.02,609.07 371.02,609.14 370.02,609.14 370.02,609.51 369.02,609.51 369.02,609.74 368.02,609.74 368.02,609.45 367.02,609.45 367.02,609.86 366.02,609.86 366.02,609.77 365.02,609.77 365.02,610.46 364.01,610.46 364.01,610.45 363.01,610.45 363.01,611.12 362.01,611.12 362.01,610.87 361.01,610.87 361.01,611.76 360.01,611.76 360.01,611.14 359.01,611.14 359.01,611.84 358.01,611.84 358.01,611.98 357,611.98 357,611.92 356,611.92 356,612.23 355,612.23 355,612.15 354,612.15 354,612.36 353,612.36 353,612.52 352,612.52 352,612.81 351,612.81 351,613.07 349.99,613.07 349.99,613.24 348.99,613.24 348.99,613.28 347.99,613.28 347.99,613.94 346.99,613.94 346.99,614.04 345.99,614.04 345.99,613.99 344.99,613.99 344.99,614.45 343.99,614.45 343.99,614.35 342.98,614.35 342.98,614.78 341.98,614.78 341.98,614.71 340.98,614.71 340.98,614.84 339.98,614.84 339.98,615.38 338.98,615.38 338.98,615.44 337.98,615.44 337.98,615.33 336.98,615.33 336.98,615.91 335.97,615.91 335.97,616 334.97,616 334.97,619.42 333.97,619.42 333.97,619.32 332.97,619.32 332.97,618.98 331.97,618.98 331.97,619.17 330.97,619.17 330.97,620.02 329.97,620.02 329.97,619.44 328.96,619.44 328.96,620.22 327.96,620.22 327.96,619.3 326.96,619.3 326.96,620.78 325.96,620.78 325.96,617.26 324.96,617.26 324.96,617.02 323.96,617.02 323.96,617.1 322.96,617.1 322.96,617.12 321.95,617.12 321.95,617.79 320.95,617.79 320.95,617.99 319.95,617.99 319.95,617.25 318.95,617.25 318.95,617.32 317.95,617.32 317.95,617.8 316.95,617.8 316.95,617.99 315.95,617.99 315.95,618.44 314.95,618.44 314.95,617.8 313.94,617.8 313.94,617.81 312.94,617.81 312.94,617.97 311.94,617.97 311.94,618.38 310.94,618.38 310.94,617.82 309.94,617.82 309.94,617.88 308.94,617.88 308.94,617.81 307.94,617.81 307.94,618.52 306.93,618.52 306.93,618.18 305.93,618.18 305.93,618.17 304.93,618.17 304.93,617.78 303.93,617.78 303.93,618.2 302.93,618.2 302.93,617.85 301.93,617.85 301.93,617.9 300.93,617.9 300.93,618.08 299.92,618.08 299.92,618.12 298.92,618.12 298.92,618.39 297.92,618.39 297.92,617.71 296.92,617.71 296.92,618.13 295.92,618.13 295.92,617.9 294.92,617.9 294.92,618.26 293.92,618.26 293.92,618.02 292.91,618.02 292.91,617.85 291.91,617.85 291.91,618.04 290.91,618.04 290.91,618.12 289.91,618.12 289.91,618.36 288.91,618.36 288.91,617.47 287.91,617.47 287.91,617.71 286.91,617.71 286.91,617.35 285.9,617.35 285.9,617.2 284.9,617.2 284.9,617.22 283.9,617.22 283.9,617.51 282.9,617.51 282.9,616.29 281.9,616.29 281.9,616.08 280.9,616.08 280.9,616.09 279.9,616.09 279.9,615.08 278.89,615.08 278.89,615.42 277.89,615.42 277.89,614.52 276.89,614.52 276.89,614.76 275.89,614.76 275.89,613.83 274.89,613.83 274.89,613.76 273.89,613.76 273.89,613.33 272.89,613.33 272.89,613.33 271.88,613.33 271.88,612.78 270.88,612.78 270.88,612.28 269.88,612.28 269.88,611.98 268.88,611.98 268.88,611.76 267.88,611.76 267.88,611.85 266.88,611.85 266.88,611.47 265.88,611.47 265.88,611.09 264.87,611.09 264.87,610.47 263.87,610.47 263.87,610.32 262.87,610.32 262.87,610.74 261.87,610.74 261.87,610.41 260.87,610.41 260.87,613.12 259.87,613.12 259.87,612.26 258.87,612.26 258.87,609.98 257.86,609.98 257.86,609.25 256.86,609.25 256.86,609.56 255.86,609.56 255.86,609.65 254.86,609.65 254.86,609.06 253.86,609.06 253.86,609.16 252.86,609.16 252.86,608.51 251.86,608.51 251.86,608.42 250.85,608.42 250.85,608.66 249.85,608.66 249.85,608.48 248.85,608.48 248.85,608.13 247.85,608.13 247.85,608.45 246.85,608.45 246.85,608.04 245.85,608.04 245.85,608.08 244.85,608.08 244.85,608.74 243.85,608.74 243.85,608.25 242.84,608.25 242.84,608.07 241.84,608.07 241.84,608.51 240.84,608.51 240.84,607.66 239.84,607.66 239.84,607.74 238.84,607.74 238.84,607.81 237.84,607.81 237.84,608.57 236.84,608.57 236.84,607.49 235.83,607.49 235.83,607.47 234.83,607.47 234.83,607.38 233.83,607.38 233.83,607.87 232.83,607.87 232.83,608.44 231.83,608.44 231.83,607.86 230.83,607.86 230.83,607.36 229.83,607.36 229.83,607.47 228.82,607.47 228.82,607.44 227.82,607.44 227.82,610.51 226.82,610.51 226.82,610.87 225.82,610.87 225.82,607.67 224.82,607.67 224.82,607.74 223.82,607.74 223.82,607.79 222.82,607.79 222.82,607.6 221.81,607.6 221.81,610.05 220.81,610.05 220.81,607.62 219.81,607.62 219.81,608.05 218.81,608.05 218.81,607.62 217.81,607.62 217.81,607.48 216.81,607.48 216.81,609.48 215.81,609.48 215.81,611.93 214.8,611.93 214.8,612.68 213.8,612.68 213.8,613 212.8,613 212.8,613.09 211.8,613.09"/>
<line x1="211.94" y1="565.63" x2="211.94" y2="578.5" stroke="#00ff00" stroke-width="1"/>
<line x1="211.99" y1="614.67" x2="211.99" y2="621.41" stroke="#ffff00" stroke-width="1.6"/>
<line x1="212.51" y1="578.5" x2="212.51" y2="622.03" stroke="#000" stroke-width="1.5"/>
<polyline fill="none" stroke="#000" stroke-width="1.15" stroke-linejoin="round" points="211.8,578.5 212.46,622.03 212.51,622.02 213.23,619.9 213.94,615.81 214.64,612.22 214.65,612.19 215.36,609.68 216.08,607.38 216.79,605.33 217.49,603.64 217.5,603.64 218.22,603.64 218.93,603.64 219.64,603.64 220.35,603.64 221.07,603.64 221.78,603.64 222.49,603.64 223.2,603.64 223.92,603.64 224.63,603.64 225.34,603.64 226.06,603.64 226.77,603.64 227.48,603.64 228.19,603.64 228.91,603.64 229.62,603.64 230.33,603.64 231.05,603.64 231.76,603.64 232.47,603.65 233.18,603.66 233.9,603.67 234.61,603.69 235.32,603.71 236.03,603.73 236.75,603.76 237.46,603.79 238.17,603.82 238.89,603.85 239.6,603.89 240.31,603.92 241.02,603.96 241.74,604 242.45,604.05 243.16,604.09 243.88,604.14 244.59,604.19 245.3,604.24 246.01,604.29 246.73,604.34 247.44,604.39 248.15,604.44 248.86,604.49 249.58,604.55 250.29,604.6 251,604.67 251.72,604.73 252.43,604.81 253.14,604.89 253.85,604.98 254.57,605.07 255.28,605.17 255.99,605.28 256.71,605.39 257.42,605.5 258.13,605.62 258.84,605.74 259.56,605.87 260.27,605.99 260.98,606.13 261.69,606.26 262.41,606.4 263.12,606.54 263.83,606.68 264.55,606.83 265.26,606.99 265.97,607.17 266.68,607.35 267.4,607.55 268.11,607.76 268.82,607.97 269.54,608.19 270.25,608.42 270.96,608.65 271.67,608.89 272.39,609.12 273.1,609.36 273.81,609.6 274.52,609.84 275.24,610.07 275.95,610.31 276.66,610.54 277.38,610.76 278.09,610.97 278.8,611.19 279.51,611.44 280.23,611.69 280.94,611.96 281.65,612.23 282.37,612.49 283.08,612.75 283.79,612.99 284.5,613.2 285.22,613.39 285.93,613.55 286.64,613.67 287.35,613.74 288.07,613.77 288.78,613.79 289.49,613.81 290.21,613.83 290.92,613.85 291.63,613.87 292.34,613.89 293.06,613.91 293.77,613.92 294.48,613.94 295.2,613.95 295.91,613.97 296.62,613.98 297.33,613.99 298.05,614 298.76,614.01 299.47,614.02 300.18,614.03 300.9,614.03 301.61,614.04 302.32,614.04 303.04,614.05 303.75,614.05 304.46,614.06 305.17,614.06 305.89,614.06 306.6,614.06 307.31,614.06 308.03,614.05 308.74,614.04 309.45,614.03 310.16,614.01 310.88,613.99 311.59,613.97 312.3,613.95 313.02,613.92 313.73,613.89 314.44,613.85 315.15,613.82 315.87,613.78 316.58,613.74 317.29,613.7 318,613.66 318.72,613.61 319.43,613.57 320.14,613.52 320.86,613.47 321.57,613.42 322.28,613.37 322.99,613.32 323.71,613.27 324.42,613.22 325.13,613.17 325.85,613.12 326.56,613.06 327.27,613 327.98,612.93 328.7,612.86 329.41,612.78 330.12,612.7 330.83,612.61 331.55,612.52 332.26,612.43 332.97,612.33 333.69,612.22 334.4,612.12 335.11,612.01 335.82,611.89 336.54,611.78 337.25,611.66 337.96,611.54 338.68,611.41 339.39,611.29 340.1,611.16 340.81,611.03 341.53,610.9 342.24,610.76 342.95,610.63 343.66,610.49 344.38,610.36 345.09,610.22 345.8,610.08 346.52,609.95 347.23,609.81 347.94,609.67 348.65,609.53 349.37,609.4 350.08,609.26 350.79,609.13 351.51,609 352.22,608.86 352.93,608.73 353.64,608.61 354.36,608.48 355.07,608.34 355.78,608.21 356.49,608.06 357.21,607.91 357.92,607.76 358.63,607.6 359.35,607.44 360.06,607.28 360.77,607.12 361.48,606.96 362.2,606.8 362.91,606.63 363.62,606.48 364.34,606.32 365.05,606.16 365.76,606.01 366.47,605.87 367.19,605.73 367.9,605.59 368.61,605.46 369.32,605.34 370.04,605.23 370.75,605.13 371.46,605.03 372.18,604.95 372.89,604.87 373.6,604.8 374.31,604.74 375.03,604.67 375.74,604.6 376.45,604.54 377.17,604.47 377.88,604.41 378.59,604.35 379.3,604.29 380.02,604.24 380.73,604.19 381.44,604.14 382.15,604.1 382.87,604.06 383.58,604.03 384.29,604 385.01,603.98 385.72,603.96 386.43,603.95 387.14,603.94 387.86,603.94 388.57,603.95 389.28,603.95 390,603.95 390.71,603.96 391.42,603.96 392.13,603.97 392.85,603.97 393.56,603.98 394.27,603.99 394.98,604 395.7,604.01 396.41,604.02 397.12,604.03 397.84,604.04 398.55,604.06 399.26,604.07 399.97,604.08 400.69,604.1 401.4,604.12 402.11,604.13 402.83,604.15 403.54,604.17 404.25,604.19 404.96,604.21 405.68,604.23 406.39,604.25 407.1,604.27 407.82,604.29 408.53,604.31 409.24,604.33 409.95,604.36 410.67,604.38 411.38,604.4 412.09,604.43 412.8,604.45 413.52,604.48 414.23,604.51 414.94,604.53 415.66,604.56 416.37,604.59 417.08,604.62 417.79,604.66 418.51,604.71 419.22,604.76 419.93,604.82 420.65,604.88 421.36,604.94 422.07,605.01 422.78,605.08 423.5,605.16 424.21,605.24 424.92,605.32 425.63,605.41 426.35,605.49 427.06,605.59 427.77,605.68 428.49,605.78 429.2,605.88 429.91,605.98 430.62,606.09 431.34,606.2 432.05,606.3 432.76,606.42 433.48,606.53 434.19,606.64 434.9,606.76 435.61,606.89 436.33,607.03 437.04,607.19 437.75,607.36 438.46,607.53 439.18,607.72 439.89,607.92 440.6,608.12 441.32,608.32 442.03,608.53 442.74,608.74 443.45,608.95 444.17,609.16 444.88,609.37 445.59,609.57 446.31,609.76 447.02,609.95 447.73,610.13 448.44,610.3 449.16,610.46 449.87,610.63 450.58,610.8 451.29,610.98 452.01,611.17 452.72,611.35 453.43,611.54 454.15,611.72 454.86,611.9 455.57,612.07 456.28,612.24 457,612.4 457.71,612.55 458.42,612.68 459.14,612.81 459.85,612.91 460.56,613 461.27,613.07 461.99,613.11 462.7,613.14 463.41,613.14 464.12,613.14 464.84,613.14 465.55,613.14 466.26,613.14 466.98,613.14 467.69,613.14 468.4,613.14 469.11,613.14 469.83,613.14 470.54,613.14 471.25,613.14 471.97,613.14 472.68,613.14 473.39,613.14 474.1,613.14 474.82,613.14 475.53,613.14 476.24,613.14 476.95,613.14 477.67,613.14 478.38,613.14 479.09,613.14 479.81,613.14 480.52,613.14 481.23,613.14 481.94,613.14 482.66,613.14 483.37,613.13 484.08,613.11 484.8,613.09 485.51,613.06 486.22,613.02 486.93,612.99 487.65,612.94 488.36,612.9 489.07,612.85 489.78,612.79 490.5,612.73 491.21,612.67 491.92,612.61 492.64,612.55 493.35,612.48 494.06,612.42 494.77,612.35 495.49,612.29 496.2,612.22"/>
<rect x="221" y="526.4" width="0.85" height="183.9" fill="rgba(0,0,255,0.2)"/>
<rect x="225.74" y="526.4" width="2.09" height="183.9" fill="rgba(0,0,255,0.2)"/>
<rect x="259.11" y="526.4" width="1.99" height="183.9" fill="rgba(0,0,255,0.2)"/>
<rect x="325.56" y="526.4" width="9.48" height="183.9" fill="rgba(0,0,255,0.2)"/>
<rect x="380.54" y="526.4" width="13.27" height="183.9" fill="rgba(0,0,255,0.2)"/>
<rect x="429.84" y="526.4" width="4.55" height="183.9" fill="rgba(0,0,255,0.2)"/>
<rect x="439.32" y="526.4" width="12.32" height="183.9" fill="rgba(0,0,255,0.2)"/>
<rect x="458" y="526.4" width="5.02" height="183.9" fill="rgba(0,0,255,0.2)"/>
</g>
<rect x="211.8" y="526.4" width="284.4" height="183.9" fill="none" stroke="#262626" stroke-width="0.45"/>
<path d="M211.8,710.3 v-2.8 M211.8,526.4 v2.8 M259.2,710.3 v-2.8 M259.2,526.4 v2.8 M306.6,710.3 v-2.8 M306.6,526.4 v2.8 M354,710.3 v-2.8 M354,526.4 v2.8 M401.4,710.3 v-2.8 M401.4,526.4 v2.8 M448.8,710.3 v-2.8 M448.8,526.4 v2.8 M496.2,710.3 v-2.8 M496.2,526.4 v2.8 M211.8,710.3 h2.8 M496.2,710.3 h-2.8 M211.8,679.65 h2.8 M496.2,679.65 h-2.8 M211.8,649 h2.8 M496.2,649 h-2.8 M211.8,618.35 h2.8 M496.2,618.35 h-2.8 M211.8,587.7 h2.8 M496.2,587.7 h-2.8 M211.8,557.05 h2.8 M496.2,557.05 h-2.8 M211.8,526.4 h2.8 M496.2,526.4 h-2.8" stroke="#262626" stroke-width="0.5" fill="none"/>
<g font-family='"Liberation Sans", sans-serif' font-size="9" fill="#262626">
<text x="211.8" y="721.5" text-anchor="middle">0</text>
<text x="259.2" y="721.5" text-anchor="middle">50</text>
<text x="306.6" y="721.5" text-anchor="middle">100</text>
<text x="354" y="721.5" text-anchor="middle">150</text>
<text x="401.4" y="721.5" text-anchor="middle">200</text>
<text x="448.8" y="721.5" text-anchor="middle">250</text>
<text x="496.2" y="721.5" text-anchor="middle">300</text>
<text x="208.4" y="713.5" text-anchor="end">-15</text>
<text x="208.4" y="682.85" text-anchor="end">-10</text>
<text x="208.4" y="652.2" text-anchor="end">-5</text>
<text x="208.4" y="621.55" text-anchor="end">0</text>
<text x="208.4" y="590.9" text-anchor="end">5</text>
<text x="208.4" y="560.25" text-anchor="end">10</text>
<text x="208.4" y="529.6" text-anchor="end">15</text>
</g>
<text x="354.4" y="729.9" text-anchor="middle" font-family='"Liberation Serif", serif' font-size="8.8" textLength="41.6" lengthAdjust="spacingAndGlyphs" fill="#262626">Time(Sec)</text>
<text transform="translate(189.8,618.35) rotate(-90)" text-anchor="middle" font-family='"Liberation Serif", serif' font-size="10" fill="#3a3a3a"><tspan font-style="italic">ψ</tspan>(°)</text>
<rect x="216.7" y="600.6" width="8.9" height="7" fill="none" stroke="#000" stroke-width="0.6"/>
<line x1="223" y1="607.6" x2="242.66" y2="635.33" stroke="#000" stroke-width="0.6"/>
<polygon fill="#000" points="245.9,639.9 238.98,635.49 242.66,635.33 244.03,631.91"/>
<rect x="242.9" y="642.2" width="75.9" height="54.2" fill="#ffff00"/>
<clipPath id="cie"><rect x="242.9" y="642.2" width="75.9" height="54.2"/></clipPath>
<g clip-path="url(#cie)">
<polyline fill="none" points="243.7,648.85 245.2,648.7 246.7,648.72 248.2,648.32 249.7,648.12 251.2,648.81 252.7,648.5 254.2,648.77 255.7,647.95 257.2,648.54 258.7,648.33 260.2,648.66 261.7,647.68 263.2,648.44 264.7,648.34 266.2,648.24 267.7,648.12 269.2,648.93 270.7,648.54 272.2,648.45 273.7,648.47 275.2,648.67 276.7,648.66 278.2,648.85 279.7,647.85 281.2,647.78 282.7,648.36 284.2,648.01 285.7,648.71 287.2,648.34 288.7,649.18 290.2,648.46 291.7,648.14 293.2,648.37 294.7,648.84 296.2,648.64 297.7,648.49 299.2,648.27 300.7,648.06 302.2,648.32 303.7,649.09 305.2,648.5 306.7,648.12 308.2,648.01 309.7,648.56 311.2,648.87 312.7,648.75 314.2,648.27 315.7,648.02 317.2,648.71 318.7,648.25 320.2,648.81" stroke="#00ff00" stroke-width="2.4" stroke-dasharray="2.72 1.32 1.54 0.96 7.92 1.07 1.4 1.26 5.9 0.98 0.83 1.16 8.27 1.13 0.98 0.57 4.99 0.55 2.09 1.42 4.51 0.79 2.05 0.44 5.9 0.66 1.92 0.55 5.69 1.03 1.41 1.26 6.08 0.7 1.74 1.2 3 0.6 0.85 0.44 7.33 1.18 1.72 0.98 7.05 1.49 0.88 0.58" stroke-dashoffset="19.74"/>
<polyline fill="none" points="243.7,656.39 245.2,657.11 246.7,656.78 248.2,656.6 249.7,658.01 251.2,656.22 252.7,656.9 254.2,656.96 255.7,657.33 257.2,656.5 258.7,657.06 260.2,657.05 261.7,656.91 263.2,657.03 264.7,656.81 266.2,656.72 267.7,657.21 269.2,656.57 270.7,657.06 272.2,656.66 273.7,656.64 275.2,657.32 276.7,656.83 278.2,656.52 279.7,656.86 281.2,657.03 282.7,656.63 284.2,656.92 285.7,656.56 287.2,656.35 288.7,657.2 290.2,657.07 291.7,657.28 293.2,657.57 294.7,657.46 296.2,657.02 297.7,656.9 299.2,656.73 300.7,657.35 302.2,657.01 303.7,656.86 305.2,656.59 306.7,656.73 308.2,656.84 309.7,656.81 311.2,656.85 312.7,657.02 314.2,657.41 315.7,657.13 317.2,656.99 318.7,657.05 320.2,657.22" stroke="#00ff00" stroke-width="2.4" stroke-dasharray="4.12 1.32 1.52 0.5 3.24 0.65 2.31 0.46 8 0.89 0.81 1.48 4.9 0.77 1.73 1.21 3.01 0.91 2.14 0.64 6.07 1.15 2.18 1.12 3 1.1 2.05 1.26 6.52 1.5 1.72 0.67 5.18 0.5 1.92 0.64 3.52 1.35 0.86 1.27 7.95 1.07 0.88 0.89 5.81 1.26 2.17 1.37" stroke-dashoffset="14.84"/>
<polyline fill="none" points="243.7,664.99 245.2,664.95 246.7,664.22 248.2,664.97 249.7,665.04 251.2,664.59 252.7,665.24 254.2,664.87 255.7,664.91 257.2,664.42 258.7,664.56 260.2,664.76 261.7,664.92 263.2,664.92 264.7,664.69 266.2,664.96 267.7,664.37 269.2,664.75 270.7,664.59 272.2,664.6 273.7,664.86 275.2,664.81 276.7,664.97 278.2,665.11 279.7,664.25 281.2,665.06 282.7,664.65 284.2,664.83 285.7,664.77 287.2,664.94 288.7,664.5 290.2,664.5 291.7,664.54 293.2,664.65 294.7,664.85 296.2,664.84 297.7,664.67 299.2,665.06 300.7,664.71 302.2,664.53 303.7,664.96 305.2,664.35 306.7,664.94 308.2,665.05 309.7,664.82 311.2,665.35 312.7,664.63 314.2,664.26 315.7,665.22 317.2,664.8 318.7,664.98 320.2,664.84" stroke="#00ff00" stroke-width="2.4" stroke-dasharray="4.52 0.67 1.4 1.07 6.63 1.16 2.35 0.76 2.85 0.58 2.09 1.34 7.12 0.88 1.49 1.1 7.18 1.01 1.89 0.47 7.79 1.19 2.45 0.96 5.41 0.6 1.84 0.56 8.46 1.09 1.64 0.44 3 0.62 1.96 0.89 6.15 0.91 1.5 1.41 2.8 0.77 1.43 1.34 7.38 1.33 1.52 1.32" stroke-dashoffset="14.14"/>
<polyline fill="none" points="243.7,673.86 245.2,673.53 246.7,674.23 248.2,674.04 249.7,673.99 251.2,673.79 252.7,674.26 254.2,673.98 255.7,674.04 257.2,673.82 258.7,674.54 260.2,673.95 261.7,674.11 263.2,674.08 264.7,674.04 266.2,674.18 267.7,673.93 269.2,674.6 270.7,674.19 272.2,673.84 273.7,674.37 275.2,674.53 276.7,673.85 278.2,673.72 279.7,674.08 281.2,674.1 282.7,674.27 284.2,673.84 285.7,674.49 287.2,674.32 288.7,673.68 290.2,674.22 291.7,673.97 293.2,674 294.7,673.89 296.2,674.68 297.7,674.37 299.2,674.03 300.7,673.99 302.2,673.62 303.7,675.02 305.2,673.87 306.7,674.6 308.2,674.25 309.7,673.98 311.2,674.38 312.7,674.04 314.2,674.12 315.7,674.46 317.2,673.87 318.7,674.67 320.2,673.56" stroke="#00ff00" stroke-width="2.4" stroke-dasharray="7.27 0.48 2.24 1.17 2.89 1.28 2.01 0.56 6.1 0.42 2.16 0.98 5.85 1.06 2.28 0.43 5.21 0.86 1.13 0.89 5.54 0.99 1 0.71 7.12 1.15 1.59 0.93 4.89 0.88 2.08 1.11 6.32 0.51 2.32 0.82 5.73 0.98 1.67 0.62 4.74 0.97 1.82 1.43 4.23 0.83 2.48 1.04" stroke-dashoffset="9.35"/>
<polyline fill="none" points="243.7,681.87 245.2,681.62 246.7,682.1 248.2,681.99 249.7,681.4 251.2,682.08 252.7,681.46 254.2,681.86 255.7,682.53 257.2,681.55 258.7,682.26 260.2,681.29 261.7,681.39 263.2,681.42 264.7,681.59 266.2,681.48 267.7,682.02 269.2,682.23 270.7,681.7 272.2,681.51 273.7,681.76 275.2,681.75 276.7,681.4 278.2,681.74 279.7,681.73 281.2,681.94 282.7,682.36 284.2,681.82 285.7,681.9 287.2,682.13 288.7,682.47 290.2,681.84 291.7,681.64 293.2,681.94 294.7,682.15 296.2,681.97 297.7,682.19 299.2,681.77 300.7,681.81 302.2,681.65 303.7,681.89 305.2,681.75 306.7,681.79 308.2,681.44 309.7,681.83 311.2,681.77 312.7,681.73 314.2,681.8 315.7,681.7 317.2,681.96 318.7,681.95 320.2,681.58" stroke="#00ff00" stroke-width="2.4" stroke-dasharray="4.91 0.67 1.77 0.86 6.3 1.35 1.23 0.93 7.42 1.1 2.24 0.7 6.67 0.94 1.79 0.91 5.5 1.47 1.96 0.71 5.37 1.42 1.11 0.67 7.61 1.25 1.34 0.57 3.77 0.9 0.84 1.12 3.71 0.87 1.55 0.46 8.26 0.57 1.06 1.17 3.93 1.11 1.84 0.45 8.07 1.2 1.61 1.41" stroke-dashoffset="11.39"/>
<polyline fill="none" points="243.7,689.82 245.2,690.01 246.7,689.3 248.2,688.9 249.7,689.4 251.2,689.32 252.7,689.63 254.2,689.52 255.7,689.57 257.2,689.99 258.7,689.3 260.2,689.66 261.7,689.58 263.2,689.41 264.7,689.37 266.2,689.36 267.7,689.72 269.2,689.6 270.7,689.83 272.2,690.26 273.7,689.79 275.2,689.53 276.7,689.68 278.2,689.38 279.7,689.31 281.2,689.49 282.7,689.72 284.2,689.3 285.7,689.53 287.2,688.95 288.7,689.25 290.2,690.01 291.7,689.78 293.2,690.3 294.7,689.62 296.2,689.8 297.7,689.84 299.2,689.35 300.7,689.57 302.2,689.89 303.7,689.35 305.2,689.67 306.7,690.23 308.2,689.53 309.7,689.44 311.2,689.68 312.7,689.58 314.2,690.25 315.7,689.19 317.2,689.34 318.7,689.97 320.2,689.51" stroke="#00ff00" stroke-width="2.4" stroke-dasharray="5.98 0.95 2.24 1.07 3.69 1.02 1.44 1.2 7.09 1.45 2.36 1.39 2.65 1.33 1.39 0.58 3.21 1.15 2.01 0.82 3.48 0.5 1.85 1.22 6.94 1.17 1.97 1.25 5.38 1.35 2.12 1.43 4.83 0.68 1.18 1.45 7.16 1.3 1.91 1.08 7.49 1.41 2.05 0.46 8.29 0.53 0.85 0.51" stroke-dashoffset="13"/>
<line x1="248.18" y1="670.7" x2="248.18" y2="675.29" stroke="#ff0000" stroke-width="1.2"/>
<line x1="251.58" y1="670.7" x2="251.58" y2="667.08" stroke="#ff0000" stroke-width="1.2"/>
<line x1="256.35" y1="670.7" x2="256.35" y2="674.82" stroke="#ff0000" stroke-width="1.2"/>
<line x1="263.4" y1="670.7" x2="263.4" y2="667.91" stroke="#ff0000" stroke-width="1.2"/>
<line x1="266.32" y1="670.7" x2="266.32" y2="667.57" stroke="#ff0000" stroke-width="1.2"/>
<line x1="273.45" y1="670.7" x2="273.45" y2="674.86" stroke="#ff0000" stroke-width="1.2"/>
<line x1="277.04" y1="670.7" x2="277.04" y2="674" stroke="#ff0000" stroke-width="1.2"/>
<line x1="282.7" y1="670.7" x2="282.7" y2="667.76" stroke="#ff0000" stroke-width="1.2"/>
<line x1="288.85" y1="670.7" x2="288.85" y2="675.21" stroke="#ff0000" stroke-width="1.2"/>
<line x1="293.21" y1="670.7" x2="293.21" y2="667.56" stroke="#ff0000" stroke-width="1.2"/>
<line x1="242.9" y1="670.95" x2="318.8" y2="670.95" stroke="#0000d0" stroke-width="1.35"/>
<line x1="242.9" y1="670.7" x2="318.8" y2="670.7" stroke="#000" stroke-width="1.0"/>
<rect x="296.8" y="642.2" width="22" height="54.2" fill="rgba(0,0,255,0.2)"/>
</g>
<g font-family='"Liberation Sans", sans-serif' font-size="6.9" fill="#262626">
<text x="249.4" y="703.5" text-anchor="middle">9.7</text>
<text x="265.3" y="703.5" text-anchor="middle">9.8</text>
<text x="281.4" y="703.5" text-anchor="middle">9.9</text>
<text x="296.8" y="703.5" text-anchor="middle">10</text>
<text x="312.5" y="703.5" text-anchor="middle">10.1</text>
<text x="241.8" y="648.1" text-anchor="end">2.45</text>
<text x="241.8" y="663.3" text-anchor="end">2.4</text>
<text x="241.8" y="678.5" text-anchor="end">2.35</text>
<text x="241.8" y="693.6" text-anchor="end">2.3</text>
</g>
<rect x="368.5" y="626.1" width="122" height="82.5" fill="#fff" stroke="#262626" stroke-width="0.45"/>
<g font-family='"Liberation Serif", serif' font-size="7.1" fill="#000">
<line x1="371.2" y1="630.4" x2="397.6" y2="630.4" stroke="#00ff00" stroke-width="1.5" stroke-dasharray="5.2 1.6 2.0 1.8"/>
<text x="399.5" y="632.85" textLength="35" lengthAdjust="spacingAndGlyphs">sensor 1th</text>
<line x1="371.2" y1="638.43" x2="397.6" y2="638.43" stroke="#00ff00" stroke-width="1.5" stroke-dasharray="5.2 1.6 2.0 1.8"/>
<text x="399.5" y="640.88" textLength="35" lengthAdjust="spacingAndGlyphs">sensor 2th</text>
<line x1="371.2" y1="646.46" x2="397.6" y2="646.46" stroke="#00ff00" stroke-width="1.5" stroke-dasharray="5.2 1.6 2.0 1.8"/>
<text x="399.5" y="648.91" textLength="35" lengthAdjust="spacingAndGlyphs">sensor 3th</text>
<line x1="371.2" y1="654.49" x2="397.6" y2="654.49" stroke="#00ff00" stroke-width="1.5" stroke-dasharray="5.2 1.6 2.0 1.8"/>
<text x="399.5" y="656.94" textLength="35" lengthAdjust="spacingAndGlyphs">sensor 4th</text>
<line x1="371.2" y1="662.52" x2="397.6" y2="662.52" stroke="#00ff00" stroke-width="1.5" stroke-dasharray="5.2 1.6 2.0 1.8"/>
<text x="399.5" y="664.97" textLength="35" lengthAdjust="spacingAndGlyphs">sensor 5th</text>
<line x1="371.2" y1="670.55" x2="397.6" y2="670.55" stroke="#ffff00" stroke-width="1.5" stroke-dasharray="5.6 4.7"/>
<text x="399.5" y="673" textLength="65" lengthAdjust="spacingAndGlyphs">Algorithm 1 in [26]</text>
<line x1="371.2" y1="678.58" x2="397.6" y2="678.58" stroke="#ff0000" stroke-width="1.5" stroke-dasharray="5.6 4.7"/>
<text x="399.5" y="681.03" textLength="65" lengthAdjust="spacingAndGlyphs">Algorithm 2 in [26]</text>
<line x1="371.2" y1="686.61" x2="397.6" y2="686.61" stroke="#0000ff" stroke-width="1.5" stroke-dasharray="5.2 1.6 2.0 1.8"/>
<text x="399.5" y="689.06" textLength="57" lengthAdjust="spacingAndGlyphs">Unattacked data</text>
<line x1="371.2" y1="694.64" x2="397.6" y2="694.64" stroke="#000" stroke-width="1.4"/>
<text x="399.5" y="697.09" textLength="87.6" lengthAdjust="spacingAndGlyphs">Algorithm 1 in this paper</text>
<rect x="371.2" y="699.97" width="26.4" height="5.4" fill="#ccccff"/>
<text x="399.5" y="705.12" textLength="41" lengthAdjust="spacingAndGlyphs">Attack time</text>
</g>
<text x="322.6" y="763.1" font-family='"Liberation Serif", serif' font-size="18.4" textLength="21.6" lengthAdjust="spacingAndGlyphs" fill="#111">(e)</text>
<text x="350.6" y="763.1" font-family='"Liberation Serif", serif' font-size="18.4" font-style="italic" fill="#111">ψ</text>
</svg>
</body></html>
